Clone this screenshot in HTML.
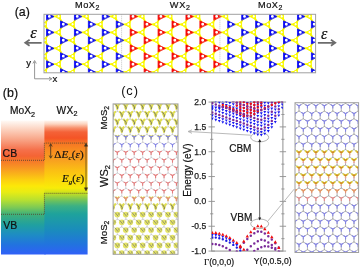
<!DOCTYPE html>
<html><head><meta charset="utf-8"><style>html,body{margin:0;padding:0;background:#fff;width:361px;height:267px;overflow:hidden}svg{display:block;will-change:transform}</style></head>
<body><svg width="361" height="267" viewBox="0 0 361 267">
<defs>
<linearGradient id="gl" x1="0" y1="120.5" x2="0" y2="254.5" gradientUnits="userSpaceOnUse"><stop offset="0.000" stop-color="#fffaf6"/><stop offset="0.071" stop-color="#fcd0bc"/><stop offset="0.146" stop-color="#f8a284"/><stop offset="0.220" stop-color="#f5704a"/><stop offset="0.265" stop-color="#f46434"/><stop offset="0.295" stop-color="#f5742a"/><stop offset="0.369" stop-color="#f8a020"/><stop offset="0.444" stop-color="#fcd010"/><stop offset="0.489" stop-color="#fce808"/><stop offset="0.534" stop-color="#e8ec14"/><stop offset="0.593" stop-color="#b8e030"/><stop offset="0.653" stop-color="#78c858"/><stop offset="0.698" stop-color="#40b078"/><stop offset="0.780" stop-color="#20a0a0"/><stop offset="0.854" stop-color="#1e8cc4"/><stop offset="0.929" stop-color="#2272e0"/><stop offset="1.000" stop-color="#3060f8"/></linearGradient>
<linearGradient id="gr" x1="0" y1="120.5" x2="0" y2="254.5" gradientUnits="userSpaceOnUse"><stop offset="0.000" stop-color="#fff6f0"/><stop offset="0.026" stop-color="#fcd4c0"/><stop offset="0.056" stop-color="#f8906c"/><stop offset="0.086" stop-color="#f46238"/><stop offset="0.131" stop-color="#f45426"/><stop offset="0.168" stop-color="#f67424"/><stop offset="0.220" stop-color="#f88c20"/><stop offset="0.295" stop-color="#f8a020"/><stop offset="0.369" stop-color="#fbbe14"/><stop offset="0.444" stop-color="#fcd80c"/><stop offset="0.504" stop-color="#f8ec08"/><stop offset="0.541" stop-color="#c8e020"/><stop offset="0.571" stop-color="#98d040"/><stop offset="0.601" stop-color="#68c060"/><stop offset="0.638" stop-color="#3cb084"/><stop offset="0.698" stop-color="#1ea29c"/><stop offset="0.817" stop-color="#1a8cbc"/><stop offset="0.929" stop-color="#2272e0"/><stop offset="1.000" stop-color="#3060f8"/></linearGradient>
<marker id="ah" viewBox="0 0 10 10" refX="9" refY="5" markerWidth="5" markerHeight="5" orient="auto-start-reverse"><path d="M0 0L10 5L0 10z" fill="#707070"/></marker>
</defs>
<style>
text{font-family:"Liberation Sans",sans-serif;fill:#111;stroke:#111;stroke-width:0.2px}
.tk{font-size:8.5px;fill:#222;stroke:#222;stroke-width:0.25px}
.lab{font-size:10.5px}
.serg{font-family:"Liberation Serif",serif;font-size:9px}
.ser{font-family:"Liberation Serif",serif;font-style:italic}
</style>
<rect width="361" height="267" fill="#fff"/>
<clipPath id="ca"><rect x="44.0" y="14.3" width="271.6" height="58.5"/></clipPath><g clip-path="url(#ca)" stroke-linecap="round"><path d="M35.41 -7.56L44.71 -7.56M35.41 -7.56L30.76 -15.52M35.41 -7.56L30.76 0.41M35.41 8.37L44.71 8.37M35.41 8.37L30.76 0.41M35.41 8.37L30.76 16.34M35.41 24.30L44.71 24.30M35.41 24.30L30.76 16.34M35.41 24.30L30.76 32.27M35.41 40.23L44.71 40.23M35.41 40.23L30.76 32.27M35.41 40.23L30.76 48.20M35.41 56.16L44.71 56.16M35.41 56.16L30.76 48.19M35.41 56.16L30.76 64.12M35.41 72.09L44.71 72.09M35.41 72.09L30.76 64.12M35.41 72.09L30.76 80.06M35.41 88.02L44.71 88.02M35.41 88.02L30.76 80.05M35.41 88.02L30.76 95.98M35.41 103.95L44.71 103.95M35.41 103.95L30.76 95.98M35.41 103.95L30.76 111.92M49.35 -15.46L58.65 -15.46M49.35 -15.46L44.70 -23.43M49.35 -15.46L44.70 -7.50M49.35 0.47L58.65 0.47M49.35 0.47L44.70 -7.50M49.35 0.47L44.70 8.43M49.35 16.40L58.65 16.40M49.35 16.40L44.70 8.43M49.35 16.40L44.70 24.37M49.35 32.33L58.65 32.33M49.35 32.33L44.70 24.36M49.35 32.33L44.70 40.30M49.35 48.26L58.65 48.26M49.35 48.26L44.70 40.30M49.35 48.26L44.70 56.22M49.35 64.19L58.65 64.19M49.35 64.19L44.70 56.22M49.35 64.19L44.70 72.16M49.35 80.12L58.65 80.12M49.35 80.12L44.70 72.16M49.35 80.12L44.70 88.09M49.35 96.05L58.65 96.05M49.35 96.05L44.70 88.09M49.35 96.05L44.70 104.02M63.29 -7.56L72.59 -7.56M63.29 -7.56L58.64 -15.52M63.29 -7.56L58.64 0.41M63.29 8.37L72.59 8.37M63.29 8.37L58.64 0.41M63.29 8.37L58.64 16.34M63.29 24.30L72.59 24.30M63.29 24.30L58.64 16.34M63.29 24.30L58.64 32.27M63.29 40.23L72.59 40.23M63.29 40.23L58.64 32.27M63.29 40.23L58.64 48.20M63.29 56.16L72.59 56.16M63.29 56.16L58.64 48.19M63.29 56.16L58.64 64.12M63.29 72.09L72.59 72.09M63.29 72.09L58.64 64.12M63.29 72.09L58.64 80.06M63.29 88.02L72.59 88.02M63.29 88.02L58.64 80.05M63.29 88.02L58.64 95.98M63.29 103.95L72.59 103.95M63.29 103.95L58.64 95.98M63.29 103.95L58.64 111.92M77.23 -15.46L86.53 -15.46M77.23 -15.46L72.58 -23.43M77.23 -15.46L72.58 -7.50M77.23 0.47L86.53 0.47M77.23 0.47L72.58 -7.50M77.23 0.47L72.58 8.43M77.23 16.40L86.53 16.40M77.23 16.40L72.58 8.43M77.23 16.40L72.58 24.37M77.23 32.33L86.53 32.33M77.23 32.33L72.58 24.36M77.23 32.33L72.58 40.30M77.23 48.26L86.53 48.26M77.23 48.26L72.58 40.30M77.23 48.26L72.58 56.22M77.23 64.19L86.53 64.19M77.23 64.19L72.58 56.22M77.23 64.19L72.58 72.16M77.23 80.12L86.53 80.12M77.23 80.12L72.58 72.16M77.23 80.12L72.58 88.09M77.23 96.05L86.53 96.05M77.23 96.05L72.58 88.09M77.23 96.05L72.58 104.02M91.17 -7.56L100.47 -7.56M91.17 -7.56L86.52 -15.52M91.17 -7.56L86.52 0.41M91.17 8.37L100.47 8.37M91.17 8.37L86.52 0.41M91.17 8.37L86.52 16.34M91.17 24.30L100.47 24.30M91.17 24.30L86.52 16.34M91.17 24.30L86.52 32.27M91.17 40.23L100.47 40.23M91.17 40.23L86.52 32.27M91.17 40.23L86.52 48.20M91.17 56.16L100.47 56.16M91.17 56.16L86.52 48.19M91.17 56.16L86.52 64.12M91.17 72.09L100.47 72.09M91.17 72.09L86.52 64.12M91.17 72.09L86.52 80.06M91.17 88.02L100.47 88.02M91.17 88.02L86.52 80.05M91.17 88.02L86.52 95.98M91.17 103.95L100.47 103.95M91.17 103.95L86.52 95.98M91.17 103.95L86.52 111.92M105.11 -15.46L114.41 -15.46M105.11 -15.46L100.46 -23.43M105.11 -15.46L100.46 -7.50M105.11 0.47L114.41 0.47M105.11 0.47L100.46 -7.50M105.11 0.47L100.46 8.43M105.11 16.40L114.41 16.40M105.11 16.40L100.46 8.43M105.11 16.40L100.46 24.37M105.11 32.33L114.41 32.33M105.11 32.33L100.46 24.36M105.11 32.33L100.46 40.30M105.11 48.26L114.41 48.26M105.11 48.26L100.46 40.30M105.11 48.26L100.46 56.22M105.11 64.19L114.41 64.19M105.11 64.19L100.46 56.22M105.11 64.19L100.46 72.16M105.11 80.12L114.41 80.12M105.11 80.12L100.46 72.16M105.11 80.12L100.46 88.09M105.11 96.05L114.41 96.05M105.11 96.05L100.46 88.09M105.11 96.05L100.46 104.02M119.05 -7.56L128.35 -7.56M119.05 -7.56L114.40 -15.52M119.05 -7.56L114.40 0.41M119.05 8.37L128.35 8.37M119.05 8.37L114.40 0.41M119.05 8.37L114.40 16.34M119.05 24.30L128.35 24.30M119.05 24.30L114.40 16.34M119.05 24.30L114.40 32.27M119.05 40.23L128.35 40.23M119.05 40.23L114.40 32.27M119.05 40.23L114.40 48.20M119.05 56.16L128.35 56.16M119.05 56.16L114.40 48.19M119.05 56.16L114.40 64.12M119.05 72.09L128.35 72.09M119.05 72.09L114.40 64.12M119.05 72.09L114.40 80.06M119.05 88.02L128.35 88.02M119.05 88.02L114.40 80.05M119.05 88.02L114.40 95.98M119.05 103.95L128.35 103.95M119.05 103.95L114.40 95.98M119.05 103.95L114.40 111.92M132.99 -15.46L142.29 -15.46M132.99 -15.46L128.34 -23.43M132.99 -15.46L128.34 -7.50M132.99 0.47L142.29 0.47M132.99 0.47L128.34 -7.50M132.99 0.47L128.34 8.43M132.99 16.40L142.29 16.40M132.99 16.40L128.34 8.43M132.99 16.40L128.34 24.37M132.99 32.33L142.29 32.33M132.99 32.33L128.34 24.36M132.99 32.33L128.34 40.30M132.99 48.26L142.29 48.26M132.99 48.26L128.34 40.30M132.99 48.26L128.34 56.22M132.99 64.19L142.29 64.19M132.99 64.19L128.34 56.22M132.99 64.19L128.34 72.16M132.99 80.12L142.29 80.12M132.99 80.12L128.34 72.16M132.99 80.12L128.34 88.09M132.99 96.05L142.29 96.05M132.99 96.05L128.34 88.09M132.99 96.05L128.34 104.02M146.93 -7.56L156.23 -7.56M146.93 -7.56L142.28 -15.52M146.93 -7.56L142.28 0.41M146.93 8.37L156.23 8.37M146.93 8.37L142.28 0.41M146.93 8.37L142.28 16.34M146.93 24.30L156.23 24.30M146.93 24.30L142.28 16.34M146.93 24.30L142.28 32.27M146.93 40.23L156.23 40.23M146.93 40.23L142.28 32.27M146.93 40.23L142.28 48.20M146.93 56.16L156.23 56.16M146.93 56.16L142.28 48.19M146.93 56.16L142.28 64.12M146.93 72.09L156.23 72.09M146.93 72.09L142.28 64.12M146.93 72.09L142.28 80.06M146.93 88.02L156.23 88.02M146.93 88.02L142.28 80.05M146.93 88.02L142.28 95.98M146.93 103.95L156.23 103.95M146.93 103.95L142.28 95.98M146.93 103.95L142.28 111.92M160.87 -15.46L170.17 -15.46M160.87 -15.46L156.22 -23.43M160.87 -15.46L156.22 -7.50M160.87 0.47L170.17 0.47M160.87 0.47L156.22 -7.50M160.87 0.47L156.22 8.43M160.87 16.40L170.17 16.40M160.87 16.40L156.22 8.43M160.87 16.40L156.22 24.37M160.87 32.33L170.17 32.33M160.87 32.33L156.22 24.36M160.87 32.33L156.22 40.30M160.87 48.26L170.17 48.26M160.87 48.26L156.22 40.30M160.87 48.26L156.22 56.22M160.87 64.19L170.17 64.19M160.87 64.19L156.22 56.22M160.87 64.19L156.22 72.16M160.87 80.12L170.17 80.12M160.87 80.12L156.22 72.16M160.87 80.12L156.22 88.09M160.87 96.05L170.17 96.05M160.87 96.05L156.22 88.09M160.87 96.05L156.22 104.02M174.81 -7.56L184.11 -7.56M174.81 -7.56L170.16 -15.52M174.81 -7.56L170.16 0.41M174.81 8.37L184.11 8.37M174.81 8.37L170.16 0.41M174.81 8.37L170.16 16.34M174.81 24.30L184.11 24.30M174.81 24.30L170.16 16.34M174.81 24.30L170.16 32.27M174.81 40.23L184.11 40.23M174.81 40.23L170.16 32.27M174.81 40.23L170.16 48.20M174.81 56.16L184.11 56.16M174.81 56.16L170.16 48.19M174.81 56.16L170.16 64.12M174.81 72.09L184.11 72.09M174.81 72.09L170.16 64.12M174.81 72.09L170.16 80.06M174.81 88.02L184.11 88.02M174.81 88.02L170.16 80.05M174.81 88.02L170.16 95.98M174.81 103.95L184.11 103.95M174.81 103.95L170.16 95.98M174.81 103.95L170.16 111.92M188.75 -15.46L198.05 -15.46M188.75 -15.46L184.10 -23.43M188.75 -15.46L184.10 -7.50M188.75 0.47L198.05 0.47M188.75 0.47L184.10 -7.50M188.75 0.47L184.10 8.43M188.75 16.40L198.05 16.40M188.75 16.40L184.10 8.43M188.75 16.40L184.10 24.37M188.75 32.33L198.05 32.33M188.75 32.33L184.10 24.36M188.75 32.33L184.10 40.30M188.75 48.26L198.05 48.26M188.75 48.26L184.10 40.30M188.75 48.26L184.10 56.22M188.75 64.19L198.05 64.19M188.75 64.19L184.10 56.22M188.75 64.19L184.10 72.16M188.75 80.12L198.05 80.12M188.75 80.12L184.10 72.16M188.75 80.12L184.10 88.09M188.75 96.05L198.05 96.05M188.75 96.05L184.10 88.09M188.75 96.05L184.10 104.02M202.69 -7.56L211.99 -7.56M202.69 -7.56L198.04 -15.52M202.69 -7.56L198.04 0.41M202.69 8.37L211.99 8.37M202.69 8.37L198.04 0.41M202.69 8.37L198.04 16.34M202.69 24.30L211.99 24.30M202.69 24.30L198.04 16.34M202.69 24.30L198.04 32.27M202.69 40.23L211.99 40.23M202.69 40.23L198.04 32.27M202.69 40.23L198.04 48.20M202.69 56.16L211.99 56.16M202.69 56.16L198.04 48.19M202.69 56.16L198.04 64.12M202.69 72.09L211.99 72.09M202.69 72.09L198.04 64.12M202.69 72.09L198.04 80.06M202.69 88.02L211.99 88.02M202.69 88.02L198.04 80.05M202.69 88.02L198.04 95.98M202.69 103.95L211.99 103.95M202.69 103.95L198.04 95.98M202.69 103.95L198.04 111.92M216.63 -15.46L225.93 -15.46M216.63 -15.46L211.98 -23.43M216.63 -15.46L211.98 -7.50M216.63 0.47L225.93 0.47M216.63 0.47L211.98 -7.50M216.63 0.47L211.98 8.43M216.63 16.40L225.93 16.40M216.63 16.40L211.98 8.43M216.63 16.40L211.98 24.37M216.63 32.33L225.93 32.33M216.63 32.33L211.98 24.36M216.63 32.33L211.98 40.30M216.63 48.26L225.93 48.26M216.63 48.26L211.98 40.30M216.63 48.26L211.98 56.22M216.63 64.19L225.93 64.19M216.63 64.19L211.98 56.22M216.63 64.19L211.98 72.16M216.63 80.12L225.93 80.12M216.63 80.12L211.98 72.16M216.63 80.12L211.98 88.09M216.63 96.05L225.93 96.05M216.63 96.05L211.98 88.09M216.63 96.05L211.98 104.02M230.57 -7.56L239.87 -7.56M230.57 -7.56L225.92 -15.52M230.57 -7.56L225.92 0.41M230.57 8.37L239.87 8.37M230.57 8.37L225.92 0.41M230.57 8.37L225.92 16.34M230.57 24.30L239.87 24.30M230.57 24.30L225.92 16.34M230.57 24.30L225.92 32.27M230.57 40.23L239.87 40.23M230.57 40.23L225.92 32.27M230.57 40.23L225.92 48.20M230.57 56.16L239.87 56.16M230.57 56.16L225.92 48.19M230.57 56.16L225.92 64.12M230.57 72.09L239.87 72.09M230.57 72.09L225.92 64.12M230.57 72.09L225.92 80.06M230.57 88.02L239.87 88.02M230.57 88.02L225.92 80.05M230.57 88.02L225.92 95.98M230.57 103.95L239.87 103.95M230.57 103.95L225.92 95.98M230.57 103.95L225.92 111.92M244.51 -15.46L253.81 -15.46M244.51 -15.46L239.86 -23.43M244.51 -15.46L239.86 -7.50M244.51 0.47L253.81 0.47M244.51 0.47L239.86 -7.50M244.51 0.47L239.86 8.43M244.51 16.40L253.81 16.40M244.51 16.40L239.86 8.43M244.51 16.40L239.86 24.37M244.51 32.33L253.81 32.33M244.51 32.33L239.86 24.36M244.51 32.33L239.86 40.30M244.51 48.26L253.81 48.26M244.51 48.26L239.86 40.30M244.51 48.26L239.86 56.22M244.51 64.19L253.81 64.19M244.51 64.19L239.86 56.22M244.51 64.19L239.86 72.16M244.51 80.12L253.81 80.12M244.51 80.12L239.86 72.16M244.51 80.12L239.86 88.09M244.51 96.05L253.81 96.05M244.51 96.05L239.86 88.09M244.51 96.05L239.86 104.02M258.45 -7.56L267.75 -7.56M258.45 -7.56L253.80 -15.52M258.45 -7.56L253.80 0.41M258.45 8.37L267.75 8.37M258.45 8.37L253.80 0.41M258.45 8.37L253.80 16.34M258.45 24.30L267.75 24.30M258.45 24.30L253.80 16.34M258.45 24.30L253.80 32.27M258.45 40.23L267.75 40.23M258.45 40.23L253.80 32.27M258.45 40.23L253.80 48.20M258.45 56.16L267.75 56.16M258.45 56.16L253.80 48.19M258.45 56.16L253.80 64.12M258.45 72.09L267.75 72.09M258.45 72.09L253.80 64.12M258.45 72.09L253.80 80.06M258.45 88.02L267.75 88.02M258.45 88.02L253.80 80.05M258.45 88.02L253.80 95.98M258.45 103.95L267.75 103.95M258.45 103.95L253.80 95.98M258.45 103.95L253.80 111.92M272.39 -15.46L281.69 -15.46M272.39 -15.46L267.74 -23.43M272.39 -15.46L267.74 -7.50M272.39 0.47L281.69 0.47M272.39 0.47L267.74 -7.50M272.39 0.47L267.74 8.43M272.39 16.40L281.69 16.40M272.39 16.40L267.74 8.43M272.39 16.40L267.74 24.37M272.39 32.33L281.69 32.33M272.39 32.33L267.74 24.36M272.39 32.33L267.74 40.30M272.39 48.26L281.69 48.26M272.39 48.26L267.74 40.30M272.39 48.26L267.74 56.22M272.39 64.19L281.69 64.19M272.39 64.19L267.74 56.22M272.39 64.19L267.74 72.16M272.39 80.12L281.69 80.12M272.39 80.12L267.74 72.16M272.39 80.12L267.74 88.09M272.39 96.05L281.69 96.05M272.39 96.05L267.74 88.09M272.39 96.05L267.74 104.02M286.33 -7.56L295.63 -7.56M286.33 -7.56L281.68 -15.52M286.33 -7.56L281.68 0.41M286.33 8.37L295.63 8.37M286.33 8.37L281.68 0.41M286.33 8.37L281.68 16.34M286.33 24.30L295.63 24.30M286.33 24.30L281.68 16.34M286.33 24.30L281.68 32.27M286.33 40.23L295.63 40.23M286.33 40.23L281.68 32.27M286.33 40.23L281.68 48.20M286.33 56.16L295.63 56.16M286.33 56.16L281.68 48.19M286.33 56.16L281.68 64.12M286.33 72.09L295.63 72.09M286.33 72.09L281.68 64.12M286.33 72.09L281.68 80.06M286.33 88.02L295.63 88.02M286.33 88.02L281.68 80.05M286.33 88.02L281.68 95.98M286.33 103.95L295.63 103.95M286.33 103.95L281.68 95.98M286.33 103.95L281.68 111.92M300.27 -15.46L309.57 -15.46M300.27 -15.46L295.62 -23.43M300.27 -15.46L295.62 -7.50M300.27 0.47L309.57 0.47M300.27 0.47L295.62 -7.50M300.27 0.47L295.62 8.43M300.27 16.40L309.57 16.40M300.27 16.40L295.62 8.43M300.27 16.40L295.62 24.37M300.27 32.33L309.57 32.33M300.27 32.33L295.62 24.36M300.27 32.33L295.62 40.30M300.27 48.26L309.57 48.26M300.27 48.26L295.62 40.30M300.27 48.26L295.62 56.22M300.27 64.19L309.57 64.19M300.27 64.19L295.62 56.22M300.27 64.19L295.62 72.16M300.27 80.12L309.57 80.12M300.27 80.12L295.62 72.16M300.27 80.12L295.62 88.09M300.27 96.05L309.57 96.05M300.27 96.05L295.62 88.09M300.27 96.05L295.62 104.02M314.21 -7.56L323.51 -7.56M314.21 -7.56L309.56 -15.52M314.21 -7.56L309.56 0.41M314.21 8.37L323.51 8.37M314.21 8.37L309.56 0.41M314.21 8.37L309.56 16.34M314.21 24.30L323.51 24.30M314.21 24.30L309.56 16.34M314.21 24.30L309.56 32.27M314.21 40.23L323.51 40.23M314.21 40.23L309.56 32.27M314.21 40.23L309.56 48.20M314.21 56.16L323.51 56.16M314.21 56.16L309.56 48.19M314.21 56.16L309.56 64.12M314.21 72.09L323.51 72.09M314.21 72.09L309.56 64.12M314.21 72.09L309.56 80.06M314.21 88.02L323.51 88.02M314.21 88.02L309.56 80.05M314.21 88.02L309.56 95.98M314.21 103.95L323.51 103.95M314.21 103.95L309.56 95.98M314.21 103.95L309.56 111.92M328.15 -15.46L337.45 -15.46M328.15 -15.46L323.50 -23.43M328.15 -15.46L323.50 -7.50M328.15 0.47L337.45 0.47M328.15 0.47L323.50 -7.50M328.15 0.47L323.50 8.43M328.15 16.40L337.45 16.40M328.15 16.40L323.50 8.43M328.15 16.40L323.50 24.37M328.15 32.33L337.45 32.33M328.15 32.33L323.50 24.36M328.15 32.33L323.50 40.30M328.15 48.26L337.45 48.26M328.15 48.26L323.50 40.30M328.15 48.26L323.50 56.22M328.15 64.19L337.45 64.19M328.15 64.19L323.50 56.22M328.15 64.19L323.50 72.16M328.15 80.12L337.45 80.12M328.15 80.12L323.50 72.16M328.15 80.12L323.50 88.09M328.15 96.05L337.45 96.05M328.15 96.05L323.50 88.09M328.15 96.05L323.50 104.02" stroke="#fafa00" stroke-width="1.8" fill="none"/><path d="M125.34 72.16L130.04 69.46L130.04 74.86ZM292.63 8.37L297.33 5.67L297.33 11.07ZM41.70 40.30L46.40 37.60L46.40 43.00ZM41.71 24.30L46.41 21.60L46.41 27.00ZM139.29 48.26L143.99 45.56L143.99 50.96ZM250.80 111.92L255.50 109.22L255.50 114.62ZM97.47 56.16L102.17 53.46L102.17 58.86ZM55.65 0.47L60.35 -2.23L60.35 3.17ZM292.62 88.09L297.32 85.39L297.32 90.79ZM292.63 40.23L297.33 37.53L297.33 42.93ZM111.40 95.98L116.10 93.28L116.10 98.68ZM83.52 0.41L88.22 -2.29L88.22 3.11ZM153.22 40.30L157.92 37.60L157.92 43.00ZM83.53 32.33L88.23 29.63L88.23 35.03ZM306.57 96.05L311.27 93.35L311.27 98.75ZM208.99 8.37L213.69 5.67L213.69 11.07ZM167.17 16.40L171.87 13.70L171.87 19.10ZM278.69 80.12L283.39 77.42L283.39 82.82ZM125.35 24.30L130.05 21.60L130.05 27.00ZM139.28 64.12L143.98 61.42L143.98 66.82ZM41.71 88.02L46.41 85.32L46.41 90.72ZM236.86 104.02L241.56 101.32L241.56 106.72ZM195.04 0.41L199.74 -2.29L199.74 3.11ZM222.93 96.05L227.63 93.35L227.63 98.75ZM139.28 16.34L143.98 13.64L143.98 19.04ZM208.98 24.36L213.68 21.66L213.68 27.06ZM55.64 32.27L60.34 29.57L60.34 34.97ZM111.40 0.41L116.10 -2.29L116.10 3.11ZM55.65 32.33L60.35 29.63L60.35 35.03ZM41.71 -7.56L46.41 -10.26L46.41 -4.86ZM278.69 -15.46L283.39 -18.16L283.39 -12.76ZM208.98 88.09L213.68 85.39L213.68 90.79ZM139.28 48.20L143.98 45.50L143.98 50.90ZM278.68 48.19L283.38 45.49L283.38 50.89ZM306.56 111.92L311.26 109.22L311.26 114.62ZM292.62 8.43L297.32 5.73L297.32 11.13ZM236.87 103.95L241.57 101.25L241.57 106.65ZM83.52 64.12L88.22 61.42L88.22 66.82ZM153.23 56.16L157.93 53.46L157.93 58.86ZM97.46 56.22L102.16 53.52L102.16 58.92ZM97.47 8.37L102.17 5.67L102.17 11.07ZM264.74 24.36L269.44 21.66L269.44 27.06ZM167.17 80.12L171.87 77.42L171.87 82.82ZM139.29 32.33L143.99 29.63L143.99 35.03ZM292.62 -7.50L297.32 -10.20L297.32 -4.80ZM83.52 16.34L88.22 13.64L88.22 19.04ZM195.04 64.12L199.74 61.42L199.74 66.82ZM278.69 0.47L283.39 -2.23L283.39 3.17ZM320.51 72.09L325.21 69.39L325.21 74.79ZM97.47 40.23L102.17 37.53L102.17 42.93ZM222.92 48.19L227.62 45.49L227.62 50.89ZM334.45 64.19L339.15 61.49L339.15 66.89ZM292.62 104.02L297.32 101.32L297.32 106.72ZM69.59 56.16L74.29 53.46L74.29 58.86ZM83.53 16.40L88.23 13.70L88.23 19.10ZM27.76 0.41L32.46 -2.29L32.46 3.11ZM250.80 80.06L255.50 77.36L255.50 82.76ZM195.04 16.34L199.74 13.64L199.74 19.04ZM181.11 103.95L185.81 101.25L185.81 106.65ZM139.28 80.05L143.98 77.35L143.98 82.75ZM111.40 64.12L116.10 61.42L116.10 66.82ZM320.50 72.16L325.20 69.46L325.20 74.86ZM125.34 56.22L130.04 53.52L130.04 58.92ZM250.81 64.19L255.51 61.49L255.51 66.89ZM41.70 24.36L46.40 21.66L46.40 27.06ZM83.52 48.20L88.22 45.50L88.22 50.90ZM167.16 0.41L171.86 -2.29L171.86 3.11ZM97.46 40.30L102.16 37.60L102.16 43.00ZM208.98 8.43L213.68 5.73L213.68 11.13ZM250.80 95.98L255.50 93.28L255.50 98.68ZM153.22 24.36L157.92 21.66L157.92 27.06ZM69.58 104.02L74.28 101.32L74.28 106.72ZM195.04 48.20L199.74 45.50L199.74 50.90ZM55.65 16.40L60.35 13.70L60.35 19.10ZM264.75 -7.56L269.45 -10.26L269.45 -4.86ZM139.28 -15.52L143.98 -18.22L143.98 -12.82ZM41.70 88.09L46.40 85.39L46.40 90.79ZM208.98 -7.50L213.68 -10.20L213.68 -4.80ZM153.23 8.37L157.93 5.67L157.93 11.07ZM320.51 24.30L325.21 21.60L325.21 27.00ZM208.98 104.02L213.68 101.32L213.68 106.72ZM111.40 111.92L116.10 109.22L116.10 114.62ZM139.28 32.27L143.98 29.57L143.98 34.97ZM83.52 80.05L88.22 77.35L88.22 82.75ZM153.22 88.09L157.92 85.39L157.92 90.79ZM153.23 40.23L157.93 37.53L157.93 42.93ZM83.53 80.12L88.23 77.42L88.23 82.82ZM27.76 64.12L32.46 61.42L32.46 66.82ZM167.17 96.05L171.87 93.35L171.87 98.75ZM69.59 8.37L74.29 5.67L74.29 11.07ZM139.29 16.40L143.99 13.70L143.99 19.10ZM306.56 80.06L311.26 77.36L311.26 82.76ZM292.62 -23.43L297.32 -26.13L297.32 -20.73ZM236.87 72.09L241.57 69.39L241.57 74.79ZM195.04 80.05L199.74 77.35L199.74 82.75ZM320.51 88.02L325.21 85.32L325.21 90.72ZM264.74 -7.50L269.44 -10.20L269.44 -4.80ZM334.45 48.26L339.15 45.56L339.15 50.96ZM69.59 40.23L74.29 37.53L74.29 42.93ZM306.57 64.19L311.27 61.49L311.27 66.89ZM222.92 111.92L227.62 109.22L227.62 114.62ZM83.52 -15.52L88.22 -18.22L88.22 -12.82ZM306.56 95.98L311.26 93.28L311.26 98.68ZM236.86 72.16L241.56 69.46L241.56 74.86ZM41.71 56.16L46.41 53.46L46.41 58.86ZM111.40 80.05L116.10 77.35L116.10 82.75ZM83.53 -15.46L88.23 -18.16L88.23 -12.76ZM55.65 80.12L60.35 77.42L60.35 82.82ZM250.81 48.26L255.51 45.56L255.51 50.96ZM27.76 111.92L32.46 109.22L32.46 114.62ZM41.70 8.43L46.40 5.73L46.40 11.13ZM320.51 -7.56L325.21 -10.26L325.21 -4.86ZM195.04 -15.52L199.74 -18.22L199.74 -12.82ZM181.11 72.09L185.81 69.39L185.81 74.79ZM195.05 64.19L199.75 61.49L199.75 66.89ZM264.74 40.30L269.44 37.60L269.44 43.00ZM334.45 0.47L339.15 -2.23L339.15 3.17ZM41.70 -7.50L46.40 -10.20L46.40 -4.80ZM167.16 111.92L171.86 109.22L171.86 114.62ZM153.22 8.43L157.92 5.73L157.92 11.13ZM97.47 103.95L102.17 101.25L102.17 106.65ZM41.70 104.02L46.40 101.32L46.40 106.72ZM208.98 -23.43L213.68 -26.13L213.68 -20.73ZM236.87 24.30L241.57 21.60L241.57 27.00ZM320.50 56.22L325.20 53.52L325.20 58.92ZM55.65 -15.46L60.35 -18.16L60.35 -12.76ZM250.80 16.34L255.50 13.64L255.50 19.04ZM153.22 104.02L157.92 101.32L157.92 106.72ZM97.46 24.36L102.16 21.66L102.16 27.06ZM83.53 96.05L88.23 93.35L88.23 98.75ZM236.87 88.02L241.57 85.32L241.57 90.72ZM55.64 111.92L60.34 109.22L60.34 114.62ZM181.11 24.30L185.81 21.60L185.81 27.00ZM264.74 -23.43L269.44 -26.13L269.44 -20.73ZM334.45 32.33L339.15 29.63L339.15 35.03ZM41.71 8.37L46.41 5.67L46.41 11.07ZM111.41 64.19L116.11 61.49L116.11 66.89ZM139.29 -15.46L143.99 -18.16L143.99 -12.76ZM306.57 48.26L311.27 45.56L311.27 50.96ZM250.80 48.20L255.50 45.50L255.50 50.90ZM139.28 48.19L143.98 45.49L143.98 50.89ZM264.75 56.16L269.45 53.46L269.45 58.86ZM41.71 40.23L46.41 37.53L46.41 42.93ZM320.50 40.30L325.20 37.60L325.20 43.00ZM125.34 24.36L130.04 21.66L130.04 27.06ZM222.92 80.06L227.62 77.36L227.62 82.76ZM55.65 96.05L60.35 93.35L60.35 98.75ZM250.81 32.33L255.51 29.63L255.51 35.03ZM181.11 88.02L185.81 85.32L185.81 90.72ZM306.56 64.12L311.26 61.42L311.26 66.82ZM195.05 48.26L199.75 45.56L199.75 50.96ZM208.99 40.23L213.69 37.53L213.69 42.93ZM139.29 0.47L143.99 -2.23L143.99 3.17ZM41.70 -23.43L46.40 -26.13L46.40 -20.73ZM27.76 80.06L32.46 77.36L32.46 82.76ZM69.58 72.16L74.28 69.46L74.28 74.86ZM222.92 95.98L227.62 93.28L227.62 98.68ZM306.56 16.34L311.26 13.64L311.26 19.04ZM250.80 80.05L255.50 77.35L255.50 82.75ZM125.35 88.02L130.05 85.32L130.05 90.72ZM236.86 56.22L241.56 53.52L241.56 58.92ZM167.16 80.06L171.86 77.36L171.86 82.76ZM153.22 -23.43L157.92 -26.13L157.92 -20.73ZM97.47 72.09L102.17 69.39L102.17 74.79ZM181.10 72.16L185.80 69.46L185.80 74.86ZM278.68 0.41L283.38 -2.29L283.38 3.11ZM181.11 -7.56L185.81 -10.26L185.81 -4.86ZM27.76 95.98L32.46 93.28L32.46 98.68ZM97.46 8.43L102.16 5.73L102.16 11.13ZM167.17 64.19L171.87 61.49L171.87 66.89ZM195.05 0.47L199.75 -2.23L199.75 3.17ZM306.56 48.20L311.26 45.50L311.26 50.90ZM167.16 95.98L171.86 93.28L171.86 98.68ZM250.80 -15.52L255.50 -18.22L255.50 -12.82ZM195.04 48.19L199.74 45.49L199.74 50.89ZM97.46 -7.50L102.16 -10.20L102.16 -4.80ZM320.51 56.16L325.21 53.46L325.21 58.86ZM264.75 8.37L269.45 5.67L269.45 11.07ZM334.45 16.40L339.15 13.70L339.15 19.10ZM222.92 0.41L227.62 -2.29L227.62 3.11ZM125.35 -7.56L130.05 -10.26L130.05 -4.86ZM111.41 48.26L116.11 45.56L116.11 50.96ZM250.80 32.27L255.50 29.57L255.50 34.97ZM55.64 80.06L60.34 77.36L60.34 82.76ZM264.74 88.09L269.44 85.39L269.44 90.79ZM264.75 40.23L269.45 37.53L269.45 42.93ZM236.86 40.30L241.56 37.60L241.56 43.00ZM278.69 96.05L283.39 93.35L283.39 98.75ZM250.81 16.40L255.51 13.70L255.51 19.10ZM97.47 24.30L102.17 21.60L102.17 27.00ZM195.05 32.33L199.75 29.63L199.75 35.03ZM306.56 80.05L311.26 77.35L311.26 82.75ZM55.64 95.98L60.34 93.28L60.34 98.68ZM278.68 64.12L283.38 61.42L283.38 66.82ZM125.34 -7.50L130.04 -10.20L130.04 -4.80ZM292.62 56.22L297.32 53.52L297.32 58.92ZM111.41 0.47L116.11 -2.23L116.11 3.17ZM153.23 72.09L157.93 69.39L157.93 74.79ZM111.40 16.34L116.10 13.64L116.10 19.04ZM292.63 103.95L297.33 101.25L297.33 106.65ZM320.50 24.36L325.20 21.66L325.20 27.06ZM97.47 88.02L102.17 85.32L102.17 90.72ZM222.92 64.12L227.62 61.42L227.62 66.82ZM334.45 80.12L339.15 77.42L339.15 82.82ZM306.56 -15.52L311.26 -18.22L311.26 -12.82ZM153.22 72.16L157.92 69.46L157.92 74.86ZM320.51 8.37L325.21 5.67L325.21 11.07ZM167.17 48.26L171.87 45.56L171.87 50.96ZM111.40 48.20L116.10 45.50L116.10 50.90ZM278.68 111.92L283.38 109.22L283.38 114.62ZM264.74 8.43L269.44 5.73L269.44 11.13ZM208.99 103.95L213.69 101.25L213.69 106.65ZM55.64 0.41L60.34 -2.29L60.34 3.11ZM125.34 40.30L130.04 37.60L130.04 43.00ZM306.56 32.27L311.26 29.57L311.26 34.97ZM69.58 56.22L74.28 53.52L74.28 58.92ZM320.50 88.09L325.20 85.39L325.20 90.79ZM97.46 -23.43L102.16 -26.13L102.16 -20.73ZM250.81 80.12L255.51 77.42L255.51 82.82ZM320.51 40.23L325.21 37.53L325.21 42.93ZM111.41 32.33L116.11 29.63L116.11 35.03ZM27.76 16.34L32.46 13.64L32.46 19.04ZM167.16 64.12L171.86 61.42L171.86 66.82ZM181.10 56.22L185.80 53.52L185.80 58.92ZM264.74 104.02L269.44 101.32L269.44 106.72ZM334.45 -15.46L339.15 -18.16L339.15 -12.76ZM167.16 16.34L171.86 13.64L171.86 19.04ZM181.11 56.16L185.81 53.46L185.81 58.86ZM195.05 16.40L199.75 13.70L199.75 19.10ZM83.52 32.27L88.22 29.57L88.22 34.97ZM222.93 64.19L227.63 61.49L227.63 66.89ZM125.34 -23.43L130.04 -26.13L130.04 -20.73ZM250.81 -15.46L255.51 -18.16L255.51 -12.76ZM27.76 48.20L32.46 45.50L32.46 50.90ZM69.58 40.30L74.28 37.60L74.28 43.00ZM250.80 48.19L255.50 45.49L255.50 50.89ZM195.04 32.27L199.74 29.57L199.74 34.97ZM55.64 64.12L60.34 61.42L60.34 66.82ZM125.35 56.16L130.05 53.46L130.05 58.86ZM236.86 24.36L241.56 21.66L241.56 27.06ZM167.16 48.20L171.86 45.50L171.86 50.90ZM139.29 80.12L143.99 77.42L143.99 82.82ZM320.50 8.43L325.20 5.73L325.20 11.13ZM264.75 103.95L269.45 101.25L269.45 106.65ZM181.10 40.30L185.80 37.60L185.80 43.00ZM111.40 -15.52L116.10 -18.22L116.10 -12.82ZM222.92 80.05L227.62 77.35L227.62 82.75ZM334.45 96.05L339.15 93.35L339.15 98.75ZM55.64 16.34L60.34 13.64L60.34 19.04ZM167.17 32.33L171.87 29.63L171.87 35.03ZM250.81 0.47L255.51 -2.23L255.51 3.17ZM292.63 72.09L297.33 69.39L297.33 74.79ZM111.40 32.27L116.10 29.57L116.10 34.97ZM320.50 -7.50L325.20 -10.20L325.20 -4.80ZM27.76 80.05L32.46 77.35L32.46 82.75ZM320.50 104.02L325.20 101.32L325.20 106.72ZM41.70 56.22L46.40 53.52L46.40 58.92ZM111.41 16.40L116.11 13.70L116.11 19.10ZM278.68 80.06L283.38 77.36L283.38 82.76ZM222.92 -15.52L227.62 -18.22L227.62 -12.82ZM195.05 80.12L199.75 77.42L199.75 82.82ZM208.99 72.09L213.69 69.39L213.69 74.79ZM292.62 72.16L297.32 69.46L297.32 74.86ZM167.16 80.05L171.86 77.35L171.86 82.75ZM97.46 88.09L102.16 85.39L102.16 90.79ZM55.64 48.20L60.34 45.50L60.34 50.90ZM181.11 8.37L185.81 5.67L185.81 11.07ZM139.28 0.41L143.98 -2.29L143.98 3.11ZM153.22 56.22L157.92 53.52L157.92 58.92ZM278.69 64.19L283.39 61.49L283.39 66.89ZM27.76 -15.52L32.46 -18.22L32.46 -12.82ZM278.68 95.98L283.38 93.28L283.38 98.68ZM181.11 40.23L185.81 37.53L185.81 42.93ZM306.56 48.19L311.26 45.49L311.26 50.89ZM153.23 103.95L157.93 101.25L157.93 106.65ZM236.87 -7.56L241.57 -10.26L241.57 -4.86ZM222.93 48.26L227.63 45.56L227.63 50.96ZM125.35 8.37L130.05 5.67L130.05 11.07ZM27.76 32.27L32.46 29.57L32.46 34.97ZM292.63 24.30L297.33 21.60L297.33 27.00ZM167.16 -15.52L171.86 -18.22L171.86 -12.82ZM195.05 -15.46L199.75 -18.16L199.75 -12.76ZM55.64 80.05L60.34 77.35L60.34 82.75ZM125.34 88.09L130.04 85.39L130.04 90.79ZM125.35 40.23L130.05 37.53L130.05 42.93ZM306.57 0.47L311.27 -2.23L311.27 3.17ZM236.86 8.43L241.56 5.73L241.56 11.13ZM69.59 103.95L74.29 101.25L74.29 106.65ZM167.16 32.27L171.86 29.57L171.86 34.97ZM139.29 96.05L143.99 93.35L143.99 98.75ZM208.99 24.30L213.69 21.60L213.69 27.00ZM111.41 80.12L116.11 77.42L116.11 82.82ZM208.98 72.16L213.68 69.46L213.68 74.86ZM292.63 88.02L297.33 85.32L297.33 90.72ZM236.86 -7.50L241.56 -10.20L241.56 -4.80ZM83.52 48.19L88.22 45.49L88.22 50.89ZM320.50 -23.43L325.20 -26.13L325.20 -20.73ZM222.93 0.47L227.63 -2.23L227.63 3.17ZM264.75 72.09L269.45 69.39L269.45 74.79ZM69.58 24.36L74.28 21.66L74.28 27.06ZM55.64 -15.52L60.34 -18.22L60.34 -12.82ZM195.05 96.05L199.75 93.35L199.75 98.75ZM208.99 88.02L213.69 85.32L213.69 90.72ZM181.10 24.36L185.80 21.66L185.80 27.06ZM306.57 32.33L311.27 29.63L311.27 35.03ZM97.46 104.02L102.16 101.32L102.16 106.72ZM264.74 72.16L269.44 69.46L269.44 74.86ZM292.63 -7.56L297.33 -10.26L297.33 -4.86ZM69.58 88.09L74.28 85.39L74.28 90.79ZM111.41 -15.46L116.11 -18.16L116.11 -12.76ZM278.69 48.26L283.39 45.56L283.39 50.96ZM111.40 48.19L116.10 45.49L116.10 50.89ZM139.28 111.92L143.98 109.22L143.98 114.62ZM125.34 8.43L130.04 5.73L130.04 11.13ZM181.10 88.09L185.80 85.39L185.80 90.79ZM222.93 32.33L227.63 29.63L227.63 35.03ZM208.99 -7.56L213.69 -10.26L213.69 -4.86ZM264.75 24.30L269.45 21.60L269.45 27.00ZM125.34 104.02L130.04 101.32L130.04 106.72ZM41.70 72.16L46.40 69.46L46.40 74.86ZM278.68 16.34L283.38 13.64L283.38 19.04ZM111.41 96.05L116.11 93.35L116.11 98.75ZM41.71 103.95L46.41 101.25L46.41 106.65ZM236.86 -23.43L241.56 -26.13L241.56 -20.73ZM69.59 72.09L74.29 69.39L74.29 74.79ZM83.53 64.19L88.23 61.49L88.23 66.89ZM264.75 88.02L269.45 85.32L269.45 90.72ZM27.76 48.19L32.46 45.49L32.46 50.89ZM83.52 111.92L88.22 109.22L88.22 114.62ZM69.58 8.43L74.28 5.73L74.28 11.13ZM222.92 16.34L227.62 13.64L227.62 19.04ZM167.17 -15.46L171.87 -18.16L171.87 -12.76ZM236.87 56.16L241.57 53.46L241.57 58.86ZM278.68 48.20L283.38 45.50L283.38 50.90ZM292.62 40.30L297.32 37.60L297.32 43.00ZM167.16 48.19L171.86 45.49L171.86 50.89ZM69.58 -7.50L74.28 -10.20L74.28 -4.80ZM195.04 111.92L199.74 109.22L199.74 114.62ZM181.10 8.43L185.80 5.73L185.80 11.13ZM125.35 103.95L130.05 101.25L130.05 106.65ZM306.57 16.40L311.27 13.70L311.27 19.10ZM97.47 -7.56L102.17 -10.26L102.17 -4.86ZM208.98 56.22L213.68 53.52L213.68 58.92ZM278.69 32.33L283.39 29.63L283.39 35.03ZM153.23 24.30L157.93 21.60L157.93 27.00ZM181.10 -7.50L185.80 -10.20L185.80 -4.80ZM222.92 48.20L227.62 45.50L227.62 50.90ZM55.65 64.19L60.35 61.49L60.35 66.89ZM167.17 0.47L171.87 -2.23L171.87 3.17ZM222.93 16.40L227.63 13.70L227.63 19.10ZM181.10 104.02L185.80 101.32L185.80 106.72ZM69.59 24.30L74.29 21.60L74.29 27.00ZM139.28 80.06L143.98 77.36L143.98 82.76ZM278.68 80.05L283.38 77.35L283.38 82.75ZM250.80 0.41L255.50 -2.29L255.50 3.11ZM153.23 88.02L157.93 85.32L157.93 90.72ZM55.64 48.19L60.34 45.49L60.34 50.89ZM264.74 56.22L269.44 53.52L269.44 58.92ZM139.29 64.19L143.99 61.49L143.99 66.89ZM208.98 40.30L213.68 37.60L213.68 43.00ZM139.28 95.98L143.98 93.28L143.98 98.68ZM292.63 56.16L297.33 53.46L297.33 58.86ZM236.87 8.37L241.57 5.67L241.57 11.07ZM69.59 88.02L74.29 85.32L74.29 90.72ZM306.57 80.12L311.27 77.42L311.27 82.82ZM83.53 48.26L88.23 45.56L88.23 50.96ZM278.68 -15.52L283.38 -18.22L283.38 -12.82ZM153.23 -7.56L157.93 -10.26L157.93 -4.86ZM41.71 72.09L46.41 69.39L46.41 74.79ZM236.86 88.09L241.56 85.39L241.56 90.79ZM236.87 40.23L241.57 37.53L241.57 42.93ZM278.68 32.27L283.38 29.57L283.38 34.97ZM250.81 96.05L255.51 93.35L255.51 98.75ZM208.99 56.16L213.69 53.46L213.69 58.86ZM83.52 80.06L88.22 77.36L88.22 82.76ZM69.58 -23.43L74.28 -26.13L74.28 -20.73ZM222.93 80.12L227.63 77.42L227.63 82.82ZM97.46 72.16L102.16 69.46L102.16 74.86ZM278.69 16.40L283.39 13.70L283.39 19.10ZM69.59 -7.56L74.29 -10.26L74.29 -4.86ZM250.80 64.12L255.50 61.42L255.50 66.82ZM195.04 80.06L199.74 77.36L199.74 82.76ZM181.10 -23.43L185.80 -26.13L185.80 -20.73ZM83.53 0.47L88.23 -2.23L88.23 3.17ZM125.35 72.09L130.05 69.39L130.05 74.79ZM55.65 48.26L60.35 45.56L60.35 50.96ZM222.92 32.27L227.62 29.57L227.62 34.97ZM306.57 -15.46L311.27 -18.16L311.27 -12.76ZM306.56 0.41L311.26 -2.29L311.26 3.11ZM83.52 95.98L88.22 93.28L88.22 98.68ZM153.22 -7.50L157.92 -10.20L157.92 -4.80ZM292.62 24.36L297.32 21.66L297.32 27.06ZM195.04 95.98L199.74 93.28L199.74 98.68ZM320.51 103.95L325.21 101.25L325.21 106.65ZM111.40 80.06L116.10 77.36L116.10 82.76ZM222.93 -15.46L227.63 -18.16L227.63 -12.76Z" fill="#fafa00" stroke="#fafa00" stroke-width="0.8" stroke-linejoin="round"/><path d="M39.71 -7.56L32.61 -11.01L32.61 -4.11ZM39.71 8.37L32.61 4.92L32.61 11.82ZM39.71 24.30L32.61 20.85L32.61 27.75ZM39.71 40.23L32.61 36.78L32.61 43.68ZM39.71 56.16L32.61 52.71L32.61 59.61ZM39.71 72.09L32.61 68.64L32.61 75.54ZM39.71 88.02L32.61 84.57L32.61 91.47ZM39.71 103.95L32.61 100.50L32.61 107.40ZM53.65 -15.46L46.55 -18.91L46.55 -12.01ZM53.65 0.47L46.55 -2.98L46.55 3.92ZM53.65 16.40L46.55 12.95L46.55 19.85ZM53.65 32.33L46.55 28.88L46.55 35.78ZM53.65 48.26L46.55 44.81L46.55 51.71ZM53.65 64.19L46.55 60.74L46.55 67.64ZM53.65 80.12L46.55 76.67L46.55 83.57ZM53.65 96.05L46.55 92.60L46.55 99.50ZM67.59 -7.56L60.49 -11.01L60.49 -4.11ZM67.59 8.37L60.49 4.92L60.49 11.82ZM67.59 24.30L60.49 20.85L60.49 27.75ZM67.59 40.23L60.49 36.78L60.49 43.68ZM67.59 56.16L60.49 52.71L60.49 59.61ZM67.59 72.09L60.49 68.64L60.49 75.54ZM67.59 88.02L60.49 84.57L60.49 91.47ZM67.59 103.95L60.49 100.50L60.49 107.40ZM81.53 -15.46L74.43 -18.91L74.43 -12.01ZM81.53 0.47L74.43 -2.98L74.43 3.92ZM81.53 16.40L74.43 12.95L74.43 19.85ZM81.53 32.33L74.43 28.88L74.43 35.78ZM81.53 48.26L74.43 44.81L74.43 51.71ZM81.53 64.19L74.43 60.74L74.43 67.64ZM81.53 80.12L74.43 76.67L74.43 83.57ZM81.53 96.05L74.43 92.60L74.43 99.50ZM95.47 -7.56L88.37 -11.01L88.37 -4.11ZM95.47 8.37L88.37 4.92L88.37 11.82ZM95.47 24.30L88.37 20.85L88.37 27.75ZM95.47 40.23L88.37 36.78L88.37 43.68ZM95.47 56.16L88.37 52.71L88.37 59.61ZM95.47 72.09L88.37 68.64L88.37 75.54ZM95.47 88.02L88.37 84.57L88.37 91.47ZM95.47 103.95L88.37 100.50L88.37 107.40ZM109.41 -15.46L102.31 -18.91L102.31 -12.01ZM109.41 0.47L102.31 -2.98L102.31 3.92ZM109.41 16.40L102.31 12.95L102.31 19.85ZM109.41 32.33L102.31 28.88L102.31 35.78ZM109.41 48.26L102.31 44.81L102.31 51.71ZM109.41 64.19L102.31 60.74L102.31 67.64ZM109.41 80.12L102.31 76.67L102.31 83.57ZM109.41 96.05L102.31 92.60L102.31 99.50ZM123.35 -7.56L116.25 -11.01L116.25 -4.11ZM123.35 8.37L116.25 4.92L116.25 11.82ZM123.35 24.30L116.25 20.85L116.25 27.75ZM123.35 40.23L116.25 36.78L116.25 43.68ZM123.35 56.16L116.25 52.71L116.25 59.61ZM123.35 72.09L116.25 68.64L116.25 75.54ZM123.35 88.02L116.25 84.57L116.25 91.47ZM123.35 103.95L116.25 100.50L116.25 107.40ZM234.87 -7.56L227.77 -11.01L227.77 -4.11ZM234.87 8.37L227.77 4.92L227.77 11.82ZM234.87 24.30L227.77 20.85L227.77 27.75ZM234.87 40.23L227.77 36.78L227.77 43.68ZM234.87 56.16L227.77 52.71L227.77 59.61ZM234.87 72.09L227.77 68.64L227.77 75.54ZM234.87 88.02L227.77 84.57L227.77 91.47ZM234.87 103.95L227.77 100.50L227.77 107.40ZM248.81 -15.46L241.71 -18.91L241.71 -12.01ZM248.81 0.47L241.71 -2.98L241.71 3.92ZM248.81 16.40L241.71 12.95L241.71 19.85ZM248.81 32.33L241.71 28.88L241.71 35.78ZM248.81 48.26L241.71 44.81L241.71 51.71ZM248.81 64.19L241.71 60.74L241.71 67.64ZM248.81 80.12L241.71 76.67L241.71 83.57ZM248.81 96.05L241.71 92.60L241.71 99.50ZM262.75 -7.56L255.65 -11.01L255.65 -4.11ZM262.75 8.37L255.65 4.92L255.65 11.82ZM262.75 24.30L255.65 20.85L255.65 27.75ZM262.75 40.23L255.65 36.78L255.65 43.68ZM262.75 56.16L255.65 52.71L255.65 59.61ZM262.75 72.09L255.65 68.64L255.65 75.54ZM262.75 88.02L255.65 84.57L255.65 91.47ZM262.75 103.95L255.65 100.50L255.65 107.40ZM276.69 -15.46L269.59 -18.91L269.59 -12.01ZM276.69 0.47L269.59 -2.98L269.59 3.92ZM276.69 16.40L269.59 12.95L269.59 19.85ZM276.69 32.33L269.59 28.88L269.59 35.78ZM276.69 48.26L269.59 44.81L269.59 51.71ZM276.69 64.19L269.59 60.74L269.59 67.64ZM276.69 80.12L269.59 76.67L269.59 83.57ZM276.69 96.05L269.59 92.60L269.59 99.50ZM290.63 -7.56L283.53 -11.01L283.53 -4.11ZM290.63 8.37L283.53 4.92L283.53 11.82ZM290.63 24.30L283.53 20.85L283.53 27.75ZM290.63 40.23L283.53 36.78L283.53 43.68ZM290.63 56.16L283.53 52.71L283.53 59.61ZM290.63 72.09L283.53 68.64L283.53 75.54ZM290.63 88.02L283.53 84.57L283.53 91.47ZM290.63 103.95L283.53 100.50L283.53 107.40ZM304.57 -15.46L297.47 -18.91L297.47 -12.01ZM304.57 0.47L297.47 -2.98L297.47 3.92ZM304.57 16.40L297.47 12.95L297.47 19.85ZM304.57 32.33L297.47 28.88L297.47 35.78ZM304.57 48.26L297.47 44.81L297.47 51.71ZM304.57 64.19L297.47 60.74L297.47 67.64ZM304.57 80.12L297.47 76.67L297.47 83.57ZM304.57 96.05L297.47 92.60L297.47 99.50ZM318.51 -7.56L311.41 -11.01L311.41 -4.11ZM318.51 8.37L311.41 4.92L311.41 11.82ZM318.51 24.30L311.41 20.85L311.41 27.75ZM318.51 40.23L311.41 36.78L311.41 43.68ZM318.51 56.16L311.41 52.71L311.41 59.61ZM318.51 72.09L311.41 68.64L311.41 75.54ZM318.51 88.02L311.41 84.57L311.41 91.47ZM318.51 103.95L311.41 100.50L311.41 107.40ZM332.45 -15.46L325.35 -18.91L325.35 -12.01ZM332.45 0.47L325.35 -2.98L325.35 3.92ZM332.45 16.40L325.35 12.95L325.35 19.85ZM332.45 32.33L325.35 28.88L325.35 35.78ZM332.45 48.26L325.35 44.81L325.35 51.71ZM332.45 64.19L325.35 60.74L325.35 67.64ZM332.45 80.12L325.35 76.67L325.35 83.57ZM332.45 96.05L325.35 92.60L325.35 99.50Z" fill="#0a0af5" stroke="#0a0af5" stroke-width="0.8" stroke-linejoin="round"/><path d="M137.29 -15.46L130.19 -18.91L130.19 -12.01ZM137.29 0.47L130.19 -2.98L130.19 3.92ZM137.29 16.40L130.19 12.95L130.19 19.85ZM137.29 32.33L130.19 28.88L130.19 35.78ZM137.29 48.26L130.19 44.81L130.19 51.71ZM137.29 64.19L130.19 60.74L130.19 67.64ZM137.29 80.12L130.19 76.67L130.19 83.57ZM137.29 96.05L130.19 92.60L130.19 99.50ZM151.23 -7.56L144.13 -11.01L144.13 -4.11ZM151.23 8.37L144.13 4.92L144.13 11.82ZM151.23 24.30L144.13 20.85L144.13 27.75ZM151.23 40.23L144.13 36.78L144.13 43.68ZM151.23 56.16L144.13 52.71L144.13 59.61ZM151.23 72.09L144.13 68.64L144.13 75.54ZM151.23 88.02L144.13 84.57L144.13 91.47ZM151.23 103.95L144.13 100.50L144.13 107.40ZM165.17 -15.46L158.07 -18.91L158.07 -12.01ZM165.17 0.47L158.07 -2.98L158.07 3.92ZM165.17 16.40L158.07 12.95L158.07 19.85ZM165.17 32.33L158.07 28.88L158.07 35.78ZM165.17 48.26L158.07 44.81L158.07 51.71ZM165.17 64.19L158.07 60.74L158.07 67.64ZM165.17 80.12L158.07 76.67L158.07 83.57ZM165.17 96.05L158.07 92.60L158.07 99.50ZM179.11 -7.56L172.01 -11.01L172.01 -4.11ZM179.11 8.37L172.01 4.92L172.01 11.82ZM179.11 24.30L172.01 20.85L172.01 27.75ZM179.11 40.23L172.01 36.78L172.01 43.68ZM179.11 56.16L172.01 52.71L172.01 59.61ZM179.11 72.09L172.01 68.64L172.01 75.54ZM179.11 88.02L172.01 84.57L172.01 91.47ZM179.11 103.95L172.01 100.50L172.01 107.40ZM193.05 -15.46L185.95 -18.91L185.95 -12.01ZM193.05 0.47L185.95 -2.98L185.95 3.92ZM193.05 16.40L185.95 12.95L185.95 19.85ZM193.05 32.33L185.95 28.88L185.95 35.78ZM193.05 48.26L185.95 44.81L185.95 51.71ZM193.05 64.19L185.95 60.74L185.95 67.64ZM193.05 80.12L185.95 76.67L185.95 83.57ZM193.05 96.05L185.95 92.60L185.95 99.50ZM206.99 -7.56L199.89 -11.01L199.89 -4.11ZM206.99 8.37L199.89 4.92L199.89 11.82ZM206.99 24.30L199.89 20.85L199.89 27.75ZM206.99 40.23L199.89 36.78L199.89 43.68ZM206.99 56.16L199.89 52.71L199.89 59.61ZM206.99 72.09L199.89 68.64L199.89 75.54ZM206.99 88.02L199.89 84.57L199.89 91.47ZM206.99 103.95L199.89 100.50L199.89 107.40ZM220.93 -15.46L213.83 -18.91L213.83 -12.01ZM220.93 0.47L213.83 -2.98L213.83 3.92ZM220.93 16.40L213.83 12.95L213.83 19.85ZM220.93 32.33L213.83 28.88L213.83 35.78ZM220.93 48.26L213.83 44.81L213.83 51.71ZM220.93 64.19L213.83 60.74L213.83 67.64ZM220.93 80.12L213.83 76.67L213.83 83.57ZM220.93 96.05L213.83 92.60L213.83 99.50Z" fill="#f50a0a" stroke="#f50a0a" stroke-width="0.8" stroke-linejoin="round"/><path d="M33.96 -7.56a1.45 1.45 0 1 0 2.9 0a1.45 1.45 0 1 0 -2.9 0M33.96 8.37a1.45 1.45 0 1 0 2.9 0a1.45 1.45 0 1 0 -2.9 0M33.96 24.30a1.45 1.45 0 1 0 2.9 0a1.45 1.45 0 1 0 -2.9 0M33.96 40.23a1.45 1.45 0 1 0 2.9 0a1.45 1.45 0 1 0 -2.9 0M33.96 56.16a1.45 1.45 0 1 0 2.9 0a1.45 1.45 0 1 0 -2.9 0M33.96 72.09a1.45 1.45 0 1 0 2.9 0a1.45 1.45 0 1 0 -2.9 0M33.96 88.02a1.45 1.45 0 1 0 2.9 0a1.45 1.45 0 1 0 -2.9 0M33.96 103.95a1.45 1.45 0 1 0 2.9 0a1.45 1.45 0 1 0 -2.9 0M47.90 -15.46a1.45 1.45 0 1 0 2.9 0a1.45 1.45 0 1 0 -2.9 0M47.90 0.47a1.45 1.45 0 1 0 2.9 0a1.45 1.45 0 1 0 -2.9 0M47.90 16.40a1.45 1.45 0 1 0 2.9 0a1.45 1.45 0 1 0 -2.9 0M47.90 32.33a1.45 1.45 0 1 0 2.9 0a1.45 1.45 0 1 0 -2.9 0M47.90 48.26a1.45 1.45 0 1 0 2.9 0a1.45 1.45 0 1 0 -2.9 0M47.90 64.19a1.45 1.45 0 1 0 2.9 0a1.45 1.45 0 1 0 -2.9 0M47.90 80.12a1.45 1.45 0 1 0 2.9 0a1.45 1.45 0 1 0 -2.9 0M47.90 96.05a1.45 1.45 0 1 0 2.9 0a1.45 1.45 0 1 0 -2.9 0M61.84 -7.56a1.45 1.45 0 1 0 2.9 0a1.45 1.45 0 1 0 -2.9 0M61.84 8.37a1.45 1.45 0 1 0 2.9 0a1.45 1.45 0 1 0 -2.9 0M61.84 24.30a1.45 1.45 0 1 0 2.9 0a1.45 1.45 0 1 0 -2.9 0M61.84 40.23a1.45 1.45 0 1 0 2.9 0a1.45 1.45 0 1 0 -2.9 0M61.84 56.16a1.45 1.45 0 1 0 2.9 0a1.45 1.45 0 1 0 -2.9 0M61.84 72.09a1.45 1.45 0 1 0 2.9 0a1.45 1.45 0 1 0 -2.9 0M61.84 88.02a1.45 1.45 0 1 0 2.9 0a1.45 1.45 0 1 0 -2.9 0M61.84 103.95a1.45 1.45 0 1 0 2.9 0a1.45 1.45 0 1 0 -2.9 0M75.78 -15.46a1.45 1.45 0 1 0 2.9 0a1.45 1.45 0 1 0 -2.9 0M75.78 0.47a1.45 1.45 0 1 0 2.9 0a1.45 1.45 0 1 0 -2.9 0M75.78 16.40a1.45 1.45 0 1 0 2.9 0a1.45 1.45 0 1 0 -2.9 0M75.78 32.33a1.45 1.45 0 1 0 2.9 0a1.45 1.45 0 1 0 -2.9 0M75.78 48.26a1.45 1.45 0 1 0 2.9 0a1.45 1.45 0 1 0 -2.9 0M75.78 64.19a1.45 1.45 0 1 0 2.9 0a1.45 1.45 0 1 0 -2.9 0M75.78 80.12a1.45 1.45 0 1 0 2.9 0a1.45 1.45 0 1 0 -2.9 0M75.78 96.05a1.45 1.45 0 1 0 2.9 0a1.45 1.45 0 1 0 -2.9 0M89.72 -7.56a1.45 1.45 0 1 0 2.9 0a1.45 1.45 0 1 0 -2.9 0M89.72 8.37a1.45 1.45 0 1 0 2.9 0a1.45 1.45 0 1 0 -2.9 0M89.72 24.30a1.45 1.45 0 1 0 2.9 0a1.45 1.45 0 1 0 -2.9 0M89.72 40.23a1.45 1.45 0 1 0 2.9 0a1.45 1.45 0 1 0 -2.9 0M89.72 56.16a1.45 1.45 0 1 0 2.9 0a1.45 1.45 0 1 0 -2.9 0M89.72 72.09a1.45 1.45 0 1 0 2.9 0a1.45 1.45 0 1 0 -2.9 0M89.72 88.02a1.45 1.45 0 1 0 2.9 0a1.45 1.45 0 1 0 -2.9 0M89.72 103.95a1.45 1.45 0 1 0 2.9 0a1.45 1.45 0 1 0 -2.9 0M103.66 -15.46a1.45 1.45 0 1 0 2.9 0a1.45 1.45 0 1 0 -2.9 0M103.66 0.47a1.45 1.45 0 1 0 2.9 0a1.45 1.45 0 1 0 -2.9 0M103.66 16.40a1.45 1.45 0 1 0 2.9 0a1.45 1.45 0 1 0 -2.9 0M103.66 32.33a1.45 1.45 0 1 0 2.9 0a1.45 1.45 0 1 0 -2.9 0M103.66 48.26a1.45 1.45 0 1 0 2.9 0a1.45 1.45 0 1 0 -2.9 0M103.66 64.19a1.45 1.45 0 1 0 2.9 0a1.45 1.45 0 1 0 -2.9 0M103.66 80.12a1.45 1.45 0 1 0 2.9 0a1.45 1.45 0 1 0 -2.9 0M103.66 96.05a1.45 1.45 0 1 0 2.9 0a1.45 1.45 0 1 0 -2.9 0M117.60 -7.56a1.45 1.45 0 1 0 2.9 0a1.45 1.45 0 1 0 -2.9 0M117.60 8.37a1.45 1.45 0 1 0 2.9 0a1.45 1.45 0 1 0 -2.9 0M117.60 24.30a1.45 1.45 0 1 0 2.9 0a1.45 1.45 0 1 0 -2.9 0M117.60 40.23a1.45 1.45 0 1 0 2.9 0a1.45 1.45 0 1 0 -2.9 0M117.60 56.16a1.45 1.45 0 1 0 2.9 0a1.45 1.45 0 1 0 -2.9 0M117.60 72.09a1.45 1.45 0 1 0 2.9 0a1.45 1.45 0 1 0 -2.9 0M117.60 88.02a1.45 1.45 0 1 0 2.9 0a1.45 1.45 0 1 0 -2.9 0M117.60 103.95a1.45 1.45 0 1 0 2.9 0a1.45 1.45 0 1 0 -2.9 0M131.54 -15.46a1.45 1.45 0 1 0 2.9 0a1.45 1.45 0 1 0 -2.9 0M131.54 0.47a1.45 1.45 0 1 0 2.9 0a1.45 1.45 0 1 0 -2.9 0M131.54 16.40a1.45 1.45 0 1 0 2.9 0a1.45 1.45 0 1 0 -2.9 0M131.54 32.33a1.45 1.45 0 1 0 2.9 0a1.45 1.45 0 1 0 -2.9 0M131.54 48.26a1.45 1.45 0 1 0 2.9 0a1.45 1.45 0 1 0 -2.9 0M131.54 64.19a1.45 1.45 0 1 0 2.9 0a1.45 1.45 0 1 0 -2.9 0M131.54 80.12a1.45 1.45 0 1 0 2.9 0a1.45 1.45 0 1 0 -2.9 0M131.54 96.05a1.45 1.45 0 1 0 2.9 0a1.45 1.45 0 1 0 -2.9 0M145.48 -7.56a1.45 1.45 0 1 0 2.9 0a1.45 1.45 0 1 0 -2.9 0M145.48 8.37a1.45 1.45 0 1 0 2.9 0a1.45 1.45 0 1 0 -2.9 0M145.48 24.30a1.45 1.45 0 1 0 2.9 0a1.45 1.45 0 1 0 -2.9 0M145.48 40.23a1.45 1.45 0 1 0 2.9 0a1.45 1.45 0 1 0 -2.9 0M145.48 56.16a1.45 1.45 0 1 0 2.9 0a1.45 1.45 0 1 0 -2.9 0M145.48 72.09a1.45 1.45 0 1 0 2.9 0a1.45 1.45 0 1 0 -2.9 0M145.48 88.02a1.45 1.45 0 1 0 2.9 0a1.45 1.45 0 1 0 -2.9 0M145.48 103.95a1.45 1.45 0 1 0 2.9 0a1.45 1.45 0 1 0 -2.9 0M159.42 -15.46a1.45 1.45 0 1 0 2.9 0a1.45 1.45 0 1 0 -2.9 0M159.42 0.47a1.45 1.45 0 1 0 2.9 0a1.45 1.45 0 1 0 -2.9 0M159.42 16.40a1.45 1.45 0 1 0 2.9 0a1.45 1.45 0 1 0 -2.9 0M159.42 32.33a1.45 1.45 0 1 0 2.9 0a1.45 1.45 0 1 0 -2.9 0M159.42 48.26a1.45 1.45 0 1 0 2.9 0a1.45 1.45 0 1 0 -2.9 0M159.42 64.19a1.45 1.45 0 1 0 2.9 0a1.45 1.45 0 1 0 -2.9 0M159.42 80.12a1.45 1.45 0 1 0 2.9 0a1.45 1.45 0 1 0 -2.9 0M159.42 96.05a1.45 1.45 0 1 0 2.9 0a1.45 1.45 0 1 0 -2.9 0M173.36 -7.56a1.45 1.45 0 1 0 2.9 0a1.45 1.45 0 1 0 -2.9 0M173.36 8.37a1.45 1.45 0 1 0 2.9 0a1.45 1.45 0 1 0 -2.9 0M173.36 24.30a1.45 1.45 0 1 0 2.9 0a1.45 1.45 0 1 0 -2.9 0M173.36 40.23a1.45 1.45 0 1 0 2.9 0a1.45 1.45 0 1 0 -2.9 0M173.36 56.16a1.45 1.45 0 1 0 2.9 0a1.45 1.45 0 1 0 -2.9 0M173.36 72.09a1.45 1.45 0 1 0 2.9 0a1.45 1.45 0 1 0 -2.9 0M173.36 88.02a1.45 1.45 0 1 0 2.9 0a1.45 1.45 0 1 0 -2.9 0M173.36 103.95a1.45 1.45 0 1 0 2.9 0a1.45 1.45 0 1 0 -2.9 0M187.30 -15.46a1.45 1.45 0 1 0 2.9 0a1.45 1.45 0 1 0 -2.9 0M187.30 0.47a1.45 1.45 0 1 0 2.9 0a1.45 1.45 0 1 0 -2.9 0M187.30 16.40a1.45 1.45 0 1 0 2.9 0a1.45 1.45 0 1 0 -2.9 0M187.30 32.33a1.45 1.45 0 1 0 2.9 0a1.45 1.45 0 1 0 -2.9 0M187.30 48.26a1.45 1.45 0 1 0 2.9 0a1.45 1.45 0 1 0 -2.9 0M187.30 64.19a1.45 1.45 0 1 0 2.9 0a1.45 1.45 0 1 0 -2.9 0M187.30 80.12a1.45 1.45 0 1 0 2.9 0a1.45 1.45 0 1 0 -2.9 0M187.30 96.05a1.45 1.45 0 1 0 2.9 0a1.45 1.45 0 1 0 -2.9 0M201.24 -7.56a1.45 1.45 0 1 0 2.9 0a1.45 1.45 0 1 0 -2.9 0M201.24 8.37a1.45 1.45 0 1 0 2.9 0a1.45 1.45 0 1 0 -2.9 0M201.24 24.30a1.45 1.45 0 1 0 2.9 0a1.45 1.45 0 1 0 -2.9 0M201.24 40.23a1.45 1.45 0 1 0 2.9 0a1.45 1.45 0 1 0 -2.9 0M201.24 56.16a1.45 1.45 0 1 0 2.9 0a1.45 1.45 0 1 0 -2.9 0M201.24 72.09a1.45 1.45 0 1 0 2.9 0a1.45 1.45 0 1 0 -2.9 0M201.24 88.02a1.45 1.45 0 1 0 2.9 0a1.45 1.45 0 1 0 -2.9 0M201.24 103.95a1.45 1.45 0 1 0 2.9 0a1.45 1.45 0 1 0 -2.9 0M215.18 -15.46a1.45 1.45 0 1 0 2.9 0a1.45 1.45 0 1 0 -2.9 0M215.18 0.47a1.45 1.45 0 1 0 2.9 0a1.45 1.45 0 1 0 -2.9 0M215.18 16.40a1.45 1.45 0 1 0 2.9 0a1.45 1.45 0 1 0 -2.9 0M215.18 32.33a1.45 1.45 0 1 0 2.9 0a1.45 1.45 0 1 0 -2.9 0M215.18 48.26a1.45 1.45 0 1 0 2.9 0a1.45 1.45 0 1 0 -2.9 0M215.18 64.19a1.45 1.45 0 1 0 2.9 0a1.45 1.45 0 1 0 -2.9 0M215.18 80.12a1.45 1.45 0 1 0 2.9 0a1.45 1.45 0 1 0 -2.9 0M215.18 96.05a1.45 1.45 0 1 0 2.9 0a1.45 1.45 0 1 0 -2.9 0M229.12 -7.56a1.45 1.45 0 1 0 2.9 0a1.45 1.45 0 1 0 -2.9 0M229.12 8.37a1.45 1.45 0 1 0 2.9 0a1.45 1.45 0 1 0 -2.9 0M229.12 24.30a1.45 1.45 0 1 0 2.9 0a1.45 1.45 0 1 0 -2.9 0M229.12 40.23a1.45 1.45 0 1 0 2.9 0a1.45 1.45 0 1 0 -2.9 0M229.12 56.16a1.45 1.45 0 1 0 2.9 0a1.45 1.45 0 1 0 -2.9 0M229.12 72.09a1.45 1.45 0 1 0 2.9 0a1.45 1.45 0 1 0 -2.9 0M229.12 88.02a1.45 1.45 0 1 0 2.9 0a1.45 1.45 0 1 0 -2.9 0M229.12 103.95a1.45 1.45 0 1 0 2.9 0a1.45 1.45 0 1 0 -2.9 0M243.06 -15.46a1.45 1.45 0 1 0 2.9 0a1.45 1.45 0 1 0 -2.9 0M243.06 0.47a1.45 1.45 0 1 0 2.9 0a1.45 1.45 0 1 0 -2.9 0M243.06 16.40a1.45 1.45 0 1 0 2.9 0a1.45 1.45 0 1 0 -2.9 0M243.06 32.33a1.45 1.45 0 1 0 2.9 0a1.45 1.45 0 1 0 -2.9 0M243.06 48.26a1.45 1.45 0 1 0 2.9 0a1.45 1.45 0 1 0 -2.9 0M243.06 64.19a1.45 1.45 0 1 0 2.9 0a1.45 1.45 0 1 0 -2.9 0M243.06 80.12a1.45 1.45 0 1 0 2.9 0a1.45 1.45 0 1 0 -2.9 0M243.06 96.05a1.45 1.45 0 1 0 2.9 0a1.45 1.45 0 1 0 -2.9 0M257.00 -7.56a1.45 1.45 0 1 0 2.9 0a1.45 1.45 0 1 0 -2.9 0M257.00 8.37a1.45 1.45 0 1 0 2.9 0a1.45 1.45 0 1 0 -2.9 0M257.00 24.30a1.45 1.45 0 1 0 2.9 0a1.45 1.45 0 1 0 -2.9 0M257.00 40.23a1.45 1.45 0 1 0 2.9 0a1.45 1.45 0 1 0 -2.9 0M257.00 56.16a1.45 1.45 0 1 0 2.9 0a1.45 1.45 0 1 0 -2.9 0M257.00 72.09a1.45 1.45 0 1 0 2.9 0a1.45 1.45 0 1 0 -2.9 0M257.00 88.02a1.45 1.45 0 1 0 2.9 0a1.45 1.45 0 1 0 -2.9 0M257.00 103.95a1.45 1.45 0 1 0 2.9 0a1.45 1.45 0 1 0 -2.9 0M270.94 -15.46a1.45 1.45 0 1 0 2.9 0a1.45 1.45 0 1 0 -2.9 0M270.94 0.47a1.45 1.45 0 1 0 2.9 0a1.45 1.45 0 1 0 -2.9 0M270.94 16.40a1.45 1.45 0 1 0 2.9 0a1.45 1.45 0 1 0 -2.9 0M270.94 32.33a1.45 1.45 0 1 0 2.9 0a1.45 1.45 0 1 0 -2.9 0M270.94 48.26a1.45 1.45 0 1 0 2.9 0a1.45 1.45 0 1 0 -2.9 0M270.94 64.19a1.45 1.45 0 1 0 2.9 0a1.45 1.45 0 1 0 -2.9 0M270.94 80.12a1.45 1.45 0 1 0 2.9 0a1.45 1.45 0 1 0 -2.9 0M270.94 96.05a1.45 1.45 0 1 0 2.9 0a1.45 1.45 0 1 0 -2.9 0M284.88 -7.56a1.45 1.45 0 1 0 2.9 0a1.45 1.45 0 1 0 -2.9 0M284.88 8.37a1.45 1.45 0 1 0 2.9 0a1.45 1.45 0 1 0 -2.9 0M284.88 24.30a1.45 1.45 0 1 0 2.9 0a1.45 1.45 0 1 0 -2.9 0M284.88 40.23a1.45 1.45 0 1 0 2.9 0a1.45 1.45 0 1 0 -2.9 0M284.88 56.16a1.45 1.45 0 1 0 2.9 0a1.45 1.45 0 1 0 -2.9 0M284.88 72.09a1.45 1.45 0 1 0 2.9 0a1.45 1.45 0 1 0 -2.9 0M284.88 88.02a1.45 1.45 0 1 0 2.9 0a1.45 1.45 0 1 0 -2.9 0M284.88 103.95a1.45 1.45 0 1 0 2.9 0a1.45 1.45 0 1 0 -2.9 0M298.82 -15.46a1.45 1.45 0 1 0 2.9 0a1.45 1.45 0 1 0 -2.9 0M298.82 0.47a1.45 1.45 0 1 0 2.9 0a1.45 1.45 0 1 0 -2.9 0M298.82 16.40a1.45 1.45 0 1 0 2.9 0a1.45 1.45 0 1 0 -2.9 0M298.82 32.33a1.45 1.45 0 1 0 2.9 0a1.45 1.45 0 1 0 -2.9 0M298.82 48.26a1.45 1.45 0 1 0 2.9 0a1.45 1.45 0 1 0 -2.9 0M298.82 64.19a1.45 1.45 0 1 0 2.9 0a1.45 1.45 0 1 0 -2.9 0M298.82 80.12a1.45 1.45 0 1 0 2.9 0a1.45 1.45 0 1 0 -2.9 0M298.82 96.05a1.45 1.45 0 1 0 2.9 0a1.45 1.45 0 1 0 -2.9 0M312.76 -7.56a1.45 1.45 0 1 0 2.9 0a1.45 1.45 0 1 0 -2.9 0M312.76 8.37a1.45 1.45 0 1 0 2.9 0a1.45 1.45 0 1 0 -2.9 0M312.76 24.30a1.45 1.45 0 1 0 2.9 0a1.45 1.45 0 1 0 -2.9 0M312.76 40.23a1.45 1.45 0 1 0 2.9 0a1.45 1.45 0 1 0 -2.9 0M312.76 56.16a1.45 1.45 0 1 0 2.9 0a1.45 1.45 0 1 0 -2.9 0M312.76 72.09a1.45 1.45 0 1 0 2.9 0a1.45 1.45 0 1 0 -2.9 0M312.76 88.02a1.45 1.45 0 1 0 2.9 0a1.45 1.45 0 1 0 -2.9 0M312.76 103.95a1.45 1.45 0 1 0 2.9 0a1.45 1.45 0 1 0 -2.9 0M326.70 -15.46a1.45 1.45 0 1 0 2.9 0a1.45 1.45 0 1 0 -2.9 0M326.70 0.47a1.45 1.45 0 1 0 2.9 0a1.45 1.45 0 1 0 -2.9 0M326.70 16.40a1.45 1.45 0 1 0 2.9 0a1.45 1.45 0 1 0 -2.9 0M326.70 32.33a1.45 1.45 0 1 0 2.9 0a1.45 1.45 0 1 0 -2.9 0M326.70 48.26a1.45 1.45 0 1 0 2.9 0a1.45 1.45 0 1 0 -2.9 0M326.70 64.19a1.45 1.45 0 1 0 2.9 0a1.45 1.45 0 1 0 -2.9 0M326.70 80.12a1.45 1.45 0 1 0 2.9 0a1.45 1.45 0 1 0 -2.9 0M326.70 96.05a1.45 1.45 0 1 0 2.9 0a1.45 1.45 0 1 0 -2.9 0M127.24 72.16a1.1 1.1 0 1 0 2.2 0a1.1 1.1 0 1 0 -2.2 0M294.53 8.37a1.1 1.1 0 1 0 2.2 0a1.1 1.1 0 1 0 -2.2 0M43.60 40.30a1.1 1.1 0 1 0 2.2 0a1.1 1.1 0 1 0 -2.2 0M43.61 24.30a1.1 1.1 0 1 0 2.2 0a1.1 1.1 0 1 0 -2.2 0M141.19 48.26a1.1 1.1 0 1 0 2.2 0a1.1 1.1 0 1 0 -2.2 0M252.70 111.92a1.1 1.1 0 1 0 2.2 0a1.1 1.1 0 1 0 -2.2 0M99.37 56.16a1.1 1.1 0 1 0 2.2 0a1.1 1.1 0 1 0 -2.2 0M57.55 0.47a1.1 1.1 0 1 0 2.2 0a1.1 1.1 0 1 0 -2.2 0M294.52 88.09a1.1 1.1 0 1 0 2.2 0a1.1 1.1 0 1 0 -2.2 0M294.53 40.23a1.1 1.1 0 1 0 2.2 0a1.1 1.1 0 1 0 -2.2 0M113.30 95.98a1.1 1.1 0 1 0 2.2 0a1.1 1.1 0 1 0 -2.2 0M85.42 0.41a1.1 1.1 0 1 0 2.2 0a1.1 1.1 0 1 0 -2.2 0M155.12 40.30a1.1 1.1 0 1 0 2.2 0a1.1 1.1 0 1 0 -2.2 0M85.43 32.33a1.1 1.1 0 1 0 2.2 0a1.1 1.1 0 1 0 -2.2 0M308.47 96.05a1.1 1.1 0 1 0 2.2 0a1.1 1.1 0 1 0 -2.2 0M210.89 8.37a1.1 1.1 0 1 0 2.2 0a1.1 1.1 0 1 0 -2.2 0M169.07 16.40a1.1 1.1 0 1 0 2.2 0a1.1 1.1 0 1 0 -2.2 0M280.59 80.12a1.1 1.1 0 1 0 2.2 0a1.1 1.1 0 1 0 -2.2 0M127.25 24.30a1.1 1.1 0 1 0 2.2 0a1.1 1.1 0 1 0 -2.2 0M141.18 64.12a1.1 1.1 0 1 0 2.2 0a1.1 1.1 0 1 0 -2.2 0M43.61 88.02a1.1 1.1 0 1 0 2.2 0a1.1 1.1 0 1 0 -2.2 0M238.76 104.02a1.1 1.1 0 1 0 2.2 0a1.1 1.1 0 1 0 -2.2 0M196.94 0.41a1.1 1.1 0 1 0 2.2 0a1.1 1.1 0 1 0 -2.2 0M224.83 96.05a1.1 1.1 0 1 0 2.2 0a1.1 1.1 0 1 0 -2.2 0M141.18 16.34a1.1 1.1 0 1 0 2.2 0a1.1 1.1 0 1 0 -2.2 0M210.88 24.36a1.1 1.1 0 1 0 2.2 0a1.1 1.1 0 1 0 -2.2 0M57.54 32.27a1.1 1.1 0 1 0 2.2 0a1.1 1.1 0 1 0 -2.2 0M113.30 0.41a1.1 1.1 0 1 0 2.2 0a1.1 1.1 0 1 0 -2.2 0M57.55 32.33a1.1 1.1 0 1 0 2.2 0a1.1 1.1 0 1 0 -2.2 0M43.61 -7.56a1.1 1.1 0 1 0 2.2 0a1.1 1.1 0 1 0 -2.2 0M280.59 -15.46a1.1 1.1 0 1 0 2.2 0a1.1 1.1 0 1 0 -2.2 0M210.88 88.09a1.1 1.1 0 1 0 2.2 0a1.1 1.1 0 1 0 -2.2 0M141.18 48.20a1.1 1.1 0 1 0 2.2 0a1.1 1.1 0 1 0 -2.2 0M280.58 48.19a1.1 1.1 0 1 0 2.2 0a1.1 1.1 0 1 0 -2.2 0M308.46 111.92a1.1 1.1 0 1 0 2.2 0a1.1 1.1 0 1 0 -2.2 0M294.52 8.43a1.1 1.1 0 1 0 2.2 0a1.1 1.1 0 1 0 -2.2 0M238.77 103.95a1.1 1.1 0 1 0 2.2 0a1.1 1.1 0 1 0 -2.2 0M85.42 64.12a1.1 1.1 0 1 0 2.2 0a1.1 1.1 0 1 0 -2.2 0M155.13 56.16a1.1 1.1 0 1 0 2.2 0a1.1 1.1 0 1 0 -2.2 0M99.36 56.22a1.1 1.1 0 1 0 2.2 0a1.1 1.1 0 1 0 -2.2 0M99.37 8.37a1.1 1.1 0 1 0 2.2 0a1.1 1.1 0 1 0 -2.2 0M266.64 24.36a1.1 1.1 0 1 0 2.2 0a1.1 1.1 0 1 0 -2.2 0M169.07 80.12a1.1 1.1 0 1 0 2.2 0a1.1 1.1 0 1 0 -2.2 0M141.19 32.33a1.1 1.1 0 1 0 2.2 0a1.1 1.1 0 1 0 -2.2 0M294.52 -7.50a1.1 1.1 0 1 0 2.2 0a1.1 1.1 0 1 0 -2.2 0M85.42 16.34a1.1 1.1 0 1 0 2.2 0a1.1 1.1 0 1 0 -2.2 0M196.94 64.12a1.1 1.1 0 1 0 2.2 0a1.1 1.1 0 1 0 -2.2 0M280.59 0.47a1.1 1.1 0 1 0 2.2 0a1.1 1.1 0 1 0 -2.2 0M322.41 72.09a1.1 1.1 0 1 0 2.2 0a1.1 1.1 0 1 0 -2.2 0M99.37 40.23a1.1 1.1 0 1 0 2.2 0a1.1 1.1 0 1 0 -2.2 0M224.82 48.19a1.1 1.1 0 1 0 2.2 0a1.1 1.1 0 1 0 -2.2 0M336.35 64.19a1.1 1.1 0 1 0 2.2 0a1.1 1.1 0 1 0 -2.2 0M294.52 104.02a1.1 1.1 0 1 0 2.2 0a1.1 1.1 0 1 0 -2.2 0M71.49 56.16a1.1 1.1 0 1 0 2.2 0a1.1 1.1 0 1 0 -2.2 0M85.43 16.40a1.1 1.1 0 1 0 2.2 0a1.1 1.1 0 1 0 -2.2 0M29.66 0.41a1.1 1.1 0 1 0 2.2 0a1.1 1.1 0 1 0 -2.2 0M252.70 80.06a1.1 1.1 0 1 0 2.2 0a1.1 1.1 0 1 0 -2.2 0M196.94 16.34a1.1 1.1 0 1 0 2.2 0a1.1 1.1 0 1 0 -2.2 0M183.01 103.95a1.1 1.1 0 1 0 2.2 0a1.1 1.1 0 1 0 -2.2 0M141.18 80.05a1.1 1.1 0 1 0 2.2 0a1.1 1.1 0 1 0 -2.2 0M113.30 64.12a1.1 1.1 0 1 0 2.2 0a1.1 1.1 0 1 0 -2.2 0M322.40 72.16a1.1 1.1 0 1 0 2.2 0a1.1 1.1 0 1 0 -2.2 0M127.24 56.22a1.1 1.1 0 1 0 2.2 0a1.1 1.1 0 1 0 -2.2 0M252.71 64.19a1.1 1.1 0 1 0 2.2 0a1.1 1.1 0 1 0 -2.2 0M43.60 24.36a1.1 1.1 0 1 0 2.2 0a1.1 1.1 0 1 0 -2.2 0M85.42 48.20a1.1 1.1 0 1 0 2.2 0a1.1 1.1 0 1 0 -2.2 0M169.06 0.41a1.1 1.1 0 1 0 2.2 0a1.1 1.1 0 1 0 -2.2 0M99.36 40.30a1.1 1.1 0 1 0 2.2 0a1.1 1.1 0 1 0 -2.2 0M210.88 8.43a1.1 1.1 0 1 0 2.2 0a1.1 1.1 0 1 0 -2.2 0M252.70 95.98a1.1 1.1 0 1 0 2.2 0a1.1 1.1 0 1 0 -2.2 0M155.12 24.36a1.1 1.1 0 1 0 2.2 0a1.1 1.1 0 1 0 -2.2 0M71.48 104.02a1.1 1.1 0 1 0 2.2 0a1.1 1.1 0 1 0 -2.2 0M196.94 48.20a1.1 1.1 0 1 0 2.2 0a1.1 1.1 0 1 0 -2.2 0M57.55 16.40a1.1 1.1 0 1 0 2.2 0a1.1 1.1 0 1 0 -2.2 0M266.65 -7.56a1.1 1.1 0 1 0 2.2 0a1.1 1.1 0 1 0 -2.2 0M141.18 -15.52a1.1 1.1 0 1 0 2.2 0a1.1 1.1 0 1 0 -2.2 0M43.60 88.09a1.1 1.1 0 1 0 2.2 0a1.1 1.1 0 1 0 -2.2 0M210.88 -7.50a1.1 1.1 0 1 0 2.2 0a1.1 1.1 0 1 0 -2.2 0M155.13 8.37a1.1 1.1 0 1 0 2.2 0a1.1 1.1 0 1 0 -2.2 0M322.41 24.30a1.1 1.1 0 1 0 2.2 0a1.1 1.1 0 1 0 -2.2 0M210.88 104.02a1.1 1.1 0 1 0 2.2 0a1.1 1.1 0 1 0 -2.2 0M113.30 111.92a1.1 1.1 0 1 0 2.2 0a1.1 1.1 0 1 0 -2.2 0M141.18 32.27a1.1 1.1 0 1 0 2.2 0a1.1 1.1 0 1 0 -2.2 0M85.42 80.05a1.1 1.1 0 1 0 2.2 0a1.1 1.1 0 1 0 -2.2 0M155.12 88.09a1.1 1.1 0 1 0 2.2 0a1.1 1.1 0 1 0 -2.2 0M155.13 40.23a1.1 1.1 0 1 0 2.2 0a1.1 1.1 0 1 0 -2.2 0M85.43 80.12a1.1 1.1 0 1 0 2.2 0a1.1 1.1 0 1 0 -2.2 0M29.66 64.12a1.1 1.1 0 1 0 2.2 0a1.1 1.1 0 1 0 -2.2 0M169.07 96.05a1.1 1.1 0 1 0 2.2 0a1.1 1.1 0 1 0 -2.2 0M71.49 8.37a1.1 1.1 0 1 0 2.2 0a1.1 1.1 0 1 0 -2.2 0M141.19 16.40a1.1 1.1 0 1 0 2.2 0a1.1 1.1 0 1 0 -2.2 0M308.46 80.06a1.1 1.1 0 1 0 2.2 0a1.1 1.1 0 1 0 -2.2 0M294.52 -23.43a1.1 1.1 0 1 0 2.2 0a1.1 1.1 0 1 0 -2.2 0M238.77 72.09a1.1 1.1 0 1 0 2.2 0a1.1 1.1 0 1 0 -2.2 0M196.94 80.05a1.1 1.1 0 1 0 2.2 0a1.1 1.1 0 1 0 -2.2 0M322.41 88.02a1.1 1.1 0 1 0 2.2 0a1.1 1.1 0 1 0 -2.2 0M266.64 -7.50a1.1 1.1 0 1 0 2.2 0a1.1 1.1 0 1 0 -2.2 0M336.35 48.26a1.1 1.1 0 1 0 2.2 0a1.1 1.1 0 1 0 -2.2 0M71.49 40.23a1.1 1.1 0 1 0 2.2 0a1.1 1.1 0 1 0 -2.2 0M308.47 64.19a1.1 1.1 0 1 0 2.2 0a1.1 1.1 0 1 0 -2.2 0M224.82 111.92a1.1 1.1 0 1 0 2.2 0a1.1 1.1 0 1 0 -2.2 0M85.42 -15.52a1.1 1.1 0 1 0 2.2 0a1.1 1.1 0 1 0 -2.2 0M308.46 95.98a1.1 1.1 0 1 0 2.2 0a1.1 1.1 0 1 0 -2.2 0M238.76 72.16a1.1 1.1 0 1 0 2.2 0a1.1 1.1 0 1 0 -2.2 0M43.61 56.16a1.1 1.1 0 1 0 2.2 0a1.1 1.1 0 1 0 -2.2 0M113.30 80.05a1.1 1.1 0 1 0 2.2 0a1.1 1.1 0 1 0 -2.2 0M85.43 -15.46a1.1 1.1 0 1 0 2.2 0a1.1 1.1 0 1 0 -2.2 0M57.55 80.12a1.1 1.1 0 1 0 2.2 0a1.1 1.1 0 1 0 -2.2 0M252.71 48.26a1.1 1.1 0 1 0 2.2 0a1.1 1.1 0 1 0 -2.2 0M29.66 111.92a1.1 1.1 0 1 0 2.2 0a1.1 1.1 0 1 0 -2.2 0M43.60 8.43a1.1 1.1 0 1 0 2.2 0a1.1 1.1 0 1 0 -2.2 0M322.41 -7.56a1.1 1.1 0 1 0 2.2 0a1.1 1.1 0 1 0 -2.2 0M196.94 -15.52a1.1 1.1 0 1 0 2.2 0a1.1 1.1 0 1 0 -2.2 0M183.01 72.09a1.1 1.1 0 1 0 2.2 0a1.1 1.1 0 1 0 -2.2 0M196.95 64.19a1.1 1.1 0 1 0 2.2 0a1.1 1.1 0 1 0 -2.2 0M266.64 40.30a1.1 1.1 0 1 0 2.2 0a1.1 1.1 0 1 0 -2.2 0M336.35 0.47a1.1 1.1 0 1 0 2.2 0a1.1 1.1 0 1 0 -2.2 0M43.60 -7.50a1.1 1.1 0 1 0 2.2 0a1.1 1.1 0 1 0 -2.2 0M169.06 111.92a1.1 1.1 0 1 0 2.2 0a1.1 1.1 0 1 0 -2.2 0M155.12 8.43a1.1 1.1 0 1 0 2.2 0a1.1 1.1 0 1 0 -2.2 0M99.37 103.95a1.1 1.1 0 1 0 2.2 0a1.1 1.1 0 1 0 -2.2 0M43.60 104.02a1.1 1.1 0 1 0 2.2 0a1.1 1.1 0 1 0 -2.2 0M210.88 -23.43a1.1 1.1 0 1 0 2.2 0a1.1 1.1 0 1 0 -2.2 0M238.77 24.30a1.1 1.1 0 1 0 2.2 0a1.1 1.1 0 1 0 -2.2 0M322.40 56.22a1.1 1.1 0 1 0 2.2 0a1.1 1.1 0 1 0 -2.2 0M57.55 -15.46a1.1 1.1 0 1 0 2.2 0a1.1 1.1 0 1 0 -2.2 0M252.70 16.34a1.1 1.1 0 1 0 2.2 0a1.1 1.1 0 1 0 -2.2 0M155.12 104.02a1.1 1.1 0 1 0 2.2 0a1.1 1.1 0 1 0 -2.2 0M99.36 24.36a1.1 1.1 0 1 0 2.2 0a1.1 1.1 0 1 0 -2.2 0M85.43 96.05a1.1 1.1 0 1 0 2.2 0a1.1 1.1 0 1 0 -2.2 0M238.77 88.02a1.1 1.1 0 1 0 2.2 0a1.1 1.1 0 1 0 -2.2 0M57.54 111.92a1.1 1.1 0 1 0 2.2 0a1.1 1.1 0 1 0 -2.2 0M183.01 24.30a1.1 1.1 0 1 0 2.2 0a1.1 1.1 0 1 0 -2.2 0M266.64 -23.43a1.1 1.1 0 1 0 2.2 0a1.1 1.1 0 1 0 -2.2 0M336.35 32.33a1.1 1.1 0 1 0 2.2 0a1.1 1.1 0 1 0 -2.2 0M43.61 8.37a1.1 1.1 0 1 0 2.2 0a1.1 1.1 0 1 0 -2.2 0M113.31 64.19a1.1 1.1 0 1 0 2.2 0a1.1 1.1 0 1 0 -2.2 0M141.19 -15.46a1.1 1.1 0 1 0 2.2 0a1.1 1.1 0 1 0 -2.2 0M308.47 48.26a1.1 1.1 0 1 0 2.2 0a1.1 1.1 0 1 0 -2.2 0M252.70 48.20a1.1 1.1 0 1 0 2.2 0a1.1 1.1 0 1 0 -2.2 0M141.18 48.19a1.1 1.1 0 1 0 2.2 0a1.1 1.1 0 1 0 -2.2 0M266.65 56.16a1.1 1.1 0 1 0 2.2 0a1.1 1.1 0 1 0 -2.2 0M43.61 40.23a1.1 1.1 0 1 0 2.2 0a1.1 1.1 0 1 0 -2.2 0M322.40 40.30a1.1 1.1 0 1 0 2.2 0a1.1 1.1 0 1 0 -2.2 0M127.24 24.36a1.1 1.1 0 1 0 2.2 0a1.1 1.1 0 1 0 -2.2 0M224.82 80.06a1.1 1.1 0 1 0 2.2 0a1.1 1.1 0 1 0 -2.2 0M57.55 96.05a1.1 1.1 0 1 0 2.2 0a1.1 1.1 0 1 0 -2.2 0M252.71 32.33a1.1 1.1 0 1 0 2.2 0a1.1 1.1 0 1 0 -2.2 0M183.01 88.02a1.1 1.1 0 1 0 2.2 0a1.1 1.1 0 1 0 -2.2 0M308.46 64.12a1.1 1.1 0 1 0 2.2 0a1.1 1.1 0 1 0 -2.2 0M196.95 48.26a1.1 1.1 0 1 0 2.2 0a1.1 1.1 0 1 0 -2.2 0M210.89 40.23a1.1 1.1 0 1 0 2.2 0a1.1 1.1 0 1 0 -2.2 0M141.19 0.47a1.1 1.1 0 1 0 2.2 0a1.1 1.1 0 1 0 -2.2 0M43.60 -23.43a1.1 1.1 0 1 0 2.2 0a1.1 1.1 0 1 0 -2.2 0M29.66 80.06a1.1 1.1 0 1 0 2.2 0a1.1 1.1 0 1 0 -2.2 0M71.48 72.16a1.1 1.1 0 1 0 2.2 0a1.1 1.1 0 1 0 -2.2 0M224.82 95.98a1.1 1.1 0 1 0 2.2 0a1.1 1.1 0 1 0 -2.2 0M308.46 16.34a1.1 1.1 0 1 0 2.2 0a1.1 1.1 0 1 0 -2.2 0M252.70 80.05a1.1 1.1 0 1 0 2.2 0a1.1 1.1 0 1 0 -2.2 0M127.25 88.02a1.1 1.1 0 1 0 2.2 0a1.1 1.1 0 1 0 -2.2 0M238.76 56.22a1.1 1.1 0 1 0 2.2 0a1.1 1.1 0 1 0 -2.2 0M169.06 80.06a1.1 1.1 0 1 0 2.2 0a1.1 1.1 0 1 0 -2.2 0M155.12 -23.43a1.1 1.1 0 1 0 2.2 0a1.1 1.1 0 1 0 -2.2 0M99.37 72.09a1.1 1.1 0 1 0 2.2 0a1.1 1.1 0 1 0 -2.2 0M183.00 72.16a1.1 1.1 0 1 0 2.2 0a1.1 1.1 0 1 0 -2.2 0M280.58 0.41a1.1 1.1 0 1 0 2.2 0a1.1 1.1 0 1 0 -2.2 0M183.01 -7.56a1.1 1.1 0 1 0 2.2 0a1.1 1.1 0 1 0 -2.2 0M29.66 95.98a1.1 1.1 0 1 0 2.2 0a1.1 1.1 0 1 0 -2.2 0M99.36 8.43a1.1 1.1 0 1 0 2.2 0a1.1 1.1 0 1 0 -2.2 0M169.07 64.19a1.1 1.1 0 1 0 2.2 0a1.1 1.1 0 1 0 -2.2 0M196.95 0.47a1.1 1.1 0 1 0 2.2 0a1.1 1.1 0 1 0 -2.2 0M308.46 48.20a1.1 1.1 0 1 0 2.2 0a1.1 1.1 0 1 0 -2.2 0M169.06 95.98a1.1 1.1 0 1 0 2.2 0a1.1 1.1 0 1 0 -2.2 0M252.70 -15.52a1.1 1.1 0 1 0 2.2 0a1.1 1.1 0 1 0 -2.2 0M196.94 48.19a1.1 1.1 0 1 0 2.2 0a1.1 1.1 0 1 0 -2.2 0M99.36 -7.50a1.1 1.1 0 1 0 2.2 0a1.1 1.1 0 1 0 -2.2 0M322.41 56.16a1.1 1.1 0 1 0 2.2 0a1.1 1.1 0 1 0 -2.2 0M266.65 8.37a1.1 1.1 0 1 0 2.2 0a1.1 1.1 0 1 0 -2.2 0M336.35 16.40a1.1 1.1 0 1 0 2.2 0a1.1 1.1 0 1 0 -2.2 0M224.82 0.41a1.1 1.1 0 1 0 2.2 0a1.1 1.1 0 1 0 -2.2 0M127.25 -7.56a1.1 1.1 0 1 0 2.2 0a1.1 1.1 0 1 0 -2.2 0M113.31 48.26a1.1 1.1 0 1 0 2.2 0a1.1 1.1 0 1 0 -2.2 0M252.70 32.27a1.1 1.1 0 1 0 2.2 0a1.1 1.1 0 1 0 -2.2 0M57.54 80.06a1.1 1.1 0 1 0 2.2 0a1.1 1.1 0 1 0 -2.2 0M266.64 88.09a1.1 1.1 0 1 0 2.2 0a1.1 1.1 0 1 0 -2.2 0M266.65 40.23a1.1 1.1 0 1 0 2.2 0a1.1 1.1 0 1 0 -2.2 0M238.76 40.30a1.1 1.1 0 1 0 2.2 0a1.1 1.1 0 1 0 -2.2 0M280.59 96.05a1.1 1.1 0 1 0 2.2 0a1.1 1.1 0 1 0 -2.2 0M252.71 16.40a1.1 1.1 0 1 0 2.2 0a1.1 1.1 0 1 0 -2.2 0M99.37 24.30a1.1 1.1 0 1 0 2.2 0a1.1 1.1 0 1 0 -2.2 0M196.95 32.33a1.1 1.1 0 1 0 2.2 0a1.1 1.1 0 1 0 -2.2 0M308.46 80.05a1.1 1.1 0 1 0 2.2 0a1.1 1.1 0 1 0 -2.2 0M57.54 95.98a1.1 1.1 0 1 0 2.2 0a1.1 1.1 0 1 0 -2.2 0M280.58 64.12a1.1 1.1 0 1 0 2.2 0a1.1 1.1 0 1 0 -2.2 0M127.24 -7.50a1.1 1.1 0 1 0 2.2 0a1.1 1.1 0 1 0 -2.2 0M294.52 56.22a1.1 1.1 0 1 0 2.2 0a1.1 1.1 0 1 0 -2.2 0M113.31 0.47a1.1 1.1 0 1 0 2.2 0a1.1 1.1 0 1 0 -2.2 0M155.13 72.09a1.1 1.1 0 1 0 2.2 0a1.1 1.1 0 1 0 -2.2 0M113.30 16.34a1.1 1.1 0 1 0 2.2 0a1.1 1.1 0 1 0 -2.2 0M294.53 103.95a1.1 1.1 0 1 0 2.2 0a1.1 1.1 0 1 0 -2.2 0M322.40 24.36a1.1 1.1 0 1 0 2.2 0a1.1 1.1 0 1 0 -2.2 0M99.37 88.02a1.1 1.1 0 1 0 2.2 0a1.1 1.1 0 1 0 -2.2 0M224.82 64.12a1.1 1.1 0 1 0 2.2 0a1.1 1.1 0 1 0 -2.2 0M336.35 80.12a1.1 1.1 0 1 0 2.2 0a1.1 1.1 0 1 0 -2.2 0M308.46 -15.52a1.1 1.1 0 1 0 2.2 0a1.1 1.1 0 1 0 -2.2 0M155.12 72.16a1.1 1.1 0 1 0 2.2 0a1.1 1.1 0 1 0 -2.2 0M322.41 8.37a1.1 1.1 0 1 0 2.2 0a1.1 1.1 0 1 0 -2.2 0M169.07 48.26a1.1 1.1 0 1 0 2.2 0a1.1 1.1 0 1 0 -2.2 0M113.30 48.20a1.1 1.1 0 1 0 2.2 0a1.1 1.1 0 1 0 -2.2 0M280.58 111.92a1.1 1.1 0 1 0 2.2 0a1.1 1.1 0 1 0 -2.2 0M266.64 8.43a1.1 1.1 0 1 0 2.2 0a1.1 1.1 0 1 0 -2.2 0M210.89 103.95a1.1 1.1 0 1 0 2.2 0a1.1 1.1 0 1 0 -2.2 0M57.54 0.41a1.1 1.1 0 1 0 2.2 0a1.1 1.1 0 1 0 -2.2 0M127.24 40.30a1.1 1.1 0 1 0 2.2 0a1.1 1.1 0 1 0 -2.2 0M308.46 32.27a1.1 1.1 0 1 0 2.2 0a1.1 1.1 0 1 0 -2.2 0M71.48 56.22a1.1 1.1 0 1 0 2.2 0a1.1 1.1 0 1 0 -2.2 0M322.40 88.09a1.1 1.1 0 1 0 2.2 0a1.1 1.1 0 1 0 -2.2 0M99.36 -23.43a1.1 1.1 0 1 0 2.2 0a1.1 1.1 0 1 0 -2.2 0M252.71 80.12a1.1 1.1 0 1 0 2.2 0a1.1 1.1 0 1 0 -2.2 0M322.41 40.23a1.1 1.1 0 1 0 2.2 0a1.1 1.1 0 1 0 -2.2 0M113.31 32.33a1.1 1.1 0 1 0 2.2 0a1.1 1.1 0 1 0 -2.2 0M29.66 16.34a1.1 1.1 0 1 0 2.2 0a1.1 1.1 0 1 0 -2.2 0M169.06 64.12a1.1 1.1 0 1 0 2.2 0a1.1 1.1 0 1 0 -2.2 0M183.00 56.22a1.1 1.1 0 1 0 2.2 0a1.1 1.1 0 1 0 -2.2 0M266.64 104.02a1.1 1.1 0 1 0 2.2 0a1.1 1.1 0 1 0 -2.2 0M336.35 -15.46a1.1 1.1 0 1 0 2.2 0a1.1 1.1 0 1 0 -2.2 0M169.06 16.34a1.1 1.1 0 1 0 2.2 0a1.1 1.1 0 1 0 -2.2 0M183.01 56.16a1.1 1.1 0 1 0 2.2 0a1.1 1.1 0 1 0 -2.2 0M196.95 16.40a1.1 1.1 0 1 0 2.2 0a1.1 1.1 0 1 0 -2.2 0M85.42 32.27a1.1 1.1 0 1 0 2.2 0a1.1 1.1 0 1 0 -2.2 0M224.83 64.19a1.1 1.1 0 1 0 2.2 0a1.1 1.1 0 1 0 -2.2 0M127.24 -23.43a1.1 1.1 0 1 0 2.2 0a1.1 1.1 0 1 0 -2.2 0M252.71 -15.46a1.1 1.1 0 1 0 2.2 0a1.1 1.1 0 1 0 -2.2 0M29.66 48.20a1.1 1.1 0 1 0 2.2 0a1.1 1.1 0 1 0 -2.2 0M71.48 40.30a1.1 1.1 0 1 0 2.2 0a1.1 1.1 0 1 0 -2.2 0M252.70 48.19a1.1 1.1 0 1 0 2.2 0a1.1 1.1 0 1 0 -2.2 0M196.94 32.27a1.1 1.1 0 1 0 2.2 0a1.1 1.1 0 1 0 -2.2 0M57.54 64.12a1.1 1.1 0 1 0 2.2 0a1.1 1.1 0 1 0 -2.2 0M127.25 56.16a1.1 1.1 0 1 0 2.2 0a1.1 1.1 0 1 0 -2.2 0M238.76 24.36a1.1 1.1 0 1 0 2.2 0a1.1 1.1 0 1 0 -2.2 0M169.06 48.20a1.1 1.1 0 1 0 2.2 0a1.1 1.1 0 1 0 -2.2 0M141.19 80.12a1.1 1.1 0 1 0 2.2 0a1.1 1.1 0 1 0 -2.2 0M322.40 8.43a1.1 1.1 0 1 0 2.2 0a1.1 1.1 0 1 0 -2.2 0M266.65 103.95a1.1 1.1 0 1 0 2.2 0a1.1 1.1 0 1 0 -2.2 0M183.00 40.30a1.1 1.1 0 1 0 2.2 0a1.1 1.1 0 1 0 -2.2 0M113.30 -15.52a1.1 1.1 0 1 0 2.2 0a1.1 1.1 0 1 0 -2.2 0M224.82 80.05a1.1 1.1 0 1 0 2.2 0a1.1 1.1 0 1 0 -2.2 0M336.35 96.05a1.1 1.1 0 1 0 2.2 0a1.1 1.1 0 1 0 -2.2 0M57.54 16.34a1.1 1.1 0 1 0 2.2 0a1.1 1.1 0 1 0 -2.2 0M169.07 32.33a1.1 1.1 0 1 0 2.2 0a1.1 1.1 0 1 0 -2.2 0M252.71 0.47a1.1 1.1 0 1 0 2.2 0a1.1 1.1 0 1 0 -2.2 0M294.53 72.09a1.1 1.1 0 1 0 2.2 0a1.1 1.1 0 1 0 -2.2 0M113.30 32.27a1.1 1.1 0 1 0 2.2 0a1.1 1.1 0 1 0 -2.2 0M322.40 -7.50a1.1 1.1 0 1 0 2.2 0a1.1 1.1 0 1 0 -2.2 0M29.66 80.05a1.1 1.1 0 1 0 2.2 0a1.1 1.1 0 1 0 -2.2 0M322.40 104.02a1.1 1.1 0 1 0 2.2 0a1.1 1.1 0 1 0 -2.2 0M43.60 56.22a1.1 1.1 0 1 0 2.2 0a1.1 1.1 0 1 0 -2.2 0M113.31 16.40a1.1 1.1 0 1 0 2.2 0a1.1 1.1 0 1 0 -2.2 0M280.58 80.06a1.1 1.1 0 1 0 2.2 0a1.1 1.1 0 1 0 -2.2 0M224.82 -15.52a1.1 1.1 0 1 0 2.2 0a1.1 1.1 0 1 0 -2.2 0M196.95 80.12a1.1 1.1 0 1 0 2.2 0a1.1 1.1 0 1 0 -2.2 0M210.89 72.09a1.1 1.1 0 1 0 2.2 0a1.1 1.1 0 1 0 -2.2 0M294.52 72.16a1.1 1.1 0 1 0 2.2 0a1.1 1.1 0 1 0 -2.2 0M169.06 80.05a1.1 1.1 0 1 0 2.2 0a1.1 1.1 0 1 0 -2.2 0M99.36 88.09a1.1 1.1 0 1 0 2.2 0a1.1 1.1 0 1 0 -2.2 0M57.54 48.20a1.1 1.1 0 1 0 2.2 0a1.1 1.1 0 1 0 -2.2 0M183.01 8.37a1.1 1.1 0 1 0 2.2 0a1.1 1.1 0 1 0 -2.2 0M141.18 0.41a1.1 1.1 0 1 0 2.2 0a1.1 1.1 0 1 0 -2.2 0M155.12 56.22a1.1 1.1 0 1 0 2.2 0a1.1 1.1 0 1 0 -2.2 0M280.59 64.19a1.1 1.1 0 1 0 2.2 0a1.1 1.1 0 1 0 -2.2 0M29.66 -15.52a1.1 1.1 0 1 0 2.2 0a1.1 1.1 0 1 0 -2.2 0M280.58 95.98a1.1 1.1 0 1 0 2.2 0a1.1 1.1 0 1 0 -2.2 0M183.01 40.23a1.1 1.1 0 1 0 2.2 0a1.1 1.1 0 1 0 -2.2 0M308.46 48.19a1.1 1.1 0 1 0 2.2 0a1.1 1.1 0 1 0 -2.2 0M155.13 103.95a1.1 1.1 0 1 0 2.2 0a1.1 1.1 0 1 0 -2.2 0M238.77 -7.56a1.1 1.1 0 1 0 2.2 0a1.1 1.1 0 1 0 -2.2 0M224.83 48.26a1.1 1.1 0 1 0 2.2 0a1.1 1.1 0 1 0 -2.2 0M127.25 8.37a1.1 1.1 0 1 0 2.2 0a1.1 1.1 0 1 0 -2.2 0M29.66 32.27a1.1 1.1 0 1 0 2.2 0a1.1 1.1 0 1 0 -2.2 0M294.53 24.30a1.1 1.1 0 1 0 2.2 0a1.1 1.1 0 1 0 -2.2 0M169.06 -15.52a1.1 1.1 0 1 0 2.2 0a1.1 1.1 0 1 0 -2.2 0M196.95 -15.46a1.1 1.1 0 1 0 2.2 0a1.1 1.1 0 1 0 -2.2 0M57.54 80.05a1.1 1.1 0 1 0 2.2 0a1.1 1.1 0 1 0 -2.2 0M127.24 88.09a1.1 1.1 0 1 0 2.2 0a1.1 1.1 0 1 0 -2.2 0M127.25 40.23a1.1 1.1 0 1 0 2.2 0a1.1 1.1 0 1 0 -2.2 0M308.47 0.47a1.1 1.1 0 1 0 2.2 0a1.1 1.1 0 1 0 -2.2 0M238.76 8.43a1.1 1.1 0 1 0 2.2 0a1.1 1.1 0 1 0 -2.2 0M71.49 103.95a1.1 1.1 0 1 0 2.2 0a1.1 1.1 0 1 0 -2.2 0M169.06 32.27a1.1 1.1 0 1 0 2.2 0a1.1 1.1 0 1 0 -2.2 0M141.19 96.05a1.1 1.1 0 1 0 2.2 0a1.1 1.1 0 1 0 -2.2 0M210.89 24.30a1.1 1.1 0 1 0 2.2 0a1.1 1.1 0 1 0 -2.2 0M113.31 80.12a1.1 1.1 0 1 0 2.2 0a1.1 1.1 0 1 0 -2.2 0M210.88 72.16a1.1 1.1 0 1 0 2.2 0a1.1 1.1 0 1 0 -2.2 0M294.53 88.02a1.1 1.1 0 1 0 2.2 0a1.1 1.1 0 1 0 -2.2 0M238.76 -7.50a1.1 1.1 0 1 0 2.2 0a1.1 1.1 0 1 0 -2.2 0M85.42 48.19a1.1 1.1 0 1 0 2.2 0a1.1 1.1 0 1 0 -2.2 0M322.40 -23.43a1.1 1.1 0 1 0 2.2 0a1.1 1.1 0 1 0 -2.2 0M224.83 0.47a1.1 1.1 0 1 0 2.2 0a1.1 1.1 0 1 0 -2.2 0M266.65 72.09a1.1 1.1 0 1 0 2.2 0a1.1 1.1 0 1 0 -2.2 0M71.48 24.36a1.1 1.1 0 1 0 2.2 0a1.1 1.1 0 1 0 -2.2 0M57.54 -15.52a1.1 1.1 0 1 0 2.2 0a1.1 1.1 0 1 0 -2.2 0M196.95 96.05a1.1 1.1 0 1 0 2.2 0a1.1 1.1 0 1 0 -2.2 0M210.89 88.02a1.1 1.1 0 1 0 2.2 0a1.1 1.1 0 1 0 -2.2 0M183.00 24.36a1.1 1.1 0 1 0 2.2 0a1.1 1.1 0 1 0 -2.2 0M308.47 32.33a1.1 1.1 0 1 0 2.2 0a1.1 1.1 0 1 0 -2.2 0M99.36 104.02a1.1 1.1 0 1 0 2.2 0a1.1 1.1 0 1 0 -2.2 0M266.64 72.16a1.1 1.1 0 1 0 2.2 0a1.1 1.1 0 1 0 -2.2 0M294.53 -7.56a1.1 1.1 0 1 0 2.2 0a1.1 1.1 0 1 0 -2.2 0M71.48 88.09a1.1 1.1 0 1 0 2.2 0a1.1 1.1 0 1 0 -2.2 0M113.31 -15.46a1.1 1.1 0 1 0 2.2 0a1.1 1.1 0 1 0 -2.2 0M280.59 48.26a1.1 1.1 0 1 0 2.2 0a1.1 1.1 0 1 0 -2.2 0M113.30 48.19a1.1 1.1 0 1 0 2.2 0a1.1 1.1 0 1 0 -2.2 0M141.18 111.92a1.1 1.1 0 1 0 2.2 0a1.1 1.1 0 1 0 -2.2 0M127.24 8.43a1.1 1.1 0 1 0 2.2 0a1.1 1.1 0 1 0 -2.2 0M183.00 88.09a1.1 1.1 0 1 0 2.2 0a1.1 1.1 0 1 0 -2.2 0M224.83 32.33a1.1 1.1 0 1 0 2.2 0a1.1 1.1 0 1 0 -2.2 0M210.89 -7.56a1.1 1.1 0 1 0 2.2 0a1.1 1.1 0 1 0 -2.2 0M266.65 24.30a1.1 1.1 0 1 0 2.2 0a1.1 1.1 0 1 0 -2.2 0M127.24 104.02a1.1 1.1 0 1 0 2.2 0a1.1 1.1 0 1 0 -2.2 0M43.60 72.16a1.1 1.1 0 1 0 2.2 0a1.1 1.1 0 1 0 -2.2 0M280.58 16.34a1.1 1.1 0 1 0 2.2 0a1.1 1.1 0 1 0 -2.2 0M113.31 96.05a1.1 1.1 0 1 0 2.2 0a1.1 1.1 0 1 0 -2.2 0M43.61 103.95a1.1 1.1 0 1 0 2.2 0a1.1 1.1 0 1 0 -2.2 0M238.76 -23.43a1.1 1.1 0 1 0 2.2 0a1.1 1.1 0 1 0 -2.2 0M71.49 72.09a1.1 1.1 0 1 0 2.2 0a1.1 1.1 0 1 0 -2.2 0M85.43 64.19a1.1 1.1 0 1 0 2.2 0a1.1 1.1 0 1 0 -2.2 0M266.65 88.02a1.1 1.1 0 1 0 2.2 0a1.1 1.1 0 1 0 -2.2 0M29.66 48.19a1.1 1.1 0 1 0 2.2 0a1.1 1.1 0 1 0 -2.2 0M85.42 111.92a1.1 1.1 0 1 0 2.2 0a1.1 1.1 0 1 0 -2.2 0M71.48 8.43a1.1 1.1 0 1 0 2.2 0a1.1 1.1 0 1 0 -2.2 0M224.82 16.34a1.1 1.1 0 1 0 2.2 0a1.1 1.1 0 1 0 -2.2 0M169.07 -15.46a1.1 1.1 0 1 0 2.2 0a1.1 1.1 0 1 0 -2.2 0M238.77 56.16a1.1 1.1 0 1 0 2.2 0a1.1 1.1 0 1 0 -2.2 0M280.58 48.20a1.1 1.1 0 1 0 2.2 0a1.1 1.1 0 1 0 -2.2 0M294.52 40.30a1.1 1.1 0 1 0 2.2 0a1.1 1.1 0 1 0 -2.2 0M169.06 48.19a1.1 1.1 0 1 0 2.2 0a1.1 1.1 0 1 0 -2.2 0M71.48 -7.50a1.1 1.1 0 1 0 2.2 0a1.1 1.1 0 1 0 -2.2 0M196.94 111.92a1.1 1.1 0 1 0 2.2 0a1.1 1.1 0 1 0 -2.2 0M183.00 8.43a1.1 1.1 0 1 0 2.2 0a1.1 1.1 0 1 0 -2.2 0M127.25 103.95a1.1 1.1 0 1 0 2.2 0a1.1 1.1 0 1 0 -2.2 0M308.47 16.40a1.1 1.1 0 1 0 2.2 0a1.1 1.1 0 1 0 -2.2 0M99.37 -7.56a1.1 1.1 0 1 0 2.2 0a1.1 1.1 0 1 0 -2.2 0M210.88 56.22a1.1 1.1 0 1 0 2.2 0a1.1 1.1 0 1 0 -2.2 0M280.59 32.33a1.1 1.1 0 1 0 2.2 0a1.1 1.1 0 1 0 -2.2 0M155.13 24.30a1.1 1.1 0 1 0 2.2 0a1.1 1.1 0 1 0 -2.2 0M183.00 -7.50a1.1 1.1 0 1 0 2.2 0a1.1 1.1 0 1 0 -2.2 0M224.82 48.20a1.1 1.1 0 1 0 2.2 0a1.1 1.1 0 1 0 -2.2 0M57.55 64.19a1.1 1.1 0 1 0 2.2 0a1.1 1.1 0 1 0 -2.2 0M169.07 0.47a1.1 1.1 0 1 0 2.2 0a1.1 1.1 0 1 0 -2.2 0M224.83 16.40a1.1 1.1 0 1 0 2.2 0a1.1 1.1 0 1 0 -2.2 0M183.00 104.02a1.1 1.1 0 1 0 2.2 0a1.1 1.1 0 1 0 -2.2 0M71.49 24.30a1.1 1.1 0 1 0 2.2 0a1.1 1.1 0 1 0 -2.2 0M141.18 80.06a1.1 1.1 0 1 0 2.2 0a1.1 1.1 0 1 0 -2.2 0M280.58 80.05a1.1 1.1 0 1 0 2.2 0a1.1 1.1 0 1 0 -2.2 0M252.70 0.41a1.1 1.1 0 1 0 2.2 0a1.1 1.1 0 1 0 -2.2 0M155.13 88.02a1.1 1.1 0 1 0 2.2 0a1.1 1.1 0 1 0 -2.2 0M57.54 48.19a1.1 1.1 0 1 0 2.2 0a1.1 1.1 0 1 0 -2.2 0M266.64 56.22a1.1 1.1 0 1 0 2.2 0a1.1 1.1 0 1 0 -2.2 0M141.19 64.19a1.1 1.1 0 1 0 2.2 0a1.1 1.1 0 1 0 -2.2 0M210.88 40.30a1.1 1.1 0 1 0 2.2 0a1.1 1.1 0 1 0 -2.2 0M141.18 95.98a1.1 1.1 0 1 0 2.2 0a1.1 1.1 0 1 0 -2.2 0M294.53 56.16a1.1 1.1 0 1 0 2.2 0a1.1 1.1 0 1 0 -2.2 0M238.77 8.37a1.1 1.1 0 1 0 2.2 0a1.1 1.1 0 1 0 -2.2 0M71.49 88.02a1.1 1.1 0 1 0 2.2 0a1.1 1.1 0 1 0 -2.2 0M308.47 80.12a1.1 1.1 0 1 0 2.2 0a1.1 1.1 0 1 0 -2.2 0M85.43 48.26a1.1 1.1 0 1 0 2.2 0a1.1 1.1 0 1 0 -2.2 0M280.58 -15.52a1.1 1.1 0 1 0 2.2 0a1.1 1.1 0 1 0 -2.2 0M155.13 -7.56a1.1 1.1 0 1 0 2.2 0a1.1 1.1 0 1 0 -2.2 0M43.61 72.09a1.1 1.1 0 1 0 2.2 0a1.1 1.1 0 1 0 -2.2 0M238.76 88.09a1.1 1.1 0 1 0 2.2 0a1.1 1.1 0 1 0 -2.2 0M238.77 40.23a1.1 1.1 0 1 0 2.2 0a1.1 1.1 0 1 0 -2.2 0M280.58 32.27a1.1 1.1 0 1 0 2.2 0a1.1 1.1 0 1 0 -2.2 0M252.71 96.05a1.1 1.1 0 1 0 2.2 0a1.1 1.1 0 1 0 -2.2 0M210.89 56.16a1.1 1.1 0 1 0 2.2 0a1.1 1.1 0 1 0 -2.2 0M85.42 80.06a1.1 1.1 0 1 0 2.2 0a1.1 1.1 0 1 0 -2.2 0M71.48 -23.43a1.1 1.1 0 1 0 2.2 0a1.1 1.1 0 1 0 -2.2 0M224.83 80.12a1.1 1.1 0 1 0 2.2 0a1.1 1.1 0 1 0 -2.2 0M99.36 72.16a1.1 1.1 0 1 0 2.2 0a1.1 1.1 0 1 0 -2.2 0M280.59 16.40a1.1 1.1 0 1 0 2.2 0a1.1 1.1 0 1 0 -2.2 0M71.49 -7.56a1.1 1.1 0 1 0 2.2 0a1.1 1.1 0 1 0 -2.2 0M252.70 64.12a1.1 1.1 0 1 0 2.2 0a1.1 1.1 0 1 0 -2.2 0M196.94 80.06a1.1 1.1 0 1 0 2.2 0a1.1 1.1 0 1 0 -2.2 0M183.00 -23.43a1.1 1.1 0 1 0 2.2 0a1.1 1.1 0 1 0 -2.2 0M85.43 0.47a1.1 1.1 0 1 0 2.2 0a1.1 1.1 0 1 0 -2.2 0M127.25 72.09a1.1 1.1 0 1 0 2.2 0a1.1 1.1 0 1 0 -2.2 0M57.55 48.26a1.1 1.1 0 1 0 2.2 0a1.1 1.1 0 1 0 -2.2 0M224.82 32.27a1.1 1.1 0 1 0 2.2 0a1.1 1.1 0 1 0 -2.2 0M308.47 -15.46a1.1 1.1 0 1 0 2.2 0a1.1 1.1 0 1 0 -2.2 0M308.46 0.41a1.1 1.1 0 1 0 2.2 0a1.1 1.1 0 1 0 -2.2 0M85.42 95.98a1.1 1.1 0 1 0 2.2 0a1.1 1.1 0 1 0 -2.2 0M155.12 -7.50a1.1 1.1 0 1 0 2.2 0a1.1 1.1 0 1 0 -2.2 0M294.52 24.36a1.1 1.1 0 1 0 2.2 0a1.1 1.1 0 1 0 -2.2 0M196.94 95.98a1.1 1.1 0 1 0 2.2 0a1.1 1.1 0 1 0 -2.2 0M322.41 103.95a1.1 1.1 0 1 0 2.2 0a1.1 1.1 0 1 0 -2.2 0M113.30 80.06a1.1 1.1 0 1 0 2.2 0a1.1 1.1 0 1 0 -2.2 0M224.83 -15.46a1.1 1.1 0 1 0 2.2 0a1.1 1.1 0 1 0 -2.2 0" fill="#fff"/></g><line x1="121.6" y1="14.3" x2="121.6" y2="72.8" stroke="#b8b8b8" stroke-width="0.8" stroke-dasharray="1 1"/><line x1="219.9" y1="14.3" x2="219.9" y2="72.8" stroke="#b8b8b8" stroke-width="0.8" stroke-dasharray="1 1"/><rect x="44.0" y="14.3" width="271.6" height="58.5" fill="none" stroke="#a0a0a0" stroke-width="1"/>
<text x="14.7" y="16" class="lab" style="font-size:12.4px">(a)</text>
<text x="75" y="7.7" style="font-size:9.2px;letter-spacing:0.55px">MoX<tspan dy="2.4" style="font-size:7px">2</tspan></text>
<text x="169.8" y="7.7" style="font-size:9.2px;letter-spacing:0.7px">WX<tspan dy="2.4" style="font-size:7px">2</tspan></text>
<text x="258" y="7.7" style="font-size:9.2px;letter-spacing:0.55px">MoX<tspan dy="2.4" style="font-size:7px">2</tspan></text>
<text x="30.3" y="37.8" class="ser" style="font-size:16.5px">ε</text>
<text x="321.1" y="38.7" class="ser" style="font-size:16px">ε</text>
<path d="M41.6 42.8H25.6M29.6 39.8L25.2 42.8L29.6 45.8" stroke="#6c6c6c" stroke-width="1.7" fill="none" stroke-linejoin="miter"/>
<path d="M317.9 42.8H334.9M330.9 39.8L335.3 42.8L330.9 45.8" stroke="#6c6c6c" stroke-width="1.7" fill="none" stroke-linejoin="miter"/>
<path d="M34.6 61.5V78.8H51" stroke="#8a8a8a" stroke-width="0.9" fill="none"/>
<path d="M32.9 63.5L34.6 60.5L36.3 63.5M49 77.1L52 78.8L49 80.5" stroke="#8a8a8a" stroke-width="0.9" fill="none"/>
<text x="26.2" y="66" style="font-size:9.6px">y</text>
<text x="52.5" y="82.3" style="font-size:9.6px">x</text>
<!-- panel b -->
<text x="2.7" y="97.2" style="font-size:12.4px;letter-spacing:0.2px">(b)</text>
<text x="10" y="114.3" style="font-size:10.2px">MoX<tspan dy="2.4" style="font-size:7.2px">2</tspan></text>
<text x="56.4" y="113.6" style="font-size:10.2px;letter-spacing:0.4px">WX<tspan dy="2.4" style="font-size:7.2px">2</tspan></text>
<rect x="1" y="120.5" width="44.6" height="134" fill="url(#gl)"/>
<rect x="44.4" y="120.5" width="43.2" height="134" fill="url(#gr)"/>
<path d="M1 160.3H44.4V143.1H87.6M44.4 193.3H87.6M1 214.3H44.4V193.3" stroke="#5a4a30" stroke-width="0.9" stroke-dasharray="1 1" fill="none"/>
<text x="2.6" y="156.6" style="font-size:10.5px">CB</text>
<text x="3.2" y="229.3" style="font-size:10.5px">VB</text>
<path d="M50.7 144.5V157.5" stroke="#3a3020" stroke-width="0.8"/>
<path d="M49.2 146.5L50.7 143.8L52.2 146.5M49.2 155.5L50.7 158.2L52.2 155.5" stroke="#3a3020" stroke-width="0.8" fill="none"/>
<text x="54.3" y="157.6" class="ser" style="font-size:11px;font-style:normal;letter-spacing:0.15px">Δ<tspan class="ser" style="font-style:italic">E</tspan><tspan dy="2" style="font-size:7px;font-style:italic" class="ser">c</tspan><tspan dy="-2" class="ser" style="font-style:normal">(</tspan><tspan class="ser" style="font-style:italic">ε</tspan><tspan class="ser" style="font-style:normal">)</tspan></text>
<text x="61.9" y="181.8" class="ser" style="font-size:11px;letter-spacing:0.1px"><tspan class="ser">E</tspan><tspan dy="2" style="font-size:7px">g</tspan><tspan dy="-2" style="font-style:normal">(</tspan>ε<tspan style="font-style:normal">)</tspan></text>
<path d="M86 143.5V190" stroke="#5a4a20" stroke-width="0.8"/>
<path d="M84.5 141.8L86 144.5L87.5 146.5Z" fill="none"/>
<path d="M84.4 146.2L86 143.3L87.6 146.2ZM84.4 187.8L86 190.9L87.6 187.8Z" fill="#3a3020" stroke="#3a3020" stroke-width="0.5"/>
<!-- panel c -->
<text x="121.2" y="94.6" style="font-size:12.8px;letter-spacing:0.9px;stroke-width:0">(c)</text>
<clipPath id="cl"><rect x="113.1" y="103.9" width="64.9" height="150.4"/></clipPath><g clip-path="url(#cl)" stroke-linecap="round"><path d="M104.90 98.50L100.67 95.93M104.90 98.50L109.12 95.93M104.90 98.50L104.90 103.63M113.35 98.50L109.12 95.93M113.35 98.50L117.57 95.93M113.35 98.50L113.35 103.63M121.80 98.50L117.58 95.93M121.80 98.50L126.02 95.93M121.80 98.50L121.80 103.63M130.25 98.50L126.03 95.93M130.25 98.50L134.47 95.93M130.25 98.50L130.25 103.63M138.70 98.50L134.47 95.93M138.70 98.50L142.92 95.93M138.70 98.50L138.70 103.63M147.15 98.50L142.92 95.93M147.15 98.50L151.37 95.93M147.15 98.50L147.15 103.63M155.60 98.50L151.38 95.93M155.60 98.50L159.82 95.93M155.60 98.50L155.60 103.63M164.05 98.50L159.82 95.93M164.05 98.50L168.27 95.93M164.05 98.50L164.05 103.63M172.50 98.50L168.28 95.93M172.50 98.50L176.72 95.93M172.50 98.50L172.50 103.63M180.95 98.50L176.72 95.93M180.95 98.50L185.17 95.93M180.95 98.50L180.95 103.63M108.85 106.20L104.62 103.63M108.85 106.20L113.07 103.63M108.85 106.20L108.85 111.33M117.30 106.20L113.08 103.63M117.30 106.20L121.52 103.63M117.30 106.20L117.30 111.33M125.75 106.20L121.53 103.63M125.75 106.20L129.97 103.63M125.75 106.20L125.75 111.33M134.20 106.20L129.97 103.63M134.20 106.20L138.42 103.63M134.20 106.20L134.20 111.33M142.65 106.20L138.43 103.63M142.65 106.20L146.88 103.63M142.65 106.20L142.65 111.33M151.10 106.20L146.88 103.63M151.10 106.20L155.32 103.63M151.10 106.20L151.10 111.33M159.55 106.20L155.33 103.63M159.55 106.20L163.78 103.63M159.55 106.20L159.55 111.33M168.00 106.20L163.78 103.63M168.00 106.20L172.22 103.63M168.00 106.20L168.00 111.33M176.45 106.20L172.22 103.63M176.45 106.20L180.67 103.63M176.45 106.20L176.45 111.33M184.90 106.20L180.67 103.63M184.90 106.20L189.12 103.63M184.90 106.20L184.90 111.33M104.90 113.90L100.67 111.33M104.90 113.90L109.12 111.33M104.90 113.90L104.90 119.03M113.35 113.90L109.12 111.33M113.35 113.90L117.57 111.33M113.35 113.90L113.35 119.03M121.80 113.90L117.58 111.33M121.80 113.90L126.02 111.33M121.80 113.90L121.80 119.03M130.25 113.90L126.03 111.33M130.25 113.90L134.47 111.33M130.25 113.90L130.25 119.03M138.70 113.90L134.47 111.33M138.70 113.90L142.92 111.33M138.70 113.90L138.70 119.03M147.15 113.90L142.92 111.33M147.15 113.90L151.37 111.33M147.15 113.90L147.15 119.03M155.60 113.90L151.38 111.33M155.60 113.90L159.82 111.33M155.60 113.90L155.60 119.03M164.05 113.90L159.82 111.33M164.05 113.90L168.27 111.33M164.05 113.90L164.05 119.03M172.50 113.90L168.28 111.33M172.50 113.90L176.72 111.33M172.50 113.90L172.50 119.03M180.95 113.90L176.72 111.33M180.95 113.90L185.17 111.33M180.95 113.90L180.95 119.03M108.85 121.60L104.62 119.03M108.85 121.60L113.07 119.03M108.85 121.60L108.85 126.73M117.30 121.60L113.08 119.03M117.30 121.60L121.52 119.03M117.30 121.60L117.30 126.73M125.75 121.60L121.53 119.03M125.75 121.60L129.97 119.03M125.75 121.60L125.75 126.73M134.20 121.60L129.97 119.03M134.20 121.60L138.42 119.03M134.20 121.60L134.20 126.73M142.65 121.60L138.43 119.03M142.65 121.60L146.88 119.03M142.65 121.60L142.65 126.73M151.10 121.60L146.88 119.03M151.10 121.60L155.32 119.03M151.10 121.60L151.10 126.73M159.55 121.60L155.33 119.03M159.55 121.60L163.78 119.03M159.55 121.60L159.55 126.73M168.00 121.60L163.78 119.03M168.00 121.60L172.22 119.03M168.00 121.60L168.00 126.73M176.45 121.60L172.22 119.03M176.45 121.60L180.67 119.03M176.45 121.60L176.45 126.73M184.90 121.60L180.67 119.03M184.90 121.60L189.12 119.03M184.90 121.60L184.90 126.73M104.90 129.30L100.67 126.73M104.90 129.30L109.12 126.73M104.90 129.30L104.90 134.43M113.35 129.30L109.12 126.73M113.35 129.30L117.57 126.73M113.35 129.30L113.35 134.43M121.80 129.30L117.58 126.73M121.80 129.30L126.02 126.73M121.80 129.30L121.80 134.43M130.25 129.30L126.03 126.73M130.25 129.30L134.47 126.73M130.25 129.30L130.25 134.43M138.70 129.30L134.47 126.73M138.70 129.30L142.92 126.73M138.70 129.30L138.70 134.43M147.15 129.30L142.92 126.73M147.15 129.30L151.37 126.73M147.15 129.30L147.15 134.43M155.60 129.30L151.38 126.73M155.60 129.30L159.82 126.73M155.60 129.30L155.60 134.43M164.05 129.30L159.82 126.73M164.05 129.30L168.27 126.73M164.05 129.30L164.05 134.43M172.50 129.30L168.28 126.73M172.50 129.30L176.72 126.73M172.50 129.30L172.50 134.43M180.95 129.30L176.72 126.73M180.95 129.30L185.17 126.73M180.95 129.30L180.95 134.43M108.85 137.00L104.62 134.43M108.85 137.00L113.07 134.43M108.85 137.00L108.85 142.13M117.30 137.00L113.08 134.43M117.30 137.00L121.52 134.43M117.30 137.00L117.30 142.13M125.75 137.00L121.53 134.43M125.75 137.00L129.97 134.43M125.75 137.00L125.75 142.13M134.20 137.00L129.97 134.43M134.20 137.00L138.42 134.43M134.20 137.00L134.20 142.13M142.65 137.00L138.43 134.43M142.65 137.00L146.88 134.43M142.65 137.00L142.65 142.13M151.10 137.00L146.88 134.43M151.10 137.00L155.32 134.43M151.10 137.00L151.10 142.13M159.55 137.00L155.33 134.43M159.55 137.00L163.78 134.43M159.55 137.00L159.55 142.13M168.00 137.00L163.78 134.43M168.00 137.00L172.22 134.43M168.00 137.00L168.00 142.13M176.45 137.00L172.22 134.43M176.45 137.00L180.67 134.43M176.45 137.00L176.45 142.13M184.90 137.00L180.67 134.43M184.90 137.00L189.12 134.43M184.90 137.00L184.90 142.13M104.90 144.70L100.67 142.13M104.90 144.70L109.12 142.13M104.90 144.70L104.90 149.83M113.35 144.70L109.12 142.13M113.35 144.70L117.57 142.13M113.35 144.70L113.35 149.83M121.80 144.70L117.58 142.13M121.80 144.70L126.02 142.13M121.80 144.70L121.80 149.83M130.25 144.70L126.03 142.13M130.25 144.70L134.47 142.13M130.25 144.70L130.25 149.83M138.70 144.70L134.47 142.13M138.70 144.70L142.92 142.13M138.70 144.70L138.70 149.83M147.15 144.70L142.92 142.13M147.15 144.70L151.37 142.13M147.15 144.70L147.15 149.83M155.60 144.70L151.38 142.13M155.60 144.70L159.82 142.13M155.60 144.70L155.60 149.83M164.05 144.70L159.82 142.13M164.05 144.70L168.27 142.13M164.05 144.70L164.05 149.83M172.50 144.70L168.28 142.13M172.50 144.70L176.72 142.13M172.50 144.70L172.50 149.83M180.95 144.70L176.72 142.13M180.95 144.70L185.17 142.13M180.95 144.70L180.95 149.83M108.85 152.40L104.62 149.83M108.85 152.40L113.07 149.83M108.85 152.40L108.85 157.53M117.30 152.40L113.08 149.83M117.30 152.40L121.52 149.83M117.30 152.40L117.30 157.53M125.75 152.40L121.53 149.83M125.75 152.40L129.97 149.83M125.75 152.40L125.75 157.53M134.20 152.40L129.97 149.83M134.20 152.40L138.42 149.83M134.20 152.40L134.20 157.53M142.65 152.40L138.43 149.83M142.65 152.40L146.88 149.83M142.65 152.40L142.65 157.53M151.10 152.40L146.88 149.83M151.10 152.40L155.32 149.83M151.10 152.40L151.10 157.53M159.55 152.40L155.33 149.83M159.55 152.40L163.78 149.83M159.55 152.40L159.55 157.53M168.00 152.40L163.78 149.83M168.00 152.40L172.22 149.83M168.00 152.40L168.00 157.53M176.45 152.40L172.22 149.83M176.45 152.40L180.67 149.83M176.45 152.40L176.45 157.53M184.90 152.40L180.67 149.83M184.90 152.40L189.12 149.83M184.90 152.40L184.90 157.53M104.90 160.10L100.67 157.53M104.90 160.10L109.12 157.53M104.90 160.10L104.90 165.23M113.35 160.10L109.12 157.53M113.35 160.10L117.57 157.53M113.35 160.10L113.35 165.23M121.80 160.10L117.58 157.53M121.80 160.10L126.02 157.53M121.80 160.10L121.80 165.23M130.25 160.10L126.03 157.53M130.25 160.10L134.47 157.53M130.25 160.10L130.25 165.23M138.70 160.10L134.47 157.53M138.70 160.10L142.92 157.53M138.70 160.10L138.70 165.23M147.15 160.10L142.92 157.53M147.15 160.10L151.37 157.53M147.15 160.10L147.15 165.23M155.60 160.10L151.38 157.53M155.60 160.10L159.82 157.53M155.60 160.10L155.60 165.23M164.05 160.10L159.82 157.53M164.05 160.10L168.27 157.53M164.05 160.10L164.05 165.23M172.50 160.10L168.28 157.53M172.50 160.10L176.72 157.53M172.50 160.10L172.50 165.23M180.95 160.10L176.72 157.53M180.95 160.10L185.17 157.53M180.95 160.10L180.95 165.23M108.85 167.80L104.62 165.23M108.85 167.80L113.07 165.23M108.85 167.80L108.85 172.93M117.30 167.80L113.08 165.23M117.30 167.80L121.52 165.23M117.30 167.80L117.30 172.93M125.75 167.80L121.53 165.23M125.75 167.80L129.97 165.23M125.75 167.80L125.75 172.93M134.20 167.80L129.97 165.23M134.20 167.80L138.42 165.23M134.20 167.80L134.20 172.93M142.65 167.80L138.43 165.23M142.65 167.80L146.88 165.23M142.65 167.80L142.65 172.93M151.10 167.80L146.88 165.23M151.10 167.80L155.32 165.23M151.10 167.80L151.10 172.93M159.55 167.80L155.33 165.23M159.55 167.80L163.78 165.23M159.55 167.80L159.55 172.93M168.00 167.80L163.78 165.23M168.00 167.80L172.22 165.23M168.00 167.80L168.00 172.93M176.45 167.80L172.22 165.23M176.45 167.80L180.67 165.23M176.45 167.80L176.45 172.93M184.90 167.80L180.67 165.23M184.90 167.80L189.12 165.23M184.90 167.80L184.90 172.93M104.90 175.50L100.67 172.93M104.90 175.50L109.12 172.93M104.90 175.50L104.90 180.63M113.35 175.50L109.12 172.93M113.35 175.50L117.57 172.93M113.35 175.50L113.35 180.63M121.80 175.50L117.58 172.93M121.80 175.50L126.02 172.93M121.80 175.50L121.80 180.63M130.25 175.50L126.03 172.93M130.25 175.50L134.47 172.93M130.25 175.50L130.25 180.63M138.70 175.50L134.47 172.93M138.70 175.50L142.92 172.93M138.70 175.50L138.70 180.63M147.15 175.50L142.92 172.93M147.15 175.50L151.37 172.93M147.15 175.50L147.15 180.63M155.60 175.50L151.38 172.93M155.60 175.50L159.82 172.93M155.60 175.50L155.60 180.63M164.05 175.50L159.82 172.93M164.05 175.50L168.27 172.93M164.05 175.50L164.05 180.63M172.50 175.50L168.28 172.93M172.50 175.50L176.72 172.93M172.50 175.50L172.50 180.63M180.95 175.50L176.72 172.93M180.95 175.50L185.17 172.93M180.95 175.50L180.95 180.63M108.85 183.20L104.62 180.63M108.85 183.20L113.07 180.63M108.85 183.20L108.85 188.33M117.30 183.20L113.08 180.63M117.30 183.20L121.52 180.63M117.30 183.20L117.30 188.33M125.75 183.20L121.53 180.63M125.75 183.20L129.97 180.63M125.75 183.20L125.75 188.33M134.20 183.20L129.97 180.63M134.20 183.20L138.42 180.63M134.20 183.20L134.20 188.33M142.65 183.20L138.43 180.63M142.65 183.20L146.88 180.63M142.65 183.20L142.65 188.33M151.10 183.20L146.88 180.63M151.10 183.20L155.32 180.63M151.10 183.20L151.10 188.33M159.55 183.20L155.33 180.63M159.55 183.20L163.78 180.63M159.55 183.20L159.55 188.33M168.00 183.20L163.78 180.63M168.00 183.20L172.22 180.63M168.00 183.20L168.00 188.33M176.45 183.20L172.22 180.63M176.45 183.20L180.67 180.63M176.45 183.20L176.45 188.33M184.90 183.20L180.67 180.63M184.90 183.20L189.12 180.63M184.90 183.20L184.90 188.33M104.90 190.90L100.67 188.33M104.90 190.90L109.12 188.33M104.90 190.90L104.90 196.03M113.35 190.90L109.12 188.33M113.35 190.90L117.57 188.33M113.35 190.90L113.35 196.03M121.80 190.90L117.58 188.33M121.80 190.90L126.02 188.33M121.80 190.90L121.80 196.03M130.25 190.90L126.03 188.33M130.25 190.90L134.47 188.33M130.25 190.90L130.25 196.03M138.70 190.90L134.47 188.33M138.70 190.90L142.92 188.33M138.70 190.90L138.70 196.03M147.15 190.90L142.92 188.33M147.15 190.90L151.37 188.33M147.15 190.90L147.15 196.03M155.60 190.90L151.38 188.33M155.60 190.90L159.82 188.33M155.60 190.90L155.60 196.03M164.05 190.90L159.82 188.33M164.05 190.90L168.27 188.33M164.05 190.90L164.05 196.03M172.50 190.90L168.28 188.33M172.50 190.90L176.72 188.33M172.50 190.90L172.50 196.03M180.95 190.90L176.72 188.33M180.95 190.90L185.17 188.33M180.95 190.90L180.95 196.03M108.85 198.60L104.62 196.03M108.85 198.60L113.07 196.03M108.85 198.60L108.85 203.73M117.30 198.60L113.08 196.03M117.30 198.60L121.52 196.03M117.30 198.60L117.30 203.73M125.75 198.60L121.53 196.03M125.75 198.60L129.97 196.03M125.75 198.60L125.75 203.73M134.20 198.60L129.97 196.03M134.20 198.60L138.42 196.03M134.20 198.60L134.20 203.73M142.65 198.60L138.43 196.03M142.65 198.60L146.88 196.03M142.65 198.60L142.65 203.73M151.10 198.60L146.88 196.03M151.10 198.60L155.32 196.03M151.10 198.60L151.10 203.73M159.55 198.60L155.33 196.03M159.55 198.60L163.78 196.03M159.55 198.60L159.55 203.73M168.00 198.60L163.78 196.03M168.00 198.60L172.22 196.03M168.00 198.60L168.00 203.73M176.45 198.60L172.22 196.03M176.45 198.60L180.67 196.03M176.45 198.60L176.45 203.73M184.90 198.60L180.67 196.03M184.90 198.60L189.12 196.03M184.90 198.60L184.90 203.73M104.90 206.30L100.67 203.73M104.90 206.30L109.12 203.73M104.90 206.30L104.90 211.43M113.35 206.30L109.12 203.73M113.35 206.30L117.57 203.73M113.35 206.30L113.35 211.43M121.80 206.30L117.58 203.73M121.80 206.30L126.02 203.73M121.80 206.30L121.80 211.43M130.25 206.30L126.03 203.73M130.25 206.30L134.47 203.73M130.25 206.30L130.25 211.43M138.70 206.30L134.47 203.73M138.70 206.30L142.92 203.73M138.70 206.30L138.70 211.43M147.15 206.30L142.92 203.73M147.15 206.30L151.37 203.73M147.15 206.30L147.15 211.43M155.60 206.30L151.38 203.73M155.60 206.30L159.82 203.73M155.60 206.30L155.60 211.43M164.05 206.30L159.82 203.73M164.05 206.30L168.27 203.73M164.05 206.30L164.05 211.43M172.50 206.30L168.28 203.73M172.50 206.30L176.72 203.73M172.50 206.30L172.50 211.43M180.95 206.30L176.72 203.73M180.95 206.30L185.17 203.73M180.95 206.30L180.95 211.43M108.85 214.00L104.62 211.43M108.85 214.00L113.07 211.43M108.85 214.00L108.85 219.13M117.30 214.00L113.08 211.43M117.30 214.00L121.52 211.43M117.30 214.00L117.30 219.13M125.75 214.00L121.53 211.43M125.75 214.00L129.97 211.43M125.75 214.00L125.75 219.13M134.20 214.00L129.97 211.43M134.20 214.00L138.42 211.43M134.20 214.00L134.20 219.13M142.65 214.00L138.43 211.43M142.65 214.00L146.88 211.43M142.65 214.00L142.65 219.13M151.10 214.00L146.88 211.43M151.10 214.00L155.32 211.43M151.10 214.00L151.10 219.13M159.55 214.00L155.33 211.43M159.55 214.00L163.78 211.43M159.55 214.00L159.55 219.13M168.00 214.00L163.78 211.43M168.00 214.00L172.22 211.43M168.00 214.00L168.00 219.13M176.45 214.00L172.22 211.43M176.45 214.00L180.67 211.43M176.45 214.00L176.45 219.13M184.90 214.00L180.67 211.43M184.90 214.00L189.12 211.43M184.90 214.00L184.90 219.13M104.90 221.70L100.67 219.13M104.90 221.70L109.12 219.13M104.90 221.70L104.90 226.83M113.35 221.70L109.12 219.13M113.35 221.70L117.57 219.13M113.35 221.70L113.35 226.83M121.80 221.70L117.58 219.13M121.80 221.70L126.02 219.13M121.80 221.70L121.80 226.83M130.25 221.70L126.03 219.13M130.25 221.70L134.47 219.13M130.25 221.70L130.25 226.83M138.70 221.70L134.47 219.13M138.70 221.70L142.92 219.13M138.70 221.70L138.70 226.83M147.15 221.70L142.92 219.13M147.15 221.70L151.37 219.13M147.15 221.70L147.15 226.83M155.60 221.70L151.38 219.13M155.60 221.70L159.82 219.13M155.60 221.70L155.60 226.83M164.05 221.70L159.82 219.13M164.05 221.70L168.27 219.13M164.05 221.70L164.05 226.83M172.50 221.70L168.28 219.13M172.50 221.70L176.72 219.13M172.50 221.70L172.50 226.83M180.95 221.70L176.72 219.13M180.95 221.70L185.17 219.13M180.95 221.70L180.95 226.83M108.85 229.40L104.62 226.83M108.85 229.40L113.07 226.83M108.85 229.40L108.85 234.53M117.30 229.40L113.08 226.83M117.30 229.40L121.52 226.83M117.30 229.40L117.30 234.53M125.75 229.40L121.53 226.83M125.75 229.40L129.97 226.83M125.75 229.40L125.75 234.53M134.20 229.40L129.97 226.83M134.20 229.40L138.42 226.83M134.20 229.40L134.20 234.53M142.65 229.40L138.43 226.83M142.65 229.40L146.88 226.83M142.65 229.40L142.65 234.53M151.10 229.40L146.88 226.83M151.10 229.40L155.32 226.83M151.10 229.40L151.10 234.53M159.55 229.40L155.33 226.83M159.55 229.40L163.78 226.83M159.55 229.40L159.55 234.53M168.00 229.40L163.78 226.83M168.00 229.40L172.22 226.83M168.00 229.40L168.00 234.53M176.45 229.40L172.22 226.83M176.45 229.40L180.67 226.83M176.45 229.40L176.45 234.53M184.90 229.40L180.67 226.83M184.90 229.40L189.12 226.83M184.90 229.40L184.90 234.53M104.90 237.10L100.67 234.53M104.90 237.10L109.12 234.53M104.90 237.10L104.90 242.23M113.35 237.10L109.12 234.53M113.35 237.10L117.57 234.53M113.35 237.10L113.35 242.23M121.80 237.10L117.58 234.53M121.80 237.10L126.02 234.53M121.80 237.10L121.80 242.23M130.25 237.10L126.03 234.53M130.25 237.10L134.47 234.53M130.25 237.10L130.25 242.23M138.70 237.10L134.47 234.53M138.70 237.10L142.92 234.53M138.70 237.10L138.70 242.23M147.15 237.10L142.92 234.53M147.15 237.10L151.37 234.53M147.15 237.10L147.15 242.23M155.60 237.10L151.38 234.53M155.60 237.10L159.82 234.53M155.60 237.10L155.60 242.23M164.05 237.10L159.82 234.53M164.05 237.10L168.27 234.53M164.05 237.10L164.05 242.23M172.50 237.10L168.28 234.53M172.50 237.10L176.72 234.53M172.50 237.10L172.50 242.23M180.95 237.10L176.72 234.53M180.95 237.10L185.17 234.53M180.95 237.10L180.95 242.23M108.85 244.80L104.62 242.23M108.85 244.80L113.07 242.23M108.85 244.80L108.85 249.93M117.30 244.80L113.08 242.23M117.30 244.80L121.52 242.23M117.30 244.80L117.30 249.93M125.75 244.80L121.53 242.23M125.75 244.80L129.97 242.23M125.75 244.80L125.75 249.93M134.20 244.80L129.97 242.23M134.20 244.80L138.42 242.23M134.20 244.80L134.20 249.93M142.65 244.80L138.43 242.23M142.65 244.80L146.88 242.23M142.65 244.80L142.65 249.93M151.10 244.80L146.88 242.23M151.10 244.80L155.32 242.23M151.10 244.80L151.10 249.93M159.55 244.80L155.33 242.23M159.55 244.80L163.78 242.23M159.55 244.80L159.55 249.93M168.00 244.80L163.78 242.23M168.00 244.80L172.22 242.23M168.00 244.80L168.00 249.93M176.45 244.80L172.22 242.23M176.45 244.80L180.67 242.23M176.45 244.80L176.45 249.93M184.90 244.80L180.67 242.23M184.90 244.80L189.12 242.23M184.90 244.80L184.90 249.93M104.90 252.50L100.67 249.93M104.90 252.50L109.12 249.93M104.90 252.50L104.90 257.63M113.35 252.50L109.12 249.93M113.35 252.50L117.57 249.93M113.35 252.50L113.35 257.63M121.80 252.50L117.58 249.93M121.80 252.50L126.02 249.93M121.80 252.50L121.80 257.63M130.25 252.50L126.03 249.93M130.25 252.50L134.47 249.93M130.25 252.50L130.25 257.63M138.70 252.50L134.47 249.93M138.70 252.50L142.92 249.93M138.70 252.50L138.70 257.63M147.15 252.50L142.92 249.93M147.15 252.50L151.37 249.93M147.15 252.50L147.15 257.63M155.60 252.50L151.38 249.93M155.60 252.50L159.82 249.93M155.60 252.50L155.60 257.63M164.05 252.50L159.82 249.93M164.05 252.50L168.27 249.93M164.05 252.50L164.05 257.63M172.50 252.50L168.28 249.93M172.50 252.50L176.72 249.93M172.50 252.50L172.50 257.63M180.95 252.50L176.72 249.93M180.95 252.50L185.17 249.93M180.95 252.50L180.95 257.63M108.85 260.20L104.62 257.63M108.85 260.20L113.07 257.63M108.85 260.20L108.85 265.33M117.30 260.20L113.08 257.63M117.30 260.20L121.52 257.63M117.30 260.20L117.30 265.33M125.75 260.20L121.53 257.63M125.75 260.20L129.97 257.63M125.75 260.20L125.75 265.33M134.20 260.20L129.97 257.63M134.20 260.20L138.42 257.63M134.20 260.20L134.20 265.33M142.65 260.20L138.43 257.63M142.65 260.20L146.88 257.63M142.65 260.20L142.65 265.33M151.10 260.20L146.88 257.63M151.10 260.20L155.32 257.63M151.10 260.20L151.10 265.33M159.55 260.20L155.33 257.63M159.55 260.20L163.78 257.63M159.55 260.20L159.55 265.33M168.00 260.20L163.78 257.63M168.00 260.20L172.22 257.63M168.00 260.20L168.00 265.33M176.45 260.20L172.22 257.63M176.45 260.20L180.67 257.63M176.45 260.20L176.45 265.33M184.90 260.20L180.67 257.63M184.90 260.20L189.12 257.63M184.90 260.20L184.90 265.33M104.90 267.90L100.67 265.33M104.90 267.90L109.12 265.33M104.90 267.90L104.90 273.03M113.35 267.90L109.12 265.33M113.35 267.90L117.57 265.33M113.35 267.90L113.35 273.03M121.80 267.90L117.58 265.33M121.80 267.90L126.02 265.33M121.80 267.90L121.80 273.03M130.25 267.90L126.03 265.33M130.25 267.90L134.47 265.33M130.25 267.90L130.25 273.03M138.70 267.90L134.47 265.33M138.70 267.90L142.92 265.33M138.70 267.90L138.70 273.03M147.15 267.90L142.92 265.33M147.15 267.90L151.37 265.33M147.15 267.90L147.15 273.03M155.60 267.90L151.38 265.33M155.60 267.90L159.82 265.33M155.60 267.90L155.60 273.03M164.05 267.90L159.82 265.33M164.05 267.90L168.27 265.33M164.05 267.90L164.05 273.03M172.50 267.90L168.28 265.33M172.50 267.90L176.72 265.33M172.50 267.90L172.50 273.03M180.95 267.90L176.72 265.33M180.95 267.90L185.17 265.33M180.95 267.90L180.95 273.03" stroke="#c2c2c8" stroke-width="0.65" fill="none"/><path d="M103.00 96.40L104.90 98.70L106.80 96.40M104.90 98.70L104.90 101.20" stroke="#e0de52" stroke-width="2.1" stroke-linecap="round" stroke-linejoin="round" fill="none"/><ellipse cx="104.90" cy="98.90" rx="1.7" ry="1.9" fill="#e0de52"/><path d="M103.50 97.00L105.20 99.40L105.20 100.90" stroke="#5a5a70" stroke-width="0.75" fill="none"/><path d="M111.45 96.40L113.35 98.70L115.25 96.40M113.35 98.70L113.35 101.20" stroke="#e0de52" stroke-width="2.1" stroke-linecap="round" stroke-linejoin="round" fill="none"/><ellipse cx="113.35" cy="98.90" rx="1.7" ry="1.9" fill="#e0de52"/><path d="M111.95 97.00L113.65 99.40L113.65 100.90" stroke="#5a5a70" stroke-width="0.75" fill="none"/><path d="M119.90 96.40L121.80 98.70L123.70 96.40M121.80 98.70L121.80 101.20" stroke="#e0de52" stroke-width="2.1" stroke-linecap="round" stroke-linejoin="round" fill="none"/><ellipse cx="121.80" cy="98.90" rx="1.7" ry="1.9" fill="#e0de52"/><path d="M120.40 97.00L122.10 99.40L122.10 100.90" stroke="#5a5a70" stroke-width="0.75" fill="none"/><path d="M128.35 96.40L130.25 98.70L132.15 96.40M130.25 98.70L130.25 101.20" stroke="#e0de52" stroke-width="2.1" stroke-linecap="round" stroke-linejoin="round" fill="none"/><ellipse cx="130.25" cy="98.90" rx="1.7" ry="1.9" fill="#e0de52"/><path d="M128.85 97.00L130.55 99.40L130.55 100.90" stroke="#5a5a70" stroke-width="0.75" fill="none"/><path d="M136.80 96.40L138.70 98.70L140.60 96.40M138.70 98.70L138.70 101.20" stroke="#e0de52" stroke-width="2.1" stroke-linecap="round" stroke-linejoin="round" fill="none"/><ellipse cx="138.70" cy="98.90" rx="1.7" ry="1.9" fill="#e0de52"/><path d="M137.30 97.00L139.00 99.40L139.00 100.90" stroke="#5a5a70" stroke-width="0.75" fill="none"/><path d="M145.25 96.40L147.15 98.70L149.05 96.40M147.15 98.70L147.15 101.20" stroke="#e0de52" stroke-width="2.1" stroke-linecap="round" stroke-linejoin="round" fill="none"/><ellipse cx="147.15" cy="98.90" rx="1.7" ry="1.9" fill="#e0de52"/><path d="M145.75 97.00L147.45 99.40L147.45 100.90" stroke="#5a5a70" stroke-width="0.75" fill="none"/><path d="M153.70 96.40L155.60 98.70L157.50 96.40M155.60 98.70L155.60 101.20" stroke="#e0de52" stroke-width="2.1" stroke-linecap="round" stroke-linejoin="round" fill="none"/><ellipse cx="155.60" cy="98.90" rx="1.7" ry="1.9" fill="#e0de52"/><path d="M154.20 97.00L155.90 99.40L155.90 100.90" stroke="#5a5a70" stroke-width="0.75" fill="none"/><path d="M162.15 96.40L164.05 98.70L165.95 96.40M164.05 98.70L164.05 101.20" stroke="#e0de52" stroke-width="2.1" stroke-linecap="round" stroke-linejoin="round" fill="none"/><ellipse cx="164.05" cy="98.90" rx="1.7" ry="1.9" fill="#e0de52"/><path d="M162.65 97.00L164.35 99.40L164.35 100.90" stroke="#5a5a70" stroke-width="0.75" fill="none"/><path d="M170.60 96.40L172.50 98.70L174.40 96.40M172.50 98.70L172.50 101.20" stroke="#e0de52" stroke-width="2.1" stroke-linecap="round" stroke-linejoin="round" fill="none"/><ellipse cx="172.50" cy="98.90" rx="1.7" ry="1.9" fill="#e0de52"/><path d="M171.10 97.00L172.80 99.40L172.80 100.90" stroke="#5a5a70" stroke-width="0.75" fill="none"/><path d="M179.05 96.40L180.95 98.70L182.85 96.40M180.95 98.70L180.95 101.20" stroke="#e0de52" stroke-width="2.1" stroke-linecap="round" stroke-linejoin="round" fill="none"/><ellipse cx="180.95" cy="98.90" rx="1.7" ry="1.9" fill="#e0de52"/><path d="M179.55 97.00L181.25 99.40L181.25 100.90" stroke="#5a5a70" stroke-width="0.75" fill="none"/><path d="M106.95 104.10L108.85 106.40L110.75 104.10M108.85 106.40L108.85 108.90" stroke="#e0de52" stroke-width="2.1" stroke-linecap="round" stroke-linejoin="round" fill="none"/><ellipse cx="108.85" cy="106.60" rx="1.7" ry="1.9" fill="#e0de52"/><path d="M107.45 104.70L109.15 107.10L109.15 108.60" stroke="#5a5a70" stroke-width="0.75" fill="none"/><path d="M115.40 104.10L117.30 106.40L119.20 104.10M117.30 106.40L117.30 108.90" stroke="#e0de52" stroke-width="2.1" stroke-linecap="round" stroke-linejoin="round" fill="none"/><ellipse cx="117.30" cy="106.60" rx="1.7" ry="1.9" fill="#e0de52"/><path d="M115.90 104.70L117.60 107.10L117.60 108.60" stroke="#5a5a70" stroke-width="0.75" fill="none"/><path d="M123.85 104.10L125.75 106.40L127.65 104.10M125.75 106.40L125.75 108.90" stroke="#e0de52" stroke-width="2.1" stroke-linecap="round" stroke-linejoin="round" fill="none"/><ellipse cx="125.75" cy="106.60" rx="1.7" ry="1.9" fill="#e0de52"/><path d="M124.35 104.70L126.05 107.10L126.05 108.60" stroke="#5a5a70" stroke-width="0.75" fill="none"/><path d="M132.30 104.10L134.20 106.40L136.10 104.10M134.20 106.40L134.20 108.90" stroke="#e0de52" stroke-width="2.1" stroke-linecap="round" stroke-linejoin="round" fill="none"/><ellipse cx="134.20" cy="106.60" rx="1.7" ry="1.9" fill="#e0de52"/><path d="M132.80 104.70L134.50 107.10L134.50 108.60" stroke="#5a5a70" stroke-width="0.75" fill="none"/><path d="M140.75 104.10L142.65 106.40L144.55 104.10M142.65 106.40L142.65 108.90" stroke="#e0de52" stroke-width="2.1" stroke-linecap="round" stroke-linejoin="round" fill="none"/><ellipse cx="142.65" cy="106.60" rx="1.7" ry="1.9" fill="#e0de52"/><path d="M141.25 104.70L142.95 107.10L142.95 108.60" stroke="#5a5a70" stroke-width="0.75" fill="none"/><path d="M149.20 104.10L151.10 106.40L153.00 104.10M151.10 106.40L151.10 108.90" stroke="#e0de52" stroke-width="2.1" stroke-linecap="round" stroke-linejoin="round" fill="none"/><ellipse cx="151.10" cy="106.60" rx="1.7" ry="1.9" fill="#e0de52"/><path d="M149.70 104.70L151.40 107.10L151.40 108.60" stroke="#5a5a70" stroke-width="0.75" fill="none"/><path d="M157.65 104.10L159.55 106.40L161.45 104.10M159.55 106.40L159.55 108.90" stroke="#e0de52" stroke-width="2.1" stroke-linecap="round" stroke-linejoin="round" fill="none"/><ellipse cx="159.55" cy="106.60" rx="1.7" ry="1.9" fill="#e0de52"/><path d="M158.15 104.70L159.85 107.10L159.85 108.60" stroke="#5a5a70" stroke-width="0.75" fill="none"/><path d="M166.10 104.10L168.00 106.40L169.90 104.10M168.00 106.40L168.00 108.90" stroke="#e0de52" stroke-width="2.1" stroke-linecap="round" stroke-linejoin="round" fill="none"/><ellipse cx="168.00" cy="106.60" rx="1.7" ry="1.9" fill="#e0de52"/><path d="M166.60 104.70L168.30 107.10L168.30 108.60" stroke="#5a5a70" stroke-width="0.75" fill="none"/><path d="M174.55 104.10L176.45 106.40L178.35 104.10M176.45 106.40L176.45 108.90" stroke="#e0de52" stroke-width="2.1" stroke-linecap="round" stroke-linejoin="round" fill="none"/><ellipse cx="176.45" cy="106.60" rx="1.7" ry="1.9" fill="#e0de52"/><path d="M175.05 104.70L176.75 107.10L176.75 108.60" stroke="#5a5a70" stroke-width="0.75" fill="none"/><path d="M183.00 104.10L184.90 106.40L186.80 104.10M184.90 106.40L184.90 108.90" stroke="#e0de52" stroke-width="2.1" stroke-linecap="round" stroke-linejoin="round" fill="none"/><ellipse cx="184.90" cy="106.60" rx="1.7" ry="1.9" fill="#e0de52"/><path d="M183.50 104.70L185.20 107.10L185.20 108.60" stroke="#5a5a70" stroke-width="0.75" fill="none"/><path d="M103.00 111.80L104.90 114.10L106.80 111.80M104.90 114.10L104.90 116.60" stroke="#e0de52" stroke-width="2.1" stroke-linecap="round" stroke-linejoin="round" fill="none"/><ellipse cx="104.90" cy="114.30" rx="1.7" ry="1.9" fill="#e0de52"/><path d="M103.50 112.40L105.20 114.80L105.20 116.30" stroke="#5a5a70" stroke-width="0.75" fill="none"/><path d="M111.45 111.80L113.35 114.10L115.25 111.80M113.35 114.10L113.35 116.60" stroke="#e0de52" stroke-width="2.1" stroke-linecap="round" stroke-linejoin="round" fill="none"/><ellipse cx="113.35" cy="114.30" rx="1.7" ry="1.9" fill="#e0de52"/><path d="M111.95 112.40L113.65 114.80L113.65 116.30" stroke="#5a5a70" stroke-width="0.75" fill="none"/><path d="M119.90 111.80L121.80 114.10L123.70 111.80M121.80 114.10L121.80 116.60" stroke="#e0de52" stroke-width="2.1" stroke-linecap="round" stroke-linejoin="round" fill="none"/><ellipse cx="121.80" cy="114.30" rx="1.7" ry="1.9" fill="#e0de52"/><path d="M120.40 112.40L122.10 114.80L122.10 116.30" stroke="#5a5a70" stroke-width="0.75" fill="none"/><path d="M128.35 111.80L130.25 114.10L132.15 111.80M130.25 114.10L130.25 116.60" stroke="#e0de52" stroke-width="2.1" stroke-linecap="round" stroke-linejoin="round" fill="none"/><ellipse cx="130.25" cy="114.30" rx="1.7" ry="1.9" fill="#e0de52"/><path d="M128.85 112.40L130.55 114.80L130.55 116.30" stroke="#5a5a70" stroke-width="0.75" fill="none"/><path d="M136.80 111.80L138.70 114.10L140.60 111.80M138.70 114.10L138.70 116.60" stroke="#e0de52" stroke-width="2.1" stroke-linecap="round" stroke-linejoin="round" fill="none"/><ellipse cx="138.70" cy="114.30" rx="1.7" ry="1.9" fill="#e0de52"/><path d="M137.30 112.40L139.00 114.80L139.00 116.30" stroke="#5a5a70" stroke-width="0.75" fill="none"/><path d="M145.25 111.80L147.15 114.10L149.05 111.80M147.15 114.10L147.15 116.60" stroke="#e0de52" stroke-width="2.1" stroke-linecap="round" stroke-linejoin="round" fill="none"/><ellipse cx="147.15" cy="114.30" rx="1.7" ry="1.9" fill="#e0de52"/><path d="M145.75 112.40L147.45 114.80L147.45 116.30" stroke="#5a5a70" stroke-width="0.75" fill="none"/><path d="M153.70 111.80L155.60 114.10L157.50 111.80M155.60 114.10L155.60 116.60" stroke="#e0de52" stroke-width="2.1" stroke-linecap="round" stroke-linejoin="round" fill="none"/><ellipse cx="155.60" cy="114.30" rx="1.7" ry="1.9" fill="#e0de52"/><path d="M154.20 112.40L155.90 114.80L155.90 116.30" stroke="#5a5a70" stroke-width="0.75" fill="none"/><path d="M162.15 111.80L164.05 114.10L165.95 111.80M164.05 114.10L164.05 116.60" stroke="#e0de52" stroke-width="2.1" stroke-linecap="round" stroke-linejoin="round" fill="none"/><ellipse cx="164.05" cy="114.30" rx="1.7" ry="1.9" fill="#e0de52"/><path d="M162.65 112.40L164.35 114.80L164.35 116.30" stroke="#5a5a70" stroke-width="0.75" fill="none"/><path d="M170.60 111.80L172.50 114.10L174.40 111.80M172.50 114.10L172.50 116.60" stroke="#e0de52" stroke-width="2.1" stroke-linecap="round" stroke-linejoin="round" fill="none"/><ellipse cx="172.50" cy="114.30" rx="1.7" ry="1.9" fill="#e0de52"/><path d="M171.10 112.40L172.80 114.80L172.80 116.30" stroke="#5a5a70" stroke-width="0.75" fill="none"/><path d="M179.05 111.80L180.95 114.10L182.85 111.80M180.95 114.10L180.95 116.60" stroke="#e0de52" stroke-width="2.1" stroke-linecap="round" stroke-linejoin="round" fill="none"/><ellipse cx="180.95" cy="114.30" rx="1.7" ry="1.9" fill="#e0de52"/><path d="M179.55 112.40L181.25 114.80L181.25 116.30" stroke="#5a5a70" stroke-width="0.75" fill="none"/><path d="M106.95 119.50L108.85 121.80L110.75 119.50M108.85 121.80L108.85 124.30" stroke="#e0de52" stroke-width="2.1" stroke-linecap="round" stroke-linejoin="round" fill="none"/><ellipse cx="108.85" cy="122.00" rx="1.7" ry="1.9" fill="#e0de52"/><path d="M107.45 120.10L109.15 122.50L109.15 124.00" stroke="#5a5a70" stroke-width="0.75" fill="none"/><path d="M115.40 119.50L117.30 121.80L119.20 119.50M117.30 121.80L117.30 124.30" stroke="#e0de52" stroke-width="2.1" stroke-linecap="round" stroke-linejoin="round" fill="none"/><ellipse cx="117.30" cy="122.00" rx="1.7" ry="1.9" fill="#e0de52"/><path d="M115.90 120.10L117.60 122.50L117.60 124.00" stroke="#5a5a70" stroke-width="0.75" fill="none"/><path d="M123.85 119.50L125.75 121.80L127.65 119.50M125.75 121.80L125.75 124.30" stroke="#e0de52" stroke-width="2.1" stroke-linecap="round" stroke-linejoin="round" fill="none"/><ellipse cx="125.75" cy="122.00" rx="1.7" ry="1.9" fill="#e0de52"/><path d="M124.35 120.10L126.05 122.50L126.05 124.00" stroke="#5a5a70" stroke-width="0.75" fill="none"/><path d="M132.30 119.50L134.20 121.80L136.10 119.50M134.20 121.80L134.20 124.30" stroke="#e0de52" stroke-width="2.1" stroke-linecap="round" stroke-linejoin="round" fill="none"/><ellipse cx="134.20" cy="122.00" rx="1.7" ry="1.9" fill="#e0de52"/><path d="M132.80 120.10L134.50 122.50L134.50 124.00" stroke="#5a5a70" stroke-width="0.75" fill="none"/><path d="M140.75 119.50L142.65 121.80L144.55 119.50M142.65 121.80L142.65 124.30" stroke="#e0de52" stroke-width="2.1" stroke-linecap="round" stroke-linejoin="round" fill="none"/><ellipse cx="142.65" cy="122.00" rx="1.7" ry="1.9" fill="#e0de52"/><path d="M141.25 120.10L142.95 122.50L142.95 124.00" stroke="#5a5a70" stroke-width="0.75" fill="none"/><path d="M149.20 119.50L151.10 121.80L153.00 119.50M151.10 121.80L151.10 124.30" stroke="#e0de52" stroke-width="2.1" stroke-linecap="round" stroke-linejoin="round" fill="none"/><ellipse cx="151.10" cy="122.00" rx="1.7" ry="1.9" fill="#e0de52"/><path d="M149.70 120.10L151.40 122.50L151.40 124.00" stroke="#5a5a70" stroke-width="0.75" fill="none"/><path d="M157.65 119.50L159.55 121.80L161.45 119.50M159.55 121.80L159.55 124.30" stroke="#e0de52" stroke-width="2.1" stroke-linecap="round" stroke-linejoin="round" fill="none"/><ellipse cx="159.55" cy="122.00" rx="1.7" ry="1.9" fill="#e0de52"/><path d="M158.15 120.10L159.85 122.50L159.85 124.00" stroke="#5a5a70" stroke-width="0.75" fill="none"/><path d="M166.10 119.50L168.00 121.80L169.90 119.50M168.00 121.80L168.00 124.30" stroke="#e0de52" stroke-width="2.1" stroke-linecap="round" stroke-linejoin="round" fill="none"/><ellipse cx="168.00" cy="122.00" rx="1.7" ry="1.9" fill="#e0de52"/><path d="M166.60 120.10L168.30 122.50L168.30 124.00" stroke="#5a5a70" stroke-width="0.75" fill="none"/><path d="M174.55 119.50L176.45 121.80L178.35 119.50M176.45 121.80L176.45 124.30" stroke="#e0de52" stroke-width="2.1" stroke-linecap="round" stroke-linejoin="round" fill="none"/><ellipse cx="176.45" cy="122.00" rx="1.7" ry="1.9" fill="#e0de52"/><path d="M175.05 120.10L176.75 122.50L176.75 124.00" stroke="#5a5a70" stroke-width="0.75" fill="none"/><path d="M183.00 119.50L184.90 121.80L186.80 119.50M184.90 121.80L184.90 124.30" stroke="#e0de52" stroke-width="2.1" stroke-linecap="round" stroke-linejoin="round" fill="none"/><ellipse cx="184.90" cy="122.00" rx="1.7" ry="1.9" fill="#e0de52"/><path d="M183.50 120.10L185.20 122.50L185.20 124.00" stroke="#5a5a70" stroke-width="0.75" fill="none"/><path d="M103.00 127.20L104.90 129.50L106.80 127.20M104.90 129.50L104.90 132.00" stroke="#e0de52" stroke-width="2.1" stroke-linecap="round" stroke-linejoin="round" fill="none"/><ellipse cx="104.90" cy="129.70" rx="1.7" ry="1.9" fill="#e0de52"/><path d="M103.50 127.80L105.20 130.20L105.20 131.70" stroke="#5a5a70" stroke-width="0.75" fill="none"/><path d="M111.45 127.20L113.35 129.50L115.25 127.20M113.35 129.50L113.35 132.00" stroke="#e0de52" stroke-width="2.1" stroke-linecap="round" stroke-linejoin="round" fill="none"/><ellipse cx="113.35" cy="129.70" rx="1.7" ry="1.9" fill="#e0de52"/><path d="M111.95 127.80L113.65 130.20L113.65 131.70" stroke="#5a5a70" stroke-width="0.75" fill="none"/><path d="M119.90 127.20L121.80 129.50L123.70 127.20M121.80 129.50L121.80 132.00" stroke="#e0de52" stroke-width="2.1" stroke-linecap="round" stroke-linejoin="round" fill="none"/><ellipse cx="121.80" cy="129.70" rx="1.7" ry="1.9" fill="#e0de52"/><path d="M120.40 127.80L122.10 130.20L122.10 131.70" stroke="#5a5a70" stroke-width="0.75" fill="none"/><path d="M128.35 127.20L130.25 129.50L132.15 127.20M130.25 129.50L130.25 132.00" stroke="#e0de52" stroke-width="2.1" stroke-linecap="round" stroke-linejoin="round" fill="none"/><ellipse cx="130.25" cy="129.70" rx="1.7" ry="1.9" fill="#e0de52"/><path d="M128.85 127.80L130.55 130.20L130.55 131.70" stroke="#5a5a70" stroke-width="0.75" fill="none"/><path d="M136.80 127.20L138.70 129.50L140.60 127.20M138.70 129.50L138.70 132.00" stroke="#e0de52" stroke-width="2.1" stroke-linecap="round" stroke-linejoin="round" fill="none"/><ellipse cx="138.70" cy="129.70" rx="1.7" ry="1.9" fill="#e0de52"/><path d="M137.30 127.80L139.00 130.20L139.00 131.70" stroke="#5a5a70" stroke-width="0.75" fill="none"/><path d="M145.25 127.20L147.15 129.50L149.05 127.20M147.15 129.50L147.15 132.00" stroke="#e0de52" stroke-width="2.1" stroke-linecap="round" stroke-linejoin="round" fill="none"/><ellipse cx="147.15" cy="129.70" rx="1.7" ry="1.9" fill="#e0de52"/><path d="M145.75 127.80L147.45 130.20L147.45 131.70" stroke="#5a5a70" stroke-width="0.75" fill="none"/><path d="M153.70 127.20L155.60 129.50L157.50 127.20M155.60 129.50L155.60 132.00" stroke="#e0de52" stroke-width="2.1" stroke-linecap="round" stroke-linejoin="round" fill="none"/><ellipse cx="155.60" cy="129.70" rx="1.7" ry="1.9" fill="#e0de52"/><path d="M154.20 127.80L155.90 130.20L155.90 131.70" stroke="#5a5a70" stroke-width="0.75" fill="none"/><path d="M162.15 127.20L164.05 129.50L165.95 127.20M164.05 129.50L164.05 132.00" stroke="#e0de52" stroke-width="2.1" stroke-linecap="round" stroke-linejoin="round" fill="none"/><ellipse cx="164.05" cy="129.70" rx="1.7" ry="1.9" fill="#e0de52"/><path d="M162.65 127.80L164.35 130.20L164.35 131.70" stroke="#5a5a70" stroke-width="0.75" fill="none"/><path d="M170.60 127.20L172.50 129.50L174.40 127.20M172.50 129.50L172.50 132.00" stroke="#e0de52" stroke-width="2.1" stroke-linecap="round" stroke-linejoin="round" fill="none"/><ellipse cx="172.50" cy="129.70" rx="1.7" ry="1.9" fill="#e0de52"/><path d="M171.10 127.80L172.80 130.20L172.80 131.70" stroke="#5a5a70" stroke-width="0.75" fill="none"/><path d="M179.05 127.20L180.95 129.50L182.85 127.20M180.95 129.50L180.95 132.00" stroke="#e0de52" stroke-width="2.1" stroke-linecap="round" stroke-linejoin="round" fill="none"/><ellipse cx="180.95" cy="129.70" rx="1.7" ry="1.9" fill="#e0de52"/><path d="M179.55 127.80L181.25 130.20L181.25 131.70" stroke="#5a5a70" stroke-width="0.75" fill="none"/><path d="M107.45 135.50L108.85 137.10L110.25 135.50M108.85 137.10L108.85 138.80" stroke="#e0de52" stroke-width="1.6" stroke-linecap="round" stroke-linejoin="round" fill="none"/><path d="M107.95 136.10L109.05 137.70" stroke="#5a5a70" stroke-width="0.6" fill="none"/><path d="M115.90 135.50L117.30 137.10L118.70 135.50M117.30 137.10L117.30 138.80" stroke="#e0de52" stroke-width="1.6" stroke-linecap="round" stroke-linejoin="round" fill="none"/><path d="M116.40 136.10L117.50 137.70" stroke="#5a5a70" stroke-width="0.6" fill="none"/><path d="M124.35 135.50L125.75 137.10L127.15 135.50M125.75 137.10L125.75 138.80" stroke="#e0de52" stroke-width="1.6" stroke-linecap="round" stroke-linejoin="round" fill="none"/><path d="M124.85 136.10L125.95 137.70" stroke="#5a5a70" stroke-width="0.6" fill="none"/><path d="M132.80 135.50L134.20 137.10L135.60 135.50M134.20 137.10L134.20 138.80" stroke="#e0de52" stroke-width="1.6" stroke-linecap="round" stroke-linejoin="round" fill="none"/><path d="M133.30 136.10L134.40 137.70" stroke="#5a5a70" stroke-width="0.6" fill="none"/><path d="M141.25 135.50L142.65 137.10L144.05 135.50M142.65 137.10L142.65 138.80" stroke="#e0de52" stroke-width="1.6" stroke-linecap="round" stroke-linejoin="round" fill="none"/><path d="M141.75 136.10L142.85 137.70" stroke="#5a5a70" stroke-width="0.6" fill="none"/><path d="M149.70 135.50L151.10 137.10L152.50 135.50M151.10 137.10L151.10 138.80" stroke="#e0de52" stroke-width="1.6" stroke-linecap="round" stroke-linejoin="round" fill="none"/><path d="M150.20 136.10L151.30 137.70" stroke="#5a5a70" stroke-width="0.6" fill="none"/><path d="M158.15 135.50L159.55 137.10L160.95 135.50M159.55 137.10L159.55 138.80" stroke="#e0de52" stroke-width="1.6" stroke-linecap="round" stroke-linejoin="round" fill="none"/><path d="M158.65 136.10L159.75 137.70" stroke="#5a5a70" stroke-width="0.6" fill="none"/><path d="M166.60 135.50L168.00 137.10L169.40 135.50M168.00 137.10L168.00 138.80" stroke="#e0de52" stroke-width="1.6" stroke-linecap="round" stroke-linejoin="round" fill="none"/><path d="M167.10 136.10L168.20 137.70" stroke="#5a5a70" stroke-width="0.6" fill="none"/><path d="M175.05 135.50L176.45 137.10L177.85 135.50M176.45 137.10L176.45 138.80" stroke="#e0de52" stroke-width="1.6" stroke-linecap="round" stroke-linejoin="round" fill="none"/><path d="M175.55 136.10L176.65 137.70" stroke="#5a5a70" stroke-width="0.6" fill="none"/><path d="M183.50 135.50L184.90 137.10L186.30 135.50M184.90 137.10L184.90 138.80" stroke="#e0de52" stroke-width="1.6" stroke-linecap="round" stroke-linejoin="round" fill="none"/><path d="M184.00 136.10L185.10 137.70" stroke="#5a5a70" stroke-width="0.6" fill="none"/><path d="M107.45 197.10L108.85 198.70L110.25 197.10M108.85 198.70L108.85 200.40" stroke="#e0de52" stroke-width="1.6" stroke-linecap="round" stroke-linejoin="round" fill="none"/><path d="M107.95 197.70L109.05 199.30" stroke="#5a5a70" stroke-width="0.6" fill="none"/><path d="M115.90 197.10L117.30 198.70L118.70 197.10M117.30 198.70L117.30 200.40" stroke="#e0de52" stroke-width="1.6" stroke-linecap="round" stroke-linejoin="round" fill="none"/><path d="M116.40 197.70L117.50 199.30" stroke="#5a5a70" stroke-width="0.6" fill="none"/><path d="M124.35 197.10L125.75 198.70L127.15 197.10M125.75 198.70L125.75 200.40" stroke="#e0de52" stroke-width="1.6" stroke-linecap="round" stroke-linejoin="round" fill="none"/><path d="M124.85 197.70L125.95 199.30" stroke="#5a5a70" stroke-width="0.6" fill="none"/><path d="M132.80 197.10L134.20 198.70L135.60 197.10M134.20 198.70L134.20 200.40" stroke="#e0de52" stroke-width="1.6" stroke-linecap="round" stroke-linejoin="round" fill="none"/><path d="M133.30 197.70L134.40 199.30" stroke="#5a5a70" stroke-width="0.6" fill="none"/><path d="M141.25 197.10L142.65 198.70L144.05 197.10M142.65 198.70L142.65 200.40" stroke="#e0de52" stroke-width="1.6" stroke-linecap="round" stroke-linejoin="round" fill="none"/><path d="M141.75 197.70L142.85 199.30" stroke="#5a5a70" stroke-width="0.6" fill="none"/><path d="M149.70 197.10L151.10 198.70L152.50 197.10M151.10 198.70L151.10 200.40" stroke="#e0de52" stroke-width="1.6" stroke-linecap="round" stroke-linejoin="round" fill="none"/><path d="M150.20 197.70L151.30 199.30" stroke="#5a5a70" stroke-width="0.6" fill="none"/><path d="M158.15 197.10L159.55 198.70L160.95 197.10M159.55 198.70L159.55 200.40" stroke="#e0de52" stroke-width="1.6" stroke-linecap="round" stroke-linejoin="round" fill="none"/><path d="M158.65 197.70L159.75 199.30" stroke="#5a5a70" stroke-width="0.6" fill="none"/><path d="M166.60 197.10L168.00 198.70L169.40 197.10M168.00 198.70L168.00 200.40" stroke="#e0de52" stroke-width="1.6" stroke-linecap="round" stroke-linejoin="round" fill="none"/><path d="M167.10 197.70L168.20 199.30" stroke="#5a5a70" stroke-width="0.6" fill="none"/><path d="M175.05 197.10L176.45 198.70L177.85 197.10M176.45 198.70L176.45 200.40" stroke="#e0de52" stroke-width="1.6" stroke-linecap="round" stroke-linejoin="round" fill="none"/><path d="M175.55 197.70L176.65 199.30" stroke="#5a5a70" stroke-width="0.6" fill="none"/><path d="M183.50 197.10L184.90 198.70L186.30 197.10M184.90 198.70L184.90 200.40" stroke="#e0de52" stroke-width="1.6" stroke-linecap="round" stroke-linejoin="round" fill="none"/><path d="M184.00 197.70L185.10 199.30" stroke="#5a5a70" stroke-width="0.6" fill="none"/><path d="M103.00 204.20L104.90 206.50L106.80 204.20M104.90 206.50L104.90 209.00" stroke="#e0de52" stroke-width="2.1" stroke-linecap="round" stroke-linejoin="round" fill="none"/><ellipse cx="104.90" cy="206.70" rx="1.7" ry="1.9" fill="#e0de52"/><path d="M103.50 204.80L105.20 207.20L105.20 208.70" stroke="#5a5a70" stroke-width="0.75" fill="none"/><path d="M111.45 204.20L113.35 206.50L115.25 204.20M113.35 206.50L113.35 209.00" stroke="#e0de52" stroke-width="2.1" stroke-linecap="round" stroke-linejoin="round" fill="none"/><ellipse cx="113.35" cy="206.70" rx="1.7" ry="1.9" fill="#e0de52"/><path d="M111.95 204.80L113.65 207.20L113.65 208.70" stroke="#5a5a70" stroke-width="0.75" fill="none"/><path d="M119.90 204.20L121.80 206.50L123.70 204.20M121.80 206.50L121.80 209.00" stroke="#e0de52" stroke-width="2.1" stroke-linecap="round" stroke-linejoin="round" fill="none"/><ellipse cx="121.80" cy="206.70" rx="1.7" ry="1.9" fill="#e0de52"/><path d="M120.40 204.80L122.10 207.20L122.10 208.70" stroke="#5a5a70" stroke-width="0.75" fill="none"/><path d="M128.35 204.20L130.25 206.50L132.15 204.20M130.25 206.50L130.25 209.00" stroke="#e0de52" stroke-width="2.1" stroke-linecap="round" stroke-linejoin="round" fill="none"/><ellipse cx="130.25" cy="206.70" rx="1.7" ry="1.9" fill="#e0de52"/><path d="M128.85 204.80L130.55 207.20L130.55 208.70" stroke="#5a5a70" stroke-width="0.75" fill="none"/><path d="M136.80 204.20L138.70 206.50L140.60 204.20M138.70 206.50L138.70 209.00" stroke="#e0de52" stroke-width="2.1" stroke-linecap="round" stroke-linejoin="round" fill="none"/><ellipse cx="138.70" cy="206.70" rx="1.7" ry="1.9" fill="#e0de52"/><path d="M137.30 204.80L139.00 207.20L139.00 208.70" stroke="#5a5a70" stroke-width="0.75" fill="none"/><path d="M145.25 204.20L147.15 206.50L149.05 204.20M147.15 206.50L147.15 209.00" stroke="#e0de52" stroke-width="2.1" stroke-linecap="round" stroke-linejoin="round" fill="none"/><ellipse cx="147.15" cy="206.70" rx="1.7" ry="1.9" fill="#e0de52"/><path d="M145.75 204.80L147.45 207.20L147.45 208.70" stroke="#5a5a70" stroke-width="0.75" fill="none"/><path d="M153.70 204.20L155.60 206.50L157.50 204.20M155.60 206.50L155.60 209.00" stroke="#e0de52" stroke-width="2.1" stroke-linecap="round" stroke-linejoin="round" fill="none"/><ellipse cx="155.60" cy="206.70" rx="1.7" ry="1.9" fill="#e0de52"/><path d="M154.20 204.80L155.90 207.20L155.90 208.70" stroke="#5a5a70" stroke-width="0.75" fill="none"/><path d="M162.15 204.20L164.05 206.50L165.95 204.20M164.05 206.50L164.05 209.00" stroke="#e0de52" stroke-width="2.1" stroke-linecap="round" stroke-linejoin="round" fill="none"/><ellipse cx="164.05" cy="206.70" rx="1.7" ry="1.9" fill="#e0de52"/><path d="M162.65 204.80L164.35 207.20L164.35 208.70" stroke="#5a5a70" stroke-width="0.75" fill="none"/><path d="M170.60 204.20L172.50 206.50L174.40 204.20M172.50 206.50L172.50 209.00" stroke="#e0de52" stroke-width="2.1" stroke-linecap="round" stroke-linejoin="round" fill="none"/><ellipse cx="172.50" cy="206.70" rx="1.7" ry="1.9" fill="#e0de52"/><path d="M171.10 204.80L172.80 207.20L172.80 208.70" stroke="#5a5a70" stroke-width="0.75" fill="none"/><path d="M179.05 204.20L180.95 206.50L182.85 204.20M180.95 206.50L180.95 209.00" stroke="#e0de52" stroke-width="2.1" stroke-linecap="round" stroke-linejoin="round" fill="none"/><ellipse cx="180.95" cy="206.70" rx="1.7" ry="1.9" fill="#e0de52"/><path d="M179.55 204.80L181.25 207.20L181.25 208.70" stroke="#5a5a70" stroke-width="0.75" fill="none"/><circle cx="108.85" cy="214.60" r="2.85" fill="#e4e462"/><path d="M106.95 212.90L109.55 216.10M110.35 213.30L110.55 214.70" stroke="#7c7c74" stroke-width="0.75" fill="none"/><circle cx="117.30" cy="214.60" r="2.85" fill="#e4e462"/><path d="M115.40 212.90L118.00 216.10M118.80 213.30L119.00 214.70" stroke="#7c7c74" stroke-width="0.75" fill="none"/><circle cx="125.75" cy="214.60" r="2.85" fill="#e4e462"/><path d="M123.85 212.90L126.45 216.10M127.25 213.30L127.45 214.70" stroke="#7c7c74" stroke-width="0.75" fill="none"/><circle cx="134.20" cy="214.60" r="2.85" fill="#e4e462"/><path d="M132.30 212.90L134.90 216.10M135.70 213.30L135.90 214.70" stroke="#7c7c74" stroke-width="0.75" fill="none"/><circle cx="142.65" cy="214.60" r="2.85" fill="#e4e462"/><path d="M140.75 212.90L143.35 216.10M144.15 213.30L144.35 214.70" stroke="#7c7c74" stroke-width="0.75" fill="none"/><circle cx="151.10" cy="214.60" r="2.85" fill="#e4e462"/><path d="M149.20 212.90L151.80 216.10M152.60 213.30L152.80 214.70" stroke="#7c7c74" stroke-width="0.75" fill="none"/><circle cx="159.55" cy="214.60" r="2.85" fill="#e4e462"/><path d="M157.65 212.90L160.25 216.10M161.05 213.30L161.25 214.70" stroke="#7c7c74" stroke-width="0.75" fill="none"/><circle cx="168.00" cy="214.60" r="2.85" fill="#e4e462"/><path d="M166.10 212.90L168.70 216.10M169.50 213.30L169.70 214.70" stroke="#7c7c74" stroke-width="0.75" fill="none"/><circle cx="176.45" cy="214.60" r="2.85" fill="#e4e462"/><path d="M174.55 212.90L177.15 216.10M177.95 213.30L178.15 214.70" stroke="#7c7c74" stroke-width="0.75" fill="none"/><circle cx="184.90" cy="214.60" r="2.85" fill="#e4e462"/><path d="M183.00 212.90L185.60 216.10M186.40 213.30L186.60 214.70" stroke="#7c7c74" stroke-width="0.75" fill="none"/><circle cx="104.90" cy="222.30" r="2.85" fill="#e4e462"/><path d="M103.00 220.60L105.60 223.80M106.40 221.00L106.60 222.40" stroke="#7c7c74" stroke-width="0.75" fill="none"/><circle cx="113.35" cy="222.30" r="2.85" fill="#e4e462"/><path d="M111.45 220.60L114.05 223.80M114.85 221.00L115.05 222.40" stroke="#7c7c74" stroke-width="0.75" fill="none"/><circle cx="121.80" cy="222.30" r="2.85" fill="#e4e462"/><path d="M119.90 220.60L122.50 223.80M123.30 221.00L123.50 222.40" stroke="#7c7c74" stroke-width="0.75" fill="none"/><circle cx="130.25" cy="222.30" r="2.85" fill="#e4e462"/><path d="M128.35 220.60L130.95 223.80M131.75 221.00L131.95 222.40" stroke="#7c7c74" stroke-width="0.75" fill="none"/><circle cx="138.70" cy="222.30" r="2.85" fill="#e4e462"/><path d="M136.80 220.60L139.40 223.80M140.20 221.00L140.40 222.40" stroke="#7c7c74" stroke-width="0.75" fill="none"/><circle cx="147.15" cy="222.30" r="2.85" fill="#e4e462"/><path d="M145.25 220.60L147.85 223.80M148.65 221.00L148.85 222.40" stroke="#7c7c74" stroke-width="0.75" fill="none"/><circle cx="155.60" cy="222.30" r="2.85" fill="#e4e462"/><path d="M153.70 220.60L156.30 223.80M157.10 221.00L157.30 222.40" stroke="#7c7c74" stroke-width="0.75" fill="none"/><circle cx="164.05" cy="222.30" r="2.85" fill="#e4e462"/><path d="M162.15 220.60L164.75 223.80M165.55 221.00L165.75 222.40" stroke="#7c7c74" stroke-width="0.75" fill="none"/><circle cx="172.50" cy="222.30" r="2.85" fill="#e4e462"/><path d="M170.60 220.60L173.20 223.80M174.00 221.00L174.20 222.40" stroke="#7c7c74" stroke-width="0.75" fill="none"/><circle cx="180.95" cy="222.30" r="2.85" fill="#e4e462"/><path d="M179.05 220.60L181.65 223.80M182.45 221.00L182.65 222.40" stroke="#7c7c74" stroke-width="0.75" fill="none"/><circle cx="108.85" cy="230.00" r="2.85" fill="#e4e462"/><path d="M106.95 228.30L109.55 231.50M110.35 228.70L110.55 230.10" stroke="#7c7c74" stroke-width="0.75" fill="none"/><circle cx="117.30" cy="230.00" r="2.85" fill="#e4e462"/><path d="M115.40 228.30L118.00 231.50M118.80 228.70L119.00 230.10" stroke="#7c7c74" stroke-width="0.75" fill="none"/><circle cx="125.75" cy="230.00" r="2.85" fill="#e4e462"/><path d="M123.85 228.30L126.45 231.50M127.25 228.70L127.45 230.10" stroke="#7c7c74" stroke-width="0.75" fill="none"/><circle cx="134.20" cy="230.00" r="2.85" fill="#e4e462"/><path d="M132.30 228.30L134.90 231.50M135.70 228.70L135.90 230.10" stroke="#7c7c74" stroke-width="0.75" fill="none"/><circle cx="142.65" cy="230.00" r="2.85" fill="#e4e462"/><path d="M140.75 228.30L143.35 231.50M144.15 228.70L144.35 230.10" stroke="#7c7c74" stroke-width="0.75" fill="none"/><circle cx="151.10" cy="230.00" r="2.85" fill="#e4e462"/><path d="M149.20 228.30L151.80 231.50M152.60 228.70L152.80 230.10" stroke="#7c7c74" stroke-width="0.75" fill="none"/><circle cx="159.55" cy="230.00" r="2.85" fill="#e4e462"/><path d="M157.65 228.30L160.25 231.50M161.05 228.70L161.25 230.10" stroke="#7c7c74" stroke-width="0.75" fill="none"/><circle cx="168.00" cy="230.00" r="2.85" fill="#e4e462"/><path d="M166.10 228.30L168.70 231.50M169.50 228.70L169.70 230.10" stroke="#7c7c74" stroke-width="0.75" fill="none"/><circle cx="176.45" cy="230.00" r="2.85" fill="#e4e462"/><path d="M174.55 228.30L177.15 231.50M177.95 228.70L178.15 230.10" stroke="#7c7c74" stroke-width="0.75" fill="none"/><circle cx="184.90" cy="230.00" r="2.85" fill="#e4e462"/><path d="M183.00 228.30L185.60 231.50M186.40 228.70L186.60 230.10" stroke="#7c7c74" stroke-width="0.75" fill="none"/><circle cx="104.90" cy="237.70" r="2.85" fill="#e4e462"/><path d="M103.00 236.00L105.60 239.20M106.40 236.40L106.60 237.80" stroke="#7c7c74" stroke-width="0.75" fill="none"/><circle cx="113.35" cy="237.70" r="2.85" fill="#e4e462"/><path d="M111.45 236.00L114.05 239.20M114.85 236.40L115.05 237.80" stroke="#7c7c74" stroke-width="0.75" fill="none"/><circle cx="121.80" cy="237.70" r="2.85" fill="#e4e462"/><path d="M119.90 236.00L122.50 239.20M123.30 236.40L123.50 237.80" stroke="#7c7c74" stroke-width="0.75" fill="none"/><circle cx="130.25" cy="237.70" r="2.85" fill="#e4e462"/><path d="M128.35 236.00L130.95 239.20M131.75 236.40L131.95 237.80" stroke="#7c7c74" stroke-width="0.75" fill="none"/><circle cx="138.70" cy="237.70" r="2.85" fill="#e4e462"/><path d="M136.80 236.00L139.40 239.20M140.20 236.40L140.40 237.80" stroke="#7c7c74" stroke-width="0.75" fill="none"/><circle cx="147.15" cy="237.70" r="2.85" fill="#e4e462"/><path d="M145.25 236.00L147.85 239.20M148.65 236.40L148.85 237.80" stroke="#7c7c74" stroke-width="0.75" fill="none"/><circle cx="155.60" cy="237.70" r="2.85" fill="#e4e462"/><path d="M153.70 236.00L156.30 239.20M157.10 236.40L157.30 237.80" stroke="#7c7c74" stroke-width="0.75" fill="none"/><circle cx="164.05" cy="237.70" r="2.85" fill="#e4e462"/><path d="M162.15 236.00L164.75 239.20M165.55 236.40L165.75 237.80" stroke="#7c7c74" stroke-width="0.75" fill="none"/><circle cx="172.50" cy="237.70" r="2.85" fill="#e4e462"/><path d="M170.60 236.00L173.20 239.20M174.00 236.40L174.20 237.80" stroke="#7c7c74" stroke-width="0.75" fill="none"/><circle cx="180.95" cy="237.70" r="2.85" fill="#e4e462"/><path d="M179.05 236.00L181.65 239.20M182.45 236.40L182.65 237.80" stroke="#7c7c74" stroke-width="0.75" fill="none"/><circle cx="108.85" cy="245.40" r="2.85" fill="#e4e462"/><path d="M106.95 243.70L109.55 246.90M110.35 244.10L110.55 245.50" stroke="#7c7c74" stroke-width="0.75" fill="none"/><circle cx="117.30" cy="245.40" r="2.85" fill="#e4e462"/><path d="M115.40 243.70L118.00 246.90M118.80 244.10L119.00 245.50" stroke="#7c7c74" stroke-width="0.75" fill="none"/><circle cx="125.75" cy="245.40" r="2.85" fill="#e4e462"/><path d="M123.85 243.70L126.45 246.90M127.25 244.10L127.45 245.50" stroke="#7c7c74" stroke-width="0.75" fill="none"/><circle cx="134.20" cy="245.40" r="2.85" fill="#e4e462"/><path d="M132.30 243.70L134.90 246.90M135.70 244.10L135.90 245.50" stroke="#7c7c74" stroke-width="0.75" fill="none"/><circle cx="142.65" cy="245.40" r="2.85" fill="#e4e462"/><path d="M140.75 243.70L143.35 246.90M144.15 244.10L144.35 245.50" stroke="#7c7c74" stroke-width="0.75" fill="none"/><circle cx="151.10" cy="245.40" r="2.85" fill="#e4e462"/><path d="M149.20 243.70L151.80 246.90M152.60 244.10L152.80 245.50" stroke="#7c7c74" stroke-width="0.75" fill="none"/><circle cx="159.55" cy="245.40" r="2.85" fill="#e4e462"/><path d="M157.65 243.70L160.25 246.90M161.05 244.10L161.25 245.50" stroke="#7c7c74" stroke-width="0.75" fill="none"/><circle cx="168.00" cy="245.40" r="2.85" fill="#e4e462"/><path d="M166.10 243.70L168.70 246.90M169.50 244.10L169.70 245.50" stroke="#7c7c74" stroke-width="0.75" fill="none"/><circle cx="176.45" cy="245.40" r="2.85" fill="#e4e462"/><path d="M174.55 243.70L177.15 246.90M177.95 244.10L178.15 245.50" stroke="#7c7c74" stroke-width="0.75" fill="none"/><circle cx="184.90" cy="245.40" r="2.85" fill="#e4e462"/><path d="M183.00 243.70L185.60 246.90M186.40 244.10L186.60 245.50" stroke="#7c7c74" stroke-width="0.75" fill="none"/><circle cx="104.90" cy="253.10" r="2.85" fill="#e4e462"/><path d="M103.00 251.40L105.60 254.60M106.40 251.80L106.60 253.20" stroke="#7c7c74" stroke-width="0.75" fill="none"/><circle cx="113.35" cy="253.10" r="2.85" fill="#e4e462"/><path d="M111.45 251.40L114.05 254.60M114.85 251.80L115.05 253.20" stroke="#7c7c74" stroke-width="0.75" fill="none"/><circle cx="121.80" cy="253.10" r="2.85" fill="#e4e462"/><path d="M119.90 251.40L122.50 254.60M123.30 251.80L123.50 253.20" stroke="#7c7c74" stroke-width="0.75" fill="none"/><circle cx="130.25" cy="253.10" r="2.85" fill="#e4e462"/><path d="M128.35 251.40L130.95 254.60M131.75 251.80L131.95 253.20" stroke="#7c7c74" stroke-width="0.75" fill="none"/><circle cx="138.70" cy="253.10" r="2.85" fill="#e4e462"/><path d="M136.80 251.40L139.40 254.60M140.20 251.80L140.40 253.20" stroke="#7c7c74" stroke-width="0.75" fill="none"/><circle cx="147.15" cy="253.10" r="2.85" fill="#e4e462"/><path d="M145.25 251.40L147.85 254.60M148.65 251.80L148.85 253.20" stroke="#7c7c74" stroke-width="0.75" fill="none"/><circle cx="155.60" cy="253.10" r="2.85" fill="#e4e462"/><path d="M153.70 251.40L156.30 254.60M157.10 251.80L157.30 253.20" stroke="#7c7c74" stroke-width="0.75" fill="none"/><circle cx="164.05" cy="253.10" r="2.85" fill="#e4e462"/><path d="M162.15 251.40L164.75 254.60M165.55 251.80L165.75 253.20" stroke="#7c7c74" stroke-width="0.75" fill="none"/><circle cx="172.50" cy="253.10" r="2.85" fill="#e4e462"/><path d="M170.60 251.40L173.20 254.60M174.00 251.80L174.20 253.20" stroke="#7c7c74" stroke-width="0.75" fill="none"/><circle cx="180.95" cy="253.10" r="2.85" fill="#e4e462"/><path d="M179.05 251.40L181.65 254.60M182.45 251.80L182.65 253.20" stroke="#7c7c74" stroke-width="0.75" fill="none"/><circle cx="108.85" cy="260.80" r="2.85" fill="#e4e462"/><path d="M106.95 259.10L109.55 262.30M110.35 259.50L110.55 260.90" stroke="#7c7c74" stroke-width="0.75" fill="none"/><circle cx="117.30" cy="260.80" r="2.85" fill="#e4e462"/><path d="M115.40 259.10L118.00 262.30M118.80 259.50L119.00 260.90" stroke="#7c7c74" stroke-width="0.75" fill="none"/><circle cx="125.75" cy="260.80" r="2.85" fill="#e4e462"/><path d="M123.85 259.10L126.45 262.30M127.25 259.50L127.45 260.90" stroke="#7c7c74" stroke-width="0.75" fill="none"/><circle cx="134.20" cy="260.80" r="2.85" fill="#e4e462"/><path d="M132.30 259.10L134.90 262.30M135.70 259.50L135.90 260.90" stroke="#7c7c74" stroke-width="0.75" fill="none"/><circle cx="142.65" cy="260.80" r="2.85" fill="#e4e462"/><path d="M140.75 259.10L143.35 262.30M144.15 259.50L144.35 260.90" stroke="#7c7c74" stroke-width="0.75" fill="none"/><circle cx="151.10" cy="260.80" r="2.85" fill="#e4e462"/><path d="M149.20 259.10L151.80 262.30M152.60 259.50L152.80 260.90" stroke="#7c7c74" stroke-width="0.75" fill="none"/><circle cx="159.55" cy="260.80" r="2.85" fill="#e4e462"/><path d="M157.65 259.10L160.25 262.30M161.05 259.50L161.25 260.90" stroke="#7c7c74" stroke-width="0.75" fill="none"/><circle cx="168.00" cy="260.80" r="2.85" fill="#e4e462"/><path d="M166.10 259.10L168.70 262.30M169.50 259.50L169.70 260.90" stroke="#7c7c74" stroke-width="0.75" fill="none"/><circle cx="176.45" cy="260.80" r="2.85" fill="#e4e462"/><path d="M174.55 259.10L177.15 262.30M177.95 259.50L178.15 260.90" stroke="#7c7c74" stroke-width="0.75" fill="none"/><circle cx="184.90" cy="260.80" r="2.85" fill="#e4e462"/><path d="M183.00 259.10L185.60 262.30M186.40 259.50L186.60 260.90" stroke="#7c7c74" stroke-width="0.75" fill="none"/><circle cx="104.90" cy="268.50" r="2.85" fill="#e4e462"/><path d="M103.00 266.80L105.60 270.00M106.40 267.20L106.60 268.60" stroke="#7c7c74" stroke-width="0.75" fill="none"/><circle cx="113.35" cy="268.50" r="2.85" fill="#e4e462"/><path d="M111.45 266.80L114.05 270.00M114.85 267.20L115.05 268.60" stroke="#7c7c74" stroke-width="0.75" fill="none"/><circle cx="121.80" cy="268.50" r="2.85" fill="#e4e462"/><path d="M119.90 266.80L122.50 270.00M123.30 267.20L123.50 268.60" stroke="#7c7c74" stroke-width="0.75" fill="none"/><circle cx="130.25" cy="268.50" r="2.85" fill="#e4e462"/><path d="M128.35 266.80L130.95 270.00M131.75 267.20L131.95 268.60" stroke="#7c7c74" stroke-width="0.75" fill="none"/><circle cx="138.70" cy="268.50" r="2.85" fill="#e4e462"/><path d="M136.80 266.80L139.40 270.00M140.20 267.20L140.40 268.60" stroke="#7c7c74" stroke-width="0.75" fill="none"/><circle cx="147.15" cy="268.50" r="2.85" fill="#e4e462"/><path d="M145.25 266.80L147.85 270.00M148.65 267.20L148.85 268.60" stroke="#7c7c74" stroke-width="0.75" fill="none"/><circle cx="155.60" cy="268.50" r="2.85" fill="#e4e462"/><path d="M153.70 266.80L156.30 270.00M157.10 267.20L157.30 268.60" stroke="#7c7c74" stroke-width="0.75" fill="none"/><circle cx="164.05" cy="268.50" r="2.85" fill="#e4e462"/><path d="M162.15 266.80L164.75 270.00M165.55 267.20L165.75 268.60" stroke="#7c7c74" stroke-width="0.75" fill="none"/><circle cx="172.50" cy="268.50" r="2.85" fill="#e4e462"/><path d="M170.60 266.80L173.20 270.00M174.00 267.20L174.20 268.60" stroke="#7c7c74" stroke-width="0.75" fill="none"/><circle cx="180.95" cy="268.50" r="2.85" fill="#e4e462"/><path d="M179.05 266.80L181.65 270.00M182.45 267.20L182.65 268.60" stroke="#7c7c74" stroke-width="0.75" fill="none"/><path d="M107.08 135.92L108.85 137.00L110.62 135.92M108.85 137.00L108.85 139.16" stroke="#8484e8" stroke-width="1.1" fill="none"/><path d="M115.53 135.92L117.30 137.00L119.07 135.92M117.30 137.00L117.30 139.16" stroke="#8484e8" stroke-width="1.1" fill="none"/><path d="M123.98 135.92L125.75 137.00L127.52 135.92M125.75 137.00L125.75 139.16" stroke="#8484e8" stroke-width="1.1" fill="none"/><path d="M132.43 135.92L134.20 137.00L135.97 135.92M134.20 137.00L134.20 139.16" stroke="#8484e8" stroke-width="1.1" fill="none"/><path d="M140.88 135.92L142.65 137.00L144.42 135.92M142.65 137.00L142.65 139.16" stroke="#8484e8" stroke-width="1.1" fill="none"/><path d="M149.33 135.92L151.10 137.00L152.87 135.92M151.10 137.00L151.10 139.16" stroke="#8484e8" stroke-width="1.1" fill="none"/><path d="M157.78 135.92L159.55 137.00L161.32 135.92M159.55 137.00L159.55 139.16" stroke="#8484e8" stroke-width="1.1" fill="none"/><path d="M166.23 135.92L168.00 137.00L169.77 135.92M168.00 137.00L168.00 139.16" stroke="#8484e8" stroke-width="1.1" fill="none"/><path d="M174.68 135.92L176.45 137.00L178.22 135.92M176.45 137.00L176.45 139.16" stroke="#8484e8" stroke-width="1.1" fill="none"/><path d="M183.13 135.92L184.90 137.00L186.67 135.92M184.90 137.00L184.90 139.16" stroke="#8484e8" stroke-width="1.1" fill="none"/><path d="M103.13 143.62L104.90 144.70L106.67 143.62M104.90 144.70L104.90 146.86" stroke="#8484e8" stroke-width="1.1" fill="none"/><path d="M111.58 143.62L113.35 144.70L115.12 143.62M113.35 144.70L113.35 146.86" stroke="#8484e8" stroke-width="1.1" fill="none"/><path d="M120.03 143.62L121.80 144.70L123.57 143.62M121.80 144.70L121.80 146.86" stroke="#8484e8" stroke-width="1.1" fill="none"/><path d="M128.48 143.62L130.25 144.70L132.02 143.62M130.25 144.70L130.25 146.86" stroke="#8484e8" stroke-width="1.1" fill="none"/><path d="M136.93 143.62L138.70 144.70L140.47 143.62M138.70 144.70L138.70 146.86" stroke="#8484e8" stroke-width="1.1" fill="none"/><path d="M145.38 143.62L147.15 144.70L148.92 143.62M147.15 144.70L147.15 146.86" stroke="#8484e8" stroke-width="1.1" fill="none"/><path d="M153.83 143.62L155.60 144.70L157.37 143.62M155.60 144.70L155.60 146.86" stroke="#8484e8" stroke-width="1.1" fill="none"/><path d="M162.28 143.62L164.05 144.70L165.82 143.62M164.05 144.70L164.05 146.86" stroke="#8484e8" stroke-width="1.1" fill="none"/><path d="M170.73 143.62L172.50 144.70L174.27 143.62M172.50 144.70L172.50 146.86" stroke="#8484e8" stroke-width="1.1" fill="none"/><path d="M179.18 143.62L180.95 144.70L182.72 143.62M180.95 144.70L180.95 146.86" stroke="#8484e8" stroke-width="1.1" fill="none"/><path d="M107.08 151.32L108.85 152.40L110.62 151.32M108.85 152.40L108.85 154.56" stroke="#e67a7a" stroke-width="1.1" fill="none"/><path d="M115.53 151.32L117.30 152.40L119.07 151.32M117.30 152.40L117.30 154.56" stroke="#e67a7a" stroke-width="1.1" fill="none"/><path d="M123.98 151.32L125.75 152.40L127.52 151.32M125.75 152.40L125.75 154.56" stroke="#e67a7a" stroke-width="1.1" fill="none"/><path d="M132.43 151.32L134.20 152.40L135.97 151.32M134.20 152.40L134.20 154.56" stroke="#e67a7a" stroke-width="1.1" fill="none"/><path d="M140.88 151.32L142.65 152.40L144.42 151.32M142.65 152.40L142.65 154.56" stroke="#e67a7a" stroke-width="1.1" fill="none"/><path d="M149.33 151.32L151.10 152.40L152.87 151.32M151.10 152.40L151.10 154.56" stroke="#e67a7a" stroke-width="1.1" fill="none"/><path d="M157.78 151.32L159.55 152.40L161.32 151.32M159.55 152.40L159.55 154.56" stroke="#e67a7a" stroke-width="1.1" fill="none"/><path d="M166.23 151.32L168.00 152.40L169.77 151.32M168.00 152.40L168.00 154.56" stroke="#e67a7a" stroke-width="1.1" fill="none"/><path d="M174.68 151.32L176.45 152.40L178.22 151.32M176.45 152.40L176.45 154.56" stroke="#e67a7a" stroke-width="1.1" fill="none"/><path d="M183.13 151.32L184.90 152.40L186.67 151.32M184.90 152.40L184.90 154.56" stroke="#e67a7a" stroke-width="1.1" fill="none"/><path d="M103.13 159.02L104.90 160.10L106.67 159.02M104.90 160.10L104.90 162.26" stroke="#e67a7a" stroke-width="1.1" fill="none"/><path d="M111.58 159.02L113.35 160.10L115.12 159.02M113.35 160.10L113.35 162.26" stroke="#e67a7a" stroke-width="1.1" fill="none"/><path d="M120.03 159.02L121.80 160.10L123.57 159.02M121.80 160.10L121.80 162.26" stroke="#e67a7a" stroke-width="1.1" fill="none"/><path d="M128.48 159.02L130.25 160.10L132.02 159.02M130.25 160.10L130.25 162.26" stroke="#e67a7a" stroke-width="1.1" fill="none"/><path d="M136.93 159.02L138.70 160.10L140.47 159.02M138.70 160.10L138.70 162.26" stroke="#e67a7a" stroke-width="1.1" fill="none"/><path d="M145.38 159.02L147.15 160.10L148.92 159.02M147.15 160.10L147.15 162.26" stroke="#e67a7a" stroke-width="1.1" fill="none"/><path d="M153.83 159.02L155.60 160.10L157.37 159.02M155.60 160.10L155.60 162.26" stroke="#e67a7a" stroke-width="1.1" fill="none"/><path d="M162.28 159.02L164.05 160.10L165.82 159.02M164.05 160.10L164.05 162.26" stroke="#e67a7a" stroke-width="1.1" fill="none"/><path d="M170.73 159.02L172.50 160.10L174.27 159.02M172.50 160.10L172.50 162.26" stroke="#e67a7a" stroke-width="1.1" fill="none"/><path d="M179.18 159.02L180.95 160.10L182.72 159.02M180.95 160.10L180.95 162.26" stroke="#e67a7a" stroke-width="1.1" fill="none"/><path d="M107.08 166.72L108.85 167.80L110.62 166.72M108.85 167.80L108.85 169.96" stroke="#e67a7a" stroke-width="1.1" fill="none"/><path d="M115.53 166.72L117.30 167.80L119.07 166.72M117.30 167.80L117.30 169.96" stroke="#e67a7a" stroke-width="1.1" fill="none"/><path d="M123.98 166.72L125.75 167.80L127.52 166.72M125.75 167.80L125.75 169.96" stroke="#e67a7a" stroke-width="1.1" fill="none"/><path d="M132.43 166.72L134.20 167.80L135.97 166.72M134.20 167.80L134.20 169.96" stroke="#e67a7a" stroke-width="1.1" fill="none"/><path d="M140.88 166.72L142.65 167.80L144.42 166.72M142.65 167.80L142.65 169.96" stroke="#e67a7a" stroke-width="1.1" fill="none"/><path d="M149.33 166.72L151.10 167.80L152.87 166.72M151.10 167.80L151.10 169.96" stroke="#e67a7a" stroke-width="1.1" fill="none"/><path d="M157.78 166.72L159.55 167.80L161.32 166.72M159.55 167.80L159.55 169.96" stroke="#e67a7a" stroke-width="1.1" fill="none"/><path d="M166.23 166.72L168.00 167.80L169.77 166.72M168.00 167.80L168.00 169.96" stroke="#e67a7a" stroke-width="1.1" fill="none"/><path d="M174.68 166.72L176.45 167.80L178.22 166.72M176.45 167.80L176.45 169.96" stroke="#e67a7a" stroke-width="1.1" fill="none"/><path d="M183.13 166.72L184.90 167.80L186.67 166.72M184.90 167.80L184.90 169.96" stroke="#e67a7a" stroke-width="1.1" fill="none"/><path d="M103.13 174.42L104.90 175.50L106.67 174.42M104.90 175.50L104.90 177.66" stroke="#e67a7a" stroke-width="1.1" fill="none"/><path d="M111.58 174.42L113.35 175.50L115.12 174.42M113.35 175.50L113.35 177.66" stroke="#e67a7a" stroke-width="1.1" fill="none"/><path d="M120.03 174.42L121.80 175.50L123.57 174.42M121.80 175.50L121.80 177.66" stroke="#e67a7a" stroke-width="1.1" fill="none"/><path d="M128.48 174.42L130.25 175.50L132.02 174.42M130.25 175.50L130.25 177.66" stroke="#e67a7a" stroke-width="1.1" fill="none"/><path d="M136.93 174.42L138.70 175.50L140.47 174.42M138.70 175.50L138.70 177.66" stroke="#e67a7a" stroke-width="1.1" fill="none"/><path d="M145.38 174.42L147.15 175.50L148.92 174.42M147.15 175.50L147.15 177.66" stroke="#e67a7a" stroke-width="1.1" fill="none"/><path d="M153.83 174.42L155.60 175.50L157.37 174.42M155.60 175.50L155.60 177.66" stroke="#e67a7a" stroke-width="1.1" fill="none"/><path d="M162.28 174.42L164.05 175.50L165.82 174.42M164.05 175.50L164.05 177.66" stroke="#e67a7a" stroke-width="1.1" fill="none"/><path d="M170.73 174.42L172.50 175.50L174.27 174.42M172.50 175.50L172.50 177.66" stroke="#e67a7a" stroke-width="1.1" fill="none"/><path d="M179.18 174.42L180.95 175.50L182.72 174.42M180.95 175.50L180.95 177.66" stroke="#e67a7a" stroke-width="1.1" fill="none"/><path d="M107.08 182.12L108.85 183.20L110.62 182.12M108.85 183.20L108.85 185.36" stroke="#e67a7a" stroke-width="1.1" fill="none"/><path d="M115.53 182.12L117.30 183.20L119.07 182.12M117.30 183.20L117.30 185.36" stroke="#e67a7a" stroke-width="1.1" fill="none"/><path d="M123.98 182.12L125.75 183.20L127.52 182.12M125.75 183.20L125.75 185.36" stroke="#e67a7a" stroke-width="1.1" fill="none"/><path d="M132.43 182.12L134.20 183.20L135.97 182.12M134.20 183.20L134.20 185.36" stroke="#e67a7a" stroke-width="1.1" fill="none"/><path d="M140.88 182.12L142.65 183.20L144.42 182.12M142.65 183.20L142.65 185.36" stroke="#e67a7a" stroke-width="1.1" fill="none"/><path d="M149.33 182.12L151.10 183.20L152.87 182.12M151.10 183.20L151.10 185.36" stroke="#e67a7a" stroke-width="1.1" fill="none"/><path d="M157.78 182.12L159.55 183.20L161.32 182.12M159.55 183.20L159.55 185.36" stroke="#e67a7a" stroke-width="1.1" fill="none"/><path d="M166.23 182.12L168.00 183.20L169.77 182.12M168.00 183.20L168.00 185.36" stroke="#e67a7a" stroke-width="1.1" fill="none"/><path d="M174.68 182.12L176.45 183.20L178.22 182.12M176.45 183.20L176.45 185.36" stroke="#e67a7a" stroke-width="1.1" fill="none"/><path d="M183.13 182.12L184.90 183.20L186.67 182.12M184.90 183.20L184.90 185.36" stroke="#e67a7a" stroke-width="1.1" fill="none"/><path d="M103.13 189.82L104.90 190.90L106.67 189.82M104.90 190.90L104.90 193.06" stroke="#e67a7a" stroke-width="1.1" fill="none"/><path d="M111.58 189.82L113.35 190.90L115.12 189.82M113.35 190.90L113.35 193.06" stroke="#e67a7a" stroke-width="1.1" fill="none"/><path d="M120.03 189.82L121.80 190.90L123.57 189.82M121.80 190.90L121.80 193.06" stroke="#e67a7a" stroke-width="1.1" fill="none"/><path d="M128.48 189.82L130.25 190.90L132.02 189.82M130.25 190.90L130.25 193.06" stroke="#e67a7a" stroke-width="1.1" fill="none"/><path d="M136.93 189.82L138.70 190.90L140.47 189.82M138.70 190.90L138.70 193.06" stroke="#e67a7a" stroke-width="1.1" fill="none"/><path d="M145.38 189.82L147.15 190.90L148.92 189.82M147.15 190.90L147.15 193.06" stroke="#e67a7a" stroke-width="1.1" fill="none"/><path d="M153.83 189.82L155.60 190.90L157.37 189.82M155.60 190.90L155.60 193.06" stroke="#e67a7a" stroke-width="1.1" fill="none"/><path d="M162.28 189.82L164.05 190.90L165.82 189.82M164.05 190.90L164.05 193.06" stroke="#e67a7a" stroke-width="1.1" fill="none"/><path d="M170.73 189.82L172.50 190.90L174.27 189.82M172.50 190.90L172.50 193.06" stroke="#e67a7a" stroke-width="1.1" fill="none"/><path d="M179.18 189.82L180.95 190.90L182.72 189.82M180.95 190.90L180.95 193.06" stroke="#e67a7a" stroke-width="1.1" fill="none"/><path d="M107.08 197.52L108.85 198.60L110.62 197.52M108.85 198.60L108.85 200.76" stroke="#e88a80" stroke-width="1.1" fill="none"/><path d="M115.53 197.52L117.30 198.60L119.07 197.52M117.30 198.60L117.30 200.76" stroke="#e88a80" stroke-width="1.1" fill="none"/><path d="M123.98 197.52L125.75 198.60L127.52 197.52M125.75 198.60L125.75 200.76" stroke="#e88a80" stroke-width="1.1" fill="none"/><path d="M132.43 197.52L134.20 198.60L135.97 197.52M134.20 198.60L134.20 200.76" stroke="#e88a80" stroke-width="1.1" fill="none"/><path d="M140.88 197.52L142.65 198.60L144.42 197.52M142.65 198.60L142.65 200.76" stroke="#e88a80" stroke-width="1.1" fill="none"/><path d="M149.33 197.52L151.10 198.60L152.87 197.52M151.10 198.60L151.10 200.76" stroke="#e88a80" stroke-width="1.1" fill="none"/><path d="M157.78 197.52L159.55 198.60L161.32 197.52M159.55 198.60L159.55 200.76" stroke="#e88a80" stroke-width="1.1" fill="none"/><path d="M166.23 197.52L168.00 198.60L169.77 197.52M168.00 198.60L168.00 200.76" stroke="#e88a80" stroke-width="1.1" fill="none"/><path d="M174.68 197.52L176.45 198.60L178.22 197.52M176.45 198.60L176.45 200.76" stroke="#e88a80" stroke-width="1.1" fill="none"/><path d="M183.13 197.52L184.90 198.60L186.67 197.52M184.90 198.60L184.90 200.76" stroke="#e88a80" stroke-width="1.1" fill="none"/></g><rect x="113.1" y="103.9" width="64.9" height="150.4" fill="none" stroke="#a0a0a0" stroke-width="1"/>
<clipPath id="cr"><rect x="295.0" y="102.7" width="63.60000000000002" height="149.8"/></clipPath><g clip-path="url(#cr)" stroke-linecap="round"><path d="M286.40 98.20L282.18 95.63M286.40 98.20L290.63 95.63M286.40 98.20L286.40 103.33M294.85 98.20L290.62 95.63M294.85 98.20L299.08 95.63M294.85 98.20L294.85 103.33M303.30 98.20L299.07 95.63M303.30 98.20L307.53 95.63M303.30 98.20L303.30 103.33M311.75 98.20L307.52 95.63M311.75 98.20L315.98 95.63M311.75 98.20L311.75 103.33M320.20 98.20L315.97 95.63M320.20 98.20L324.43 95.63M320.20 98.20L320.20 103.33M328.65 98.20L324.43 95.63M328.65 98.20L332.88 95.63M328.65 98.20L328.65 103.33M337.10 98.20L332.88 95.63M337.10 98.20L341.33 95.63M337.10 98.20L337.10 103.33M345.55 98.20L341.32 95.63M345.55 98.20L349.78 95.63M345.55 98.20L345.55 103.33M354.00 98.20L349.77 95.63M354.00 98.20L358.23 95.63M354.00 98.20L354.00 103.33M362.45 98.20L358.22 95.63M362.45 98.20L366.68 95.63M362.45 98.20L362.45 103.33M290.55 105.90L286.32 103.33M290.55 105.90L294.78 103.33M290.55 105.90L290.55 111.03M299.00 105.90L294.77 103.33M299.00 105.90L303.23 103.33M299.00 105.90L299.00 111.03M307.45 105.90L303.22 103.33M307.45 105.90L311.68 103.33M307.45 105.90L307.45 111.03M315.90 105.90L311.67 103.33M315.90 105.90L320.12 103.33M315.90 105.90L315.90 111.03M324.35 105.90L320.12 103.33M324.35 105.90L328.58 103.33M324.35 105.90L324.35 111.03M332.80 105.90L328.57 103.33M332.80 105.90L337.03 103.33M332.80 105.90L332.80 111.03M341.25 105.90L337.02 103.33M341.25 105.90L345.48 103.33M341.25 105.90L341.25 111.03M349.70 105.90L345.47 103.33M349.70 105.90L353.93 103.33M349.70 105.90L349.70 111.03M358.15 105.90L353.92 103.33M358.15 105.90L362.38 103.33M358.15 105.90L358.15 111.03M366.60 105.90L362.38 103.33M366.60 105.90L370.83 103.33M366.60 105.90L366.60 111.03M286.40 113.60L282.18 111.03M286.40 113.60L290.63 111.03M286.40 113.60L286.40 118.73M294.85 113.60L290.62 111.03M294.85 113.60L299.08 111.03M294.85 113.60L294.85 118.73M303.30 113.60L299.07 111.03M303.30 113.60L307.53 111.03M303.30 113.60L303.30 118.73M311.75 113.60L307.52 111.03M311.75 113.60L315.98 111.03M311.75 113.60L311.75 118.73M320.20 113.60L315.97 111.03M320.20 113.60L324.43 111.03M320.20 113.60L320.20 118.73M328.65 113.60L324.43 111.03M328.65 113.60L332.88 111.03M328.65 113.60L328.65 118.73M337.10 113.60L332.88 111.03M337.10 113.60L341.33 111.03M337.10 113.60L337.10 118.73M345.55 113.60L341.32 111.03M345.55 113.60L349.78 111.03M345.55 113.60L345.55 118.73M354.00 113.60L349.77 111.03M354.00 113.60L358.23 111.03M354.00 113.60L354.00 118.73M362.45 113.60L358.22 111.03M362.45 113.60L366.68 111.03M362.45 113.60L362.45 118.73M290.55 121.30L286.32 118.73M290.55 121.30L294.78 118.73M290.55 121.30L290.55 126.43M299.00 121.30L294.77 118.73M299.00 121.30L303.23 118.73M299.00 121.30L299.00 126.43M307.45 121.30L303.22 118.73M307.45 121.30L311.68 118.73M307.45 121.30L307.45 126.43M315.90 121.30L311.67 118.73M315.90 121.30L320.12 118.73M315.90 121.30L315.90 126.43M324.35 121.30L320.12 118.73M324.35 121.30L328.58 118.73M324.35 121.30L324.35 126.43M332.80 121.30L328.57 118.73M332.80 121.30L337.03 118.73M332.80 121.30L332.80 126.43M341.25 121.30L337.02 118.73M341.25 121.30L345.48 118.73M341.25 121.30L341.25 126.43M349.70 121.30L345.47 118.73M349.70 121.30L353.93 118.73M349.70 121.30L349.70 126.43M358.15 121.30L353.92 118.73M358.15 121.30L362.38 118.73M358.15 121.30L358.15 126.43M366.60 121.30L362.38 118.73M366.60 121.30L370.83 118.73M366.60 121.30L366.60 126.43M286.40 129.00L282.18 126.43M286.40 129.00L290.63 126.43M286.40 129.00L286.40 134.13M294.85 129.00L290.62 126.43M294.85 129.00L299.08 126.43M294.85 129.00L294.85 134.13M303.30 129.00L299.07 126.43M303.30 129.00L307.53 126.43M303.30 129.00L303.30 134.13M311.75 129.00L307.52 126.43M311.75 129.00L315.98 126.43M311.75 129.00L311.75 134.13M320.20 129.00L315.97 126.43M320.20 129.00L324.43 126.43M320.20 129.00L320.20 134.13M328.65 129.00L324.43 126.43M328.65 129.00L332.88 126.43M328.65 129.00L328.65 134.13M337.10 129.00L332.88 126.43M337.10 129.00L341.33 126.43M337.10 129.00L337.10 134.13M345.55 129.00L341.32 126.43M345.55 129.00L349.78 126.43M345.55 129.00L345.55 134.13M354.00 129.00L349.77 126.43M354.00 129.00L358.23 126.43M354.00 129.00L354.00 134.13M362.45 129.00L358.22 126.43M362.45 129.00L366.68 126.43M362.45 129.00L362.45 134.13M290.55 136.70L286.32 134.13M290.55 136.70L294.78 134.13M290.55 136.70L290.55 141.83M299.00 136.70L294.77 134.13M299.00 136.70L303.23 134.13M299.00 136.70L299.00 141.83M307.45 136.70L303.22 134.13M307.45 136.70L311.68 134.13M307.45 136.70L307.45 141.83M315.90 136.70L311.67 134.13M315.90 136.70L320.12 134.13M315.90 136.70L315.90 141.83M324.35 136.70L320.12 134.13M324.35 136.70L328.58 134.13M324.35 136.70L324.35 141.83M332.80 136.70L328.57 134.13M332.80 136.70L337.03 134.13M332.80 136.70L332.80 141.83M341.25 136.70L337.02 134.13M341.25 136.70L345.48 134.13M341.25 136.70L341.25 141.83M349.70 136.70L345.47 134.13M349.70 136.70L353.93 134.13M349.70 136.70L349.70 141.83M358.15 136.70L353.92 134.13M358.15 136.70L362.38 134.13M358.15 136.70L358.15 141.83M366.60 136.70L362.38 134.13M366.60 136.70L370.83 134.13M366.60 136.70L366.60 141.83M286.40 144.40L282.18 141.83M286.40 144.40L290.63 141.83M286.40 144.40L286.40 149.53M294.85 144.40L290.62 141.83M294.85 144.40L299.08 141.83M294.85 144.40L294.85 149.53M303.30 144.40L299.07 141.83M303.30 144.40L307.53 141.83M303.30 144.40L303.30 149.53M311.75 144.40L307.52 141.83M311.75 144.40L315.98 141.83M311.75 144.40L311.75 149.53M320.20 144.40L315.97 141.83M320.20 144.40L324.43 141.83M320.20 144.40L320.20 149.53M328.65 144.40L324.43 141.83M328.65 144.40L332.88 141.83M328.65 144.40L328.65 149.53M337.10 144.40L332.88 141.83M337.10 144.40L341.33 141.83M337.10 144.40L337.10 149.53M345.55 144.40L341.32 141.83M345.55 144.40L349.78 141.83M345.55 144.40L345.55 149.53M354.00 144.40L349.77 141.83M354.00 144.40L358.23 141.83M354.00 144.40L354.00 149.53M362.45 144.40L358.22 141.83M362.45 144.40L366.68 141.83M362.45 144.40L362.45 149.53M290.55 152.10L286.32 149.53M290.55 152.10L294.78 149.53M290.55 152.10L290.55 157.23M299.00 152.10L294.77 149.53M299.00 152.10L303.23 149.53M299.00 152.10L299.00 157.23M307.45 152.10L303.22 149.53M307.45 152.10L311.68 149.53M307.45 152.10L307.45 157.23M315.90 152.10L311.67 149.53M315.90 152.10L320.12 149.53M315.90 152.10L315.90 157.23M324.35 152.10L320.12 149.53M324.35 152.10L328.58 149.53M324.35 152.10L324.35 157.23M332.80 152.10L328.57 149.53M332.80 152.10L337.03 149.53M332.80 152.10L332.80 157.23M341.25 152.10L337.02 149.53M341.25 152.10L345.48 149.53M341.25 152.10L341.25 157.23M349.70 152.10L345.47 149.53M349.70 152.10L353.93 149.53M349.70 152.10L349.70 157.23M358.15 152.10L353.92 149.53M358.15 152.10L362.38 149.53M358.15 152.10L358.15 157.23M366.60 152.10L362.38 149.53M366.60 152.10L370.83 149.53M366.60 152.10L366.60 157.23M286.40 159.80L282.18 157.23M286.40 159.80L290.63 157.23M286.40 159.80L286.40 164.93M294.85 159.80L290.62 157.23M294.85 159.80L299.08 157.23M294.85 159.80L294.85 164.93M303.30 159.80L299.07 157.23M303.30 159.80L307.53 157.23M303.30 159.80L303.30 164.93M311.75 159.80L307.52 157.23M311.75 159.80L315.98 157.23M311.75 159.80L311.75 164.93M320.20 159.80L315.97 157.23M320.20 159.80L324.43 157.23M320.20 159.80L320.20 164.93M328.65 159.80L324.43 157.23M328.65 159.80L332.88 157.23M328.65 159.80L328.65 164.93M337.10 159.80L332.88 157.23M337.10 159.80L341.33 157.23M337.10 159.80L337.10 164.93M345.55 159.80L341.32 157.23M345.55 159.80L349.78 157.23M345.55 159.80L345.55 164.93M354.00 159.80L349.77 157.23M354.00 159.80L358.23 157.23M354.00 159.80L354.00 164.93M362.45 159.80L358.22 157.23M362.45 159.80L366.68 157.23M362.45 159.80L362.45 164.93M290.55 167.50L286.32 164.93M290.55 167.50L294.78 164.93M290.55 167.50L290.55 172.63M299.00 167.50L294.77 164.93M299.00 167.50L303.23 164.93M299.00 167.50L299.00 172.63M307.45 167.50L303.22 164.93M307.45 167.50L311.68 164.93M307.45 167.50L307.45 172.63M315.90 167.50L311.67 164.93M315.90 167.50L320.12 164.93M315.90 167.50L315.90 172.63M324.35 167.50L320.12 164.93M324.35 167.50L328.58 164.93M324.35 167.50L324.35 172.63M332.80 167.50L328.57 164.93M332.80 167.50L337.03 164.93M332.80 167.50L332.80 172.63M341.25 167.50L337.02 164.93M341.25 167.50L345.48 164.93M341.25 167.50L341.25 172.63M349.70 167.50L345.47 164.93M349.70 167.50L353.93 164.93M349.70 167.50L349.70 172.63M358.15 167.50L353.92 164.93M358.15 167.50L362.38 164.93M358.15 167.50L358.15 172.63M366.60 167.50L362.38 164.93M366.60 167.50L370.83 164.93M366.60 167.50L366.60 172.63M286.40 175.20L282.18 172.63M286.40 175.20L290.63 172.63M286.40 175.20L286.40 180.33M294.85 175.20L290.62 172.63M294.85 175.20L299.08 172.63M294.85 175.20L294.85 180.33M303.30 175.20L299.07 172.63M303.30 175.20L307.53 172.63M303.30 175.20L303.30 180.33M311.75 175.20L307.52 172.63M311.75 175.20L315.98 172.63M311.75 175.20L311.75 180.33M320.20 175.20L315.97 172.63M320.20 175.20L324.43 172.63M320.20 175.20L320.20 180.33M328.65 175.20L324.43 172.63M328.65 175.20L332.88 172.63M328.65 175.20L328.65 180.33M337.10 175.20L332.88 172.63M337.10 175.20L341.33 172.63M337.10 175.20L337.10 180.33M345.55 175.20L341.32 172.63M345.55 175.20L349.78 172.63M345.55 175.20L345.55 180.33M354.00 175.20L349.77 172.63M354.00 175.20L358.23 172.63M354.00 175.20L354.00 180.33M362.45 175.20L358.22 172.63M362.45 175.20L366.68 172.63M362.45 175.20L362.45 180.33M290.55 182.90L286.32 180.33M290.55 182.90L294.78 180.33M290.55 182.90L290.55 188.03M299.00 182.90L294.77 180.33M299.00 182.90L303.23 180.33M299.00 182.90L299.00 188.03M307.45 182.90L303.22 180.33M307.45 182.90L311.68 180.33M307.45 182.90L307.45 188.03M315.90 182.90L311.67 180.33M315.90 182.90L320.12 180.33M315.90 182.90L315.90 188.03M324.35 182.90L320.12 180.33M324.35 182.90L328.58 180.33M324.35 182.90L324.35 188.03M332.80 182.90L328.57 180.33M332.80 182.90L337.03 180.33M332.80 182.90L332.80 188.03M341.25 182.90L337.02 180.33M341.25 182.90L345.48 180.33M341.25 182.90L341.25 188.03M349.70 182.90L345.47 180.33M349.70 182.90L353.93 180.33M349.70 182.90L349.70 188.03M358.15 182.90L353.92 180.33M358.15 182.90L362.38 180.33M358.15 182.90L358.15 188.03M366.60 182.90L362.38 180.33M366.60 182.90L370.83 180.33M366.60 182.90L366.60 188.03M286.40 190.60L282.18 188.03M286.40 190.60L290.63 188.03M286.40 190.60L286.40 195.73M294.85 190.60L290.62 188.03M294.85 190.60L299.08 188.03M294.85 190.60L294.85 195.73M303.30 190.60L299.07 188.03M303.30 190.60L307.53 188.03M303.30 190.60L303.30 195.73M311.75 190.60L307.52 188.03M311.75 190.60L315.98 188.03M311.75 190.60L311.75 195.73M320.20 190.60L315.97 188.03M320.20 190.60L324.43 188.03M320.20 190.60L320.20 195.73M328.65 190.60L324.43 188.03M328.65 190.60L332.88 188.03M328.65 190.60L328.65 195.73M337.10 190.60L332.88 188.03M337.10 190.60L341.33 188.03M337.10 190.60L337.10 195.73M345.55 190.60L341.32 188.03M345.55 190.60L349.78 188.03M345.55 190.60L345.55 195.73M354.00 190.60L349.77 188.03M354.00 190.60L358.23 188.03M354.00 190.60L354.00 195.73M362.45 190.60L358.22 188.03M362.45 190.60L366.68 188.03M362.45 190.60L362.45 195.73M290.55 198.30L286.32 195.73M290.55 198.30L294.78 195.73M290.55 198.30L290.55 203.43M299.00 198.30L294.77 195.73M299.00 198.30L303.23 195.73M299.00 198.30L299.00 203.43M307.45 198.30L303.22 195.73M307.45 198.30L311.68 195.73M307.45 198.30L307.45 203.43M315.90 198.30L311.67 195.73M315.90 198.30L320.12 195.73M315.90 198.30L315.90 203.43M324.35 198.30L320.12 195.73M324.35 198.30L328.58 195.73M324.35 198.30L324.35 203.43M332.80 198.30L328.57 195.73M332.80 198.30L337.03 195.73M332.80 198.30L332.80 203.43M341.25 198.30L337.02 195.73M341.25 198.30L345.48 195.73M341.25 198.30L341.25 203.43M349.70 198.30L345.47 195.73M349.70 198.30L353.93 195.73M349.70 198.30L349.70 203.43M358.15 198.30L353.92 195.73M358.15 198.30L362.38 195.73M358.15 198.30L358.15 203.43M366.60 198.30L362.38 195.73M366.60 198.30L370.83 195.73M366.60 198.30L366.60 203.43M286.40 206.00L282.18 203.43M286.40 206.00L290.63 203.43M286.40 206.00L286.40 211.13M294.85 206.00L290.62 203.43M294.85 206.00L299.08 203.43M294.85 206.00L294.85 211.13M303.30 206.00L299.07 203.43M303.30 206.00L307.53 203.43M303.30 206.00L303.30 211.13M311.75 206.00L307.52 203.43M311.75 206.00L315.98 203.43M311.75 206.00L311.75 211.13M320.20 206.00L315.97 203.43M320.20 206.00L324.43 203.43M320.20 206.00L320.20 211.13M328.65 206.00L324.43 203.43M328.65 206.00L332.88 203.43M328.65 206.00L328.65 211.13M337.10 206.00L332.88 203.43M337.10 206.00L341.33 203.43M337.10 206.00L337.10 211.13M345.55 206.00L341.32 203.43M345.55 206.00L349.78 203.43M345.55 206.00L345.55 211.13M354.00 206.00L349.77 203.43M354.00 206.00L358.23 203.43M354.00 206.00L354.00 211.13M362.45 206.00L358.22 203.43M362.45 206.00L366.68 203.43M362.45 206.00L362.45 211.13M290.55 213.70L286.32 211.13M290.55 213.70L294.78 211.13M290.55 213.70L290.55 218.83M299.00 213.70L294.77 211.13M299.00 213.70L303.23 211.13M299.00 213.70L299.00 218.83M307.45 213.70L303.22 211.13M307.45 213.70L311.68 211.13M307.45 213.70L307.45 218.83M315.90 213.70L311.67 211.13M315.90 213.70L320.12 211.13M315.90 213.70L315.90 218.83M324.35 213.70L320.12 211.13M324.35 213.70L328.58 211.13M324.35 213.70L324.35 218.83M332.80 213.70L328.57 211.13M332.80 213.70L337.03 211.13M332.80 213.70L332.80 218.83M341.25 213.70L337.02 211.13M341.25 213.70L345.48 211.13M341.25 213.70L341.25 218.83M349.70 213.70L345.47 211.13M349.70 213.70L353.93 211.13M349.70 213.70L349.70 218.83M358.15 213.70L353.92 211.13M358.15 213.70L362.38 211.13M358.15 213.70L358.15 218.83M366.60 213.70L362.38 211.13M366.60 213.70L370.83 211.13M366.60 213.70L366.60 218.83M286.40 221.40L282.18 218.83M286.40 221.40L290.63 218.83M286.40 221.40L286.40 226.53M294.85 221.40L290.62 218.83M294.85 221.40L299.08 218.83M294.85 221.40L294.85 226.53M303.30 221.40L299.07 218.83M303.30 221.40L307.53 218.83M303.30 221.40L303.30 226.53M311.75 221.40L307.52 218.83M311.75 221.40L315.98 218.83M311.75 221.40L311.75 226.53M320.20 221.40L315.97 218.83M320.20 221.40L324.43 218.83M320.20 221.40L320.20 226.53M328.65 221.40L324.43 218.83M328.65 221.40L332.88 218.83M328.65 221.40L328.65 226.53M337.10 221.40L332.88 218.83M337.10 221.40L341.33 218.83M337.10 221.40L337.10 226.53M345.55 221.40L341.32 218.83M345.55 221.40L349.78 218.83M345.55 221.40L345.55 226.53M354.00 221.40L349.77 218.83M354.00 221.40L358.23 218.83M354.00 221.40L354.00 226.53M362.45 221.40L358.22 218.83M362.45 221.40L366.68 218.83M362.45 221.40L362.45 226.53M290.55 229.10L286.32 226.53M290.55 229.10L294.78 226.53M290.55 229.10L290.55 234.23M299.00 229.10L294.77 226.53M299.00 229.10L303.23 226.53M299.00 229.10L299.00 234.23M307.45 229.10L303.22 226.53M307.45 229.10L311.68 226.53M307.45 229.10L307.45 234.23M315.90 229.10L311.67 226.53M315.90 229.10L320.12 226.53M315.90 229.10L315.90 234.23M324.35 229.10L320.12 226.53M324.35 229.10L328.58 226.53M324.35 229.10L324.35 234.23M332.80 229.10L328.57 226.53M332.80 229.10L337.03 226.53M332.80 229.10L332.80 234.23M341.25 229.10L337.02 226.53M341.25 229.10L345.48 226.53M341.25 229.10L341.25 234.23M349.70 229.10L345.47 226.53M349.70 229.10L353.93 226.53M349.70 229.10L349.70 234.23M358.15 229.10L353.92 226.53M358.15 229.10L362.38 226.53M358.15 229.10L358.15 234.23M366.60 229.10L362.38 226.53M366.60 229.10L370.83 226.53M366.60 229.10L366.60 234.23M286.40 236.80L282.18 234.23M286.40 236.80L290.63 234.23M286.40 236.80L286.40 241.93M294.85 236.80L290.62 234.23M294.85 236.80L299.08 234.23M294.85 236.80L294.85 241.93M303.30 236.80L299.07 234.23M303.30 236.80L307.53 234.23M303.30 236.80L303.30 241.93M311.75 236.80L307.52 234.23M311.75 236.80L315.98 234.23M311.75 236.80L311.75 241.93M320.20 236.80L315.97 234.23M320.20 236.80L324.43 234.23M320.20 236.80L320.20 241.93M328.65 236.80L324.43 234.23M328.65 236.80L332.88 234.23M328.65 236.80L328.65 241.93M337.10 236.80L332.88 234.23M337.10 236.80L341.33 234.23M337.10 236.80L337.10 241.93M345.55 236.80L341.32 234.23M345.55 236.80L349.78 234.23M345.55 236.80L345.55 241.93M354.00 236.80L349.77 234.23M354.00 236.80L358.23 234.23M354.00 236.80L354.00 241.93M362.45 236.80L358.22 234.23M362.45 236.80L366.68 234.23M362.45 236.80L362.45 241.93M290.55 244.50L286.32 241.93M290.55 244.50L294.78 241.93M290.55 244.50L290.55 249.63M299.00 244.50L294.77 241.93M299.00 244.50L303.23 241.93M299.00 244.50L299.00 249.63M307.45 244.50L303.22 241.93M307.45 244.50L311.68 241.93M307.45 244.50L307.45 249.63M315.90 244.50L311.67 241.93M315.90 244.50L320.12 241.93M315.90 244.50L315.90 249.63M324.35 244.50L320.12 241.93M324.35 244.50L328.58 241.93M324.35 244.50L324.35 249.63M332.80 244.50L328.57 241.93M332.80 244.50L337.03 241.93M332.80 244.50L332.80 249.63M341.25 244.50L337.02 241.93M341.25 244.50L345.48 241.93M341.25 244.50L341.25 249.63M349.70 244.50L345.47 241.93M349.70 244.50L353.93 241.93M349.70 244.50L349.70 249.63M358.15 244.50L353.92 241.93M358.15 244.50L362.38 241.93M358.15 244.50L358.15 249.63M366.60 244.50L362.38 241.93M366.60 244.50L370.83 241.93M366.60 244.50L366.60 249.63M286.40 252.20L282.18 249.63M286.40 252.20L290.63 249.63M286.40 252.20L286.40 257.33M294.85 252.20L290.62 249.63M294.85 252.20L299.08 249.63M294.85 252.20L294.85 257.33M303.30 252.20L299.07 249.63M303.30 252.20L307.53 249.63M303.30 252.20L303.30 257.33M311.75 252.20L307.52 249.63M311.75 252.20L315.98 249.63M311.75 252.20L311.75 257.33M320.20 252.20L315.97 249.63M320.20 252.20L324.43 249.63M320.20 252.20L320.20 257.33M328.65 252.20L324.43 249.63M328.65 252.20L332.88 249.63M328.65 252.20L328.65 257.33M337.10 252.20L332.88 249.63M337.10 252.20L341.33 249.63M337.10 252.20L337.10 257.33M345.55 252.20L341.32 249.63M345.55 252.20L349.78 249.63M345.55 252.20L345.55 257.33M354.00 252.20L349.77 249.63M354.00 252.20L358.23 249.63M354.00 252.20L354.00 257.33M362.45 252.20L358.22 249.63M362.45 252.20L366.68 249.63M362.45 252.20L362.45 257.33M290.55 259.90L286.32 257.33M290.55 259.90L294.78 257.33M290.55 259.90L290.55 265.03M299.00 259.90L294.77 257.33M299.00 259.90L303.23 257.33M299.00 259.90L299.00 265.03M307.45 259.90L303.22 257.33M307.45 259.90L311.68 257.33M307.45 259.90L307.45 265.03M315.90 259.90L311.67 257.33M315.90 259.90L320.12 257.33M315.90 259.90L315.90 265.03M324.35 259.90L320.12 257.33M324.35 259.90L328.58 257.33M324.35 259.90L324.35 265.03M332.80 259.90L328.57 257.33M332.80 259.90L337.03 257.33M332.80 259.90L332.80 265.03M341.25 259.90L337.02 257.33M341.25 259.90L345.48 257.33M341.25 259.90L341.25 265.03M349.70 259.90L345.47 257.33M349.70 259.90L353.93 257.33M349.70 259.90L349.70 265.03M358.15 259.90L353.92 257.33M358.15 259.90L362.38 257.33M358.15 259.90L358.15 265.03M366.60 259.90L362.38 257.33M366.60 259.90L370.83 257.33M366.60 259.90L366.60 265.03M286.40 267.60L282.18 265.03M286.40 267.60L290.63 265.03M286.40 267.60L286.40 272.73M294.85 267.60L290.62 265.03M294.85 267.60L299.08 265.03M294.85 267.60L294.85 272.73M303.30 267.60L299.07 265.03M303.30 267.60L307.53 265.03M303.30 267.60L303.30 272.73M311.75 267.60L307.52 265.03M311.75 267.60L315.98 265.03M311.75 267.60L311.75 272.73M320.20 267.60L315.97 265.03M320.20 267.60L324.43 265.03M320.20 267.60L320.20 272.73M328.65 267.60L324.43 265.03M328.65 267.60L332.88 265.03M328.65 267.60L328.65 272.73M337.10 267.60L332.88 265.03M337.10 267.60L341.33 265.03M337.10 267.60L337.10 272.73M345.55 267.60L341.32 265.03M345.55 267.60L349.78 265.03M345.55 267.60L345.55 272.73M354.00 267.60L349.77 265.03M354.00 267.60L358.23 265.03M354.00 267.60L354.00 272.73M362.45 267.60L358.22 265.03M362.45 267.60L366.68 265.03M362.45 267.60L362.45 272.73" stroke="#a2a2a2" stroke-width="0.8" fill="none"/><path d="M288.55 151.10L290.55 152.70L292.55 151.10" stroke="#dcd640" stroke-width="1.9" fill="none" stroke-linecap="round" stroke-linejoin="round"/><path d="M289.45 151.80L290.55 152.70L291.65 151.80" stroke="#d47a2c" stroke-width="1.1" fill="none"/><circle cx="290.55" cy="154.50" r="0.85" fill="#f09a9a"/><path d="M297.00 151.10L299.00 152.70L301.00 151.10" stroke="#dcd640" stroke-width="1.9" fill="none" stroke-linecap="round" stroke-linejoin="round"/><path d="M297.90 151.80L299.00 152.70L300.10 151.80" stroke="#d47a2c" stroke-width="1.1" fill="none"/><circle cx="299.00" cy="154.50" r="0.85" fill="#f09a9a"/><path d="M305.45 151.10L307.45 152.70L309.45 151.10" stroke="#dcd640" stroke-width="1.9" fill="none" stroke-linecap="round" stroke-linejoin="round"/><path d="M306.35 151.80L307.45 152.70L308.55 151.80" stroke="#d47a2c" stroke-width="1.1" fill="none"/><circle cx="307.45" cy="154.50" r="0.85" fill="#f09a9a"/><path d="M313.90 151.10L315.90 152.70L317.90 151.10" stroke="#dcd640" stroke-width="1.9" fill="none" stroke-linecap="round" stroke-linejoin="round"/><path d="M314.80 151.80L315.90 152.70L317.00 151.80" stroke="#d47a2c" stroke-width="1.1" fill="none"/><circle cx="315.90" cy="154.50" r="0.85" fill="#f09a9a"/><path d="M322.35 151.10L324.35 152.70L326.35 151.10" stroke="#dcd640" stroke-width="1.9" fill="none" stroke-linecap="round" stroke-linejoin="round"/><path d="M323.25 151.80L324.35 152.70L325.45 151.80" stroke="#d47a2c" stroke-width="1.1" fill="none"/><circle cx="324.35" cy="154.50" r="0.85" fill="#f09a9a"/><path d="M330.80 151.10L332.80 152.70L334.80 151.10" stroke="#dcd640" stroke-width="1.9" fill="none" stroke-linecap="round" stroke-linejoin="round"/><path d="M331.70 151.80L332.80 152.70L333.90 151.80" stroke="#d47a2c" stroke-width="1.1" fill="none"/><circle cx="332.80" cy="154.50" r="0.85" fill="#f09a9a"/><path d="M339.25 151.10L341.25 152.70L343.25 151.10" stroke="#dcd640" stroke-width="1.9" fill="none" stroke-linecap="round" stroke-linejoin="round"/><path d="M340.15 151.80L341.25 152.70L342.35 151.80" stroke="#d47a2c" stroke-width="1.1" fill="none"/><circle cx="341.25" cy="154.50" r="0.85" fill="#f09a9a"/><path d="M347.70 151.10L349.70 152.70L351.70 151.10" stroke="#dcd640" stroke-width="1.9" fill="none" stroke-linecap="round" stroke-linejoin="round"/><path d="M348.60 151.80L349.70 152.70L350.80 151.80" stroke="#d47a2c" stroke-width="1.1" fill="none"/><circle cx="349.70" cy="154.50" r="0.85" fill="#f09a9a"/><path d="M356.15 151.10L358.15 152.70L360.15 151.10" stroke="#dcd640" stroke-width="1.9" fill="none" stroke-linecap="round" stroke-linejoin="round"/><path d="M357.05 151.80L358.15 152.70L359.25 151.80" stroke="#d47a2c" stroke-width="1.1" fill="none"/><circle cx="358.15" cy="154.50" r="0.85" fill="#f09a9a"/><path d="M364.60 151.10L366.60 152.70L368.60 151.10" stroke="#dcd640" stroke-width="1.9" fill="none" stroke-linecap="round" stroke-linejoin="round"/><path d="M365.50 151.80L366.60 152.70L367.70 151.80" stroke="#d47a2c" stroke-width="1.1" fill="none"/><circle cx="366.60" cy="154.50" r="0.85" fill="#f09a9a"/><path d="M284.40 158.80L286.40 160.40L288.40 158.80" stroke="#dcd640" stroke-width="1.9" fill="none" stroke-linecap="round" stroke-linejoin="round"/><path d="M285.30 159.50L286.40 160.40L287.50 159.50" stroke="#d47a2c" stroke-width="1.1" fill="none"/><circle cx="286.40" cy="162.20" r="0.85" fill="#f09a9a"/><path d="M292.85 158.80L294.85 160.40L296.85 158.80" stroke="#dcd640" stroke-width="1.9" fill="none" stroke-linecap="round" stroke-linejoin="round"/><path d="M293.75 159.50L294.85 160.40L295.95 159.50" stroke="#d47a2c" stroke-width="1.1" fill="none"/><circle cx="294.85" cy="162.20" r="0.85" fill="#f09a9a"/><path d="M301.30 158.80L303.30 160.40L305.30 158.80" stroke="#dcd640" stroke-width="1.9" fill="none" stroke-linecap="round" stroke-linejoin="round"/><path d="M302.20 159.50L303.30 160.40L304.40 159.50" stroke="#d47a2c" stroke-width="1.1" fill="none"/><circle cx="303.30" cy="162.20" r="0.85" fill="#f09a9a"/><path d="M309.75 158.80L311.75 160.40L313.75 158.80" stroke="#dcd640" stroke-width="1.9" fill="none" stroke-linecap="round" stroke-linejoin="round"/><path d="M310.65 159.50L311.75 160.40L312.85 159.50" stroke="#d47a2c" stroke-width="1.1" fill="none"/><circle cx="311.75" cy="162.20" r="0.85" fill="#f09a9a"/><path d="M318.20 158.80L320.20 160.40L322.20 158.80" stroke="#dcd640" stroke-width="1.9" fill="none" stroke-linecap="round" stroke-linejoin="round"/><path d="M319.10 159.50L320.20 160.40L321.30 159.50" stroke="#d47a2c" stroke-width="1.1" fill="none"/><circle cx="320.20" cy="162.20" r="0.85" fill="#f09a9a"/><path d="M326.65 158.80L328.65 160.40L330.65 158.80" stroke="#dcd640" stroke-width="1.9" fill="none" stroke-linecap="round" stroke-linejoin="round"/><path d="M327.55 159.50L328.65 160.40L329.75 159.50" stroke="#d47a2c" stroke-width="1.1" fill="none"/><circle cx="328.65" cy="162.20" r="0.85" fill="#f09a9a"/><path d="M335.10 158.80L337.10 160.40L339.10 158.80" stroke="#dcd640" stroke-width="1.9" fill="none" stroke-linecap="round" stroke-linejoin="round"/><path d="M336.00 159.50L337.10 160.40L338.20 159.50" stroke="#d47a2c" stroke-width="1.1" fill="none"/><circle cx="337.10" cy="162.20" r="0.85" fill="#f09a9a"/><path d="M343.55 158.80L345.55 160.40L347.55 158.80" stroke="#dcd640" stroke-width="1.9" fill="none" stroke-linecap="round" stroke-linejoin="round"/><path d="M344.45 159.50L345.55 160.40L346.65 159.50" stroke="#d47a2c" stroke-width="1.1" fill="none"/><circle cx="345.55" cy="162.20" r="0.85" fill="#f09a9a"/><path d="M352.00 158.80L354.00 160.40L356.00 158.80" stroke="#dcd640" stroke-width="1.9" fill="none" stroke-linecap="round" stroke-linejoin="round"/><path d="M352.90 159.50L354.00 160.40L355.10 159.50" stroke="#d47a2c" stroke-width="1.1" fill="none"/><circle cx="354.00" cy="162.20" r="0.85" fill="#f09a9a"/><path d="M360.45 158.80L362.45 160.40L364.45 158.80" stroke="#dcd640" stroke-width="1.9" fill="none" stroke-linecap="round" stroke-linejoin="round"/><path d="M361.35 159.50L362.45 160.40L363.55 159.50" stroke="#d47a2c" stroke-width="1.1" fill="none"/><circle cx="362.45" cy="162.20" r="0.85" fill="#f09a9a"/><path d="M288.55 166.50L290.55 168.10L292.55 166.50" stroke="#dcd640" stroke-width="1.9" fill="none" stroke-linecap="round" stroke-linejoin="round"/><path d="M289.45 167.20L290.55 168.10L291.65 167.20" stroke="#d47a2c" stroke-width="1.1" fill="none"/><circle cx="290.55" cy="169.90" r="0.85" fill="#f09a9a"/><path d="M297.00 166.50L299.00 168.10L301.00 166.50" stroke="#dcd640" stroke-width="1.9" fill="none" stroke-linecap="round" stroke-linejoin="round"/><path d="M297.90 167.20L299.00 168.10L300.10 167.20" stroke="#d47a2c" stroke-width="1.1" fill="none"/><circle cx="299.00" cy="169.90" r="0.85" fill="#f09a9a"/><path d="M305.45 166.50L307.45 168.10L309.45 166.50" stroke="#dcd640" stroke-width="1.9" fill="none" stroke-linecap="round" stroke-linejoin="round"/><path d="M306.35 167.20L307.45 168.10L308.55 167.20" stroke="#d47a2c" stroke-width="1.1" fill="none"/><circle cx="307.45" cy="169.90" r="0.85" fill="#f09a9a"/><path d="M313.90 166.50L315.90 168.10L317.90 166.50" stroke="#dcd640" stroke-width="1.9" fill="none" stroke-linecap="round" stroke-linejoin="round"/><path d="M314.80 167.20L315.90 168.10L317.00 167.20" stroke="#d47a2c" stroke-width="1.1" fill="none"/><circle cx="315.90" cy="169.90" r="0.85" fill="#f09a9a"/><path d="M322.35 166.50L324.35 168.10L326.35 166.50" stroke="#dcd640" stroke-width="1.9" fill="none" stroke-linecap="round" stroke-linejoin="round"/><path d="M323.25 167.20L324.35 168.10L325.45 167.20" stroke="#d47a2c" stroke-width="1.1" fill="none"/><circle cx="324.35" cy="169.90" r="0.85" fill="#f09a9a"/><path d="M330.80 166.50L332.80 168.10L334.80 166.50" stroke="#dcd640" stroke-width="1.9" fill="none" stroke-linecap="round" stroke-linejoin="round"/><path d="M331.70 167.20L332.80 168.10L333.90 167.20" stroke="#d47a2c" stroke-width="1.1" fill="none"/><circle cx="332.80" cy="169.90" r="0.85" fill="#f09a9a"/><path d="M339.25 166.50L341.25 168.10L343.25 166.50" stroke="#dcd640" stroke-width="1.9" fill="none" stroke-linecap="round" stroke-linejoin="round"/><path d="M340.15 167.20L341.25 168.10L342.35 167.20" stroke="#d47a2c" stroke-width="1.1" fill="none"/><circle cx="341.25" cy="169.90" r="0.85" fill="#f09a9a"/><path d="M347.70 166.50L349.70 168.10L351.70 166.50" stroke="#dcd640" stroke-width="1.9" fill="none" stroke-linecap="round" stroke-linejoin="round"/><path d="M348.60 167.20L349.70 168.10L350.80 167.20" stroke="#d47a2c" stroke-width="1.1" fill="none"/><circle cx="349.70" cy="169.90" r="0.85" fill="#f09a9a"/><path d="M356.15 166.50L358.15 168.10L360.15 166.50" stroke="#dcd640" stroke-width="1.9" fill="none" stroke-linecap="round" stroke-linejoin="round"/><path d="M357.05 167.20L358.15 168.10L359.25 167.20" stroke="#d47a2c" stroke-width="1.1" fill="none"/><circle cx="358.15" cy="169.90" r="0.85" fill="#f09a9a"/><path d="M364.60 166.50L366.60 168.10L368.60 166.50" stroke="#dcd640" stroke-width="1.9" fill="none" stroke-linecap="round" stroke-linejoin="round"/><path d="M365.50 167.20L366.60 168.10L367.70 167.20" stroke="#d47a2c" stroke-width="1.1" fill="none"/><circle cx="366.60" cy="169.90" r="0.85" fill="#f09a9a"/><path d="M284.40 174.20L286.40 175.80L288.40 174.20" stroke="#dcd640" stroke-width="1.9" fill="none" stroke-linecap="round" stroke-linejoin="round"/><path d="M285.30 174.90L286.40 175.80L287.50 174.90" stroke="#d47a2c" stroke-width="1.1" fill="none"/><circle cx="286.40" cy="177.60" r="0.85" fill="#f09a9a"/><path d="M292.85 174.20L294.85 175.80L296.85 174.20" stroke="#dcd640" stroke-width="1.9" fill="none" stroke-linecap="round" stroke-linejoin="round"/><path d="M293.75 174.90L294.85 175.80L295.95 174.90" stroke="#d47a2c" stroke-width="1.1" fill="none"/><circle cx="294.85" cy="177.60" r="0.85" fill="#f09a9a"/><path d="M301.30 174.20L303.30 175.80L305.30 174.20" stroke="#dcd640" stroke-width="1.9" fill="none" stroke-linecap="round" stroke-linejoin="round"/><path d="M302.20 174.90L303.30 175.80L304.40 174.90" stroke="#d47a2c" stroke-width="1.1" fill="none"/><circle cx="303.30" cy="177.60" r="0.85" fill="#f09a9a"/><path d="M309.75 174.20L311.75 175.80L313.75 174.20" stroke="#dcd640" stroke-width="1.9" fill="none" stroke-linecap="round" stroke-linejoin="round"/><path d="M310.65 174.90L311.75 175.80L312.85 174.90" stroke="#d47a2c" stroke-width="1.1" fill="none"/><circle cx="311.75" cy="177.60" r="0.85" fill="#f09a9a"/><path d="M318.20 174.20L320.20 175.80L322.20 174.20" stroke="#dcd640" stroke-width="1.9" fill="none" stroke-linecap="round" stroke-linejoin="round"/><path d="M319.10 174.90L320.20 175.80L321.30 174.90" stroke="#d47a2c" stroke-width="1.1" fill="none"/><circle cx="320.20" cy="177.60" r="0.85" fill="#f09a9a"/><path d="M326.65 174.20L328.65 175.80L330.65 174.20" stroke="#dcd640" stroke-width="1.9" fill="none" stroke-linecap="round" stroke-linejoin="round"/><path d="M327.55 174.90L328.65 175.80L329.75 174.90" stroke="#d47a2c" stroke-width="1.1" fill="none"/><circle cx="328.65" cy="177.60" r="0.85" fill="#f09a9a"/><path d="M335.10 174.20L337.10 175.80L339.10 174.20" stroke="#dcd640" stroke-width="1.9" fill="none" stroke-linecap="round" stroke-linejoin="round"/><path d="M336.00 174.90L337.10 175.80L338.20 174.90" stroke="#d47a2c" stroke-width="1.1" fill="none"/><circle cx="337.10" cy="177.60" r="0.85" fill="#f09a9a"/><path d="M343.55 174.20L345.55 175.80L347.55 174.20" stroke="#dcd640" stroke-width="1.9" fill="none" stroke-linecap="round" stroke-linejoin="round"/><path d="M344.45 174.90L345.55 175.80L346.65 174.90" stroke="#d47a2c" stroke-width="1.1" fill="none"/><circle cx="345.55" cy="177.60" r="0.85" fill="#f09a9a"/><path d="M352.00 174.20L354.00 175.80L356.00 174.20" stroke="#dcd640" stroke-width="1.9" fill="none" stroke-linecap="round" stroke-linejoin="round"/><path d="M352.90 174.90L354.00 175.80L355.10 174.90" stroke="#d47a2c" stroke-width="1.1" fill="none"/><circle cx="354.00" cy="177.60" r="0.85" fill="#f09a9a"/><path d="M360.45 174.20L362.45 175.80L364.45 174.20" stroke="#dcd640" stroke-width="1.9" fill="none" stroke-linecap="round" stroke-linejoin="round"/><path d="M361.35 174.90L362.45 175.80L363.55 174.90" stroke="#d47a2c" stroke-width="1.1" fill="none"/><circle cx="362.45" cy="177.60" r="0.85" fill="#f09a9a"/><path d="M288.55 181.90L290.55 183.50L292.55 181.90" stroke="#dcd640" stroke-width="1.9" fill="none" stroke-linecap="round" stroke-linejoin="round"/><path d="M289.45 182.60L290.55 183.50L291.65 182.60" stroke="#d47a2c" stroke-width="1.1" fill="none"/><circle cx="290.55" cy="185.30" r="0.85" fill="#f09a9a"/><path d="M297.00 181.90L299.00 183.50L301.00 181.90" stroke="#dcd640" stroke-width="1.9" fill="none" stroke-linecap="round" stroke-linejoin="round"/><path d="M297.90 182.60L299.00 183.50L300.10 182.60" stroke="#d47a2c" stroke-width="1.1" fill="none"/><circle cx="299.00" cy="185.30" r="0.85" fill="#f09a9a"/><path d="M305.45 181.90L307.45 183.50L309.45 181.90" stroke="#dcd640" stroke-width="1.9" fill="none" stroke-linecap="round" stroke-linejoin="round"/><path d="M306.35 182.60L307.45 183.50L308.55 182.60" stroke="#d47a2c" stroke-width="1.1" fill="none"/><circle cx="307.45" cy="185.30" r="0.85" fill="#f09a9a"/><path d="M313.90 181.90L315.90 183.50L317.90 181.90" stroke="#dcd640" stroke-width="1.9" fill="none" stroke-linecap="round" stroke-linejoin="round"/><path d="M314.80 182.60L315.90 183.50L317.00 182.60" stroke="#d47a2c" stroke-width="1.1" fill="none"/><circle cx="315.90" cy="185.30" r="0.85" fill="#f09a9a"/><path d="M322.35 181.90L324.35 183.50L326.35 181.90" stroke="#dcd640" stroke-width="1.9" fill="none" stroke-linecap="round" stroke-linejoin="round"/><path d="M323.25 182.60L324.35 183.50L325.45 182.60" stroke="#d47a2c" stroke-width="1.1" fill="none"/><circle cx="324.35" cy="185.30" r="0.85" fill="#f09a9a"/><path d="M330.80 181.90L332.80 183.50L334.80 181.90" stroke="#dcd640" stroke-width="1.9" fill="none" stroke-linecap="round" stroke-linejoin="round"/><path d="M331.70 182.60L332.80 183.50L333.90 182.60" stroke="#d47a2c" stroke-width="1.1" fill="none"/><circle cx="332.80" cy="185.30" r="0.85" fill="#f09a9a"/><path d="M339.25 181.90L341.25 183.50L343.25 181.90" stroke="#dcd640" stroke-width="1.9" fill="none" stroke-linecap="round" stroke-linejoin="round"/><path d="M340.15 182.60L341.25 183.50L342.35 182.60" stroke="#d47a2c" stroke-width="1.1" fill="none"/><circle cx="341.25" cy="185.30" r="0.85" fill="#f09a9a"/><path d="M347.70 181.90L349.70 183.50L351.70 181.90" stroke="#dcd640" stroke-width="1.9" fill="none" stroke-linecap="round" stroke-linejoin="round"/><path d="M348.60 182.60L349.70 183.50L350.80 182.60" stroke="#d47a2c" stroke-width="1.1" fill="none"/><circle cx="349.70" cy="185.30" r="0.85" fill="#f09a9a"/><path d="M356.15 181.90L358.15 183.50L360.15 181.90" stroke="#dcd640" stroke-width="1.9" fill="none" stroke-linecap="round" stroke-linejoin="round"/><path d="M357.05 182.60L358.15 183.50L359.25 182.60" stroke="#d47a2c" stroke-width="1.1" fill="none"/><circle cx="358.15" cy="185.30" r="0.85" fill="#f09a9a"/><path d="M364.60 181.90L366.60 183.50L368.60 181.90" stroke="#dcd640" stroke-width="1.9" fill="none" stroke-linecap="round" stroke-linejoin="round"/><path d="M365.50 182.60L366.60 183.50L367.70 182.60" stroke="#d47a2c" stroke-width="1.1" fill="none"/><circle cx="366.60" cy="185.30" r="0.85" fill="#f09a9a"/><path d="M284.80 189.80L286.40 191.10L288.00 189.80" stroke="#d8b448" stroke-width="1.4" fill="none"/><path d="M293.25 189.80L294.85 191.10L296.45 189.80" stroke="#d8b448" stroke-width="1.4" fill="none"/><path d="M301.70 189.80L303.30 191.10L304.90 189.80" stroke="#d8b448" stroke-width="1.4" fill="none"/><path d="M310.15 189.80L311.75 191.10L313.35 189.80" stroke="#d8b448" stroke-width="1.4" fill="none"/><path d="M318.60 189.80L320.20 191.10L321.80 189.80" stroke="#d8b448" stroke-width="1.4" fill="none"/><path d="M327.05 189.80L328.65 191.10L330.25 189.80" stroke="#d8b448" stroke-width="1.4" fill="none"/><path d="M335.50 189.80L337.10 191.10L338.70 189.80" stroke="#d8b448" stroke-width="1.4" fill="none"/><path d="M343.95 189.80L345.55 191.10L347.15 189.80" stroke="#d8b448" stroke-width="1.4" fill="none"/><path d="M352.40 189.80L354.00 191.10L355.60 189.80" stroke="#d8b448" stroke-width="1.4" fill="none"/><path d="M360.85 189.80L362.45 191.10L364.05 189.80" stroke="#d8b448" stroke-width="1.4" fill="none"/><path d="M284.63 97.12L286.40 98.20L288.17 97.12M286.40 98.20L286.40 100.36" stroke="#8484e8" stroke-width="1.1" fill="none"/><path d="M293.08 97.12L294.85 98.20L296.62 97.12M294.85 98.20L294.85 100.36" stroke="#8484e8" stroke-width="1.1" fill="none"/><path d="M301.53 97.12L303.30 98.20L305.07 97.12M303.30 98.20L303.30 100.36" stroke="#8484e8" stroke-width="1.1" fill="none"/><path d="M309.98 97.12L311.75 98.20L313.52 97.12M311.75 98.20L311.75 100.36" stroke="#8484e8" stroke-width="1.1" fill="none"/><path d="M318.43 97.12L320.20 98.20L321.97 97.12M320.20 98.20L320.20 100.36" stroke="#8484e8" stroke-width="1.1" fill="none"/><path d="M326.88 97.12L328.65 98.20L330.42 97.12M328.65 98.20L328.65 100.36" stroke="#8484e8" stroke-width="1.1" fill="none"/><path d="M335.33 97.12L337.10 98.20L338.87 97.12M337.10 98.20L337.10 100.36" stroke="#8484e8" stroke-width="1.1" fill="none"/><path d="M343.78 97.12L345.55 98.20L347.32 97.12M345.55 98.20L345.55 100.36" stroke="#8484e8" stroke-width="1.1" fill="none"/><path d="M352.23 97.12L354.00 98.20L355.77 97.12M354.00 98.20L354.00 100.36" stroke="#8484e8" stroke-width="1.1" fill="none"/><path d="M360.68 97.12L362.45 98.20L364.22 97.12M362.45 98.20L362.45 100.36" stroke="#8484e8" stroke-width="1.1" fill="none"/><path d="M288.78 104.82L290.55 105.90L292.32 104.82M290.55 105.90L290.55 108.06" stroke="#8484e8" stroke-width="1.1" fill="none"/><path d="M297.23 104.82L299.00 105.90L300.77 104.82M299.00 105.90L299.00 108.06" stroke="#8484e8" stroke-width="1.1" fill="none"/><path d="M305.68 104.82L307.45 105.90L309.22 104.82M307.45 105.90L307.45 108.06" stroke="#8484e8" stroke-width="1.1" fill="none"/><path d="M314.13 104.82L315.90 105.90L317.67 104.82M315.90 105.90L315.90 108.06" stroke="#8484e8" stroke-width="1.1" fill="none"/><path d="M322.58 104.82L324.35 105.90L326.12 104.82M324.35 105.90L324.35 108.06" stroke="#8484e8" stroke-width="1.1" fill="none"/><path d="M331.03 104.82L332.80 105.90L334.57 104.82M332.80 105.90L332.80 108.06" stroke="#8484e8" stroke-width="1.1" fill="none"/><path d="M339.48 104.82L341.25 105.90L343.02 104.82M341.25 105.90L341.25 108.06" stroke="#8484e8" stroke-width="1.1" fill="none"/><path d="M347.93 104.82L349.70 105.90L351.47 104.82M349.70 105.90L349.70 108.06" stroke="#8484e8" stroke-width="1.1" fill="none"/><path d="M356.38 104.82L358.15 105.90L359.92 104.82M358.15 105.90L358.15 108.06" stroke="#8484e8" stroke-width="1.1" fill="none"/><path d="M364.83 104.82L366.60 105.90L368.37 104.82M366.60 105.90L366.60 108.06" stroke="#8484e8" stroke-width="1.1" fill="none"/><path d="M284.63 112.52L286.40 113.60L288.17 112.52M286.40 113.60L286.40 115.76" stroke="#8484e8" stroke-width="1.1" fill="none"/><path d="M293.08 112.52L294.85 113.60L296.62 112.52M294.85 113.60L294.85 115.76" stroke="#8484e8" stroke-width="1.1" fill="none"/><path d="M301.53 112.52L303.30 113.60L305.07 112.52M303.30 113.60L303.30 115.76" stroke="#8484e8" stroke-width="1.1" fill="none"/><path d="M309.98 112.52L311.75 113.60L313.52 112.52M311.75 113.60L311.75 115.76" stroke="#8484e8" stroke-width="1.1" fill="none"/><path d="M318.43 112.52L320.20 113.60L321.97 112.52M320.20 113.60L320.20 115.76" stroke="#8484e8" stroke-width="1.1" fill="none"/><path d="M326.88 112.52L328.65 113.60L330.42 112.52M328.65 113.60L328.65 115.76" stroke="#8484e8" stroke-width="1.1" fill="none"/><path d="M335.33 112.52L337.10 113.60L338.87 112.52M337.10 113.60L337.10 115.76" stroke="#8484e8" stroke-width="1.1" fill="none"/><path d="M343.78 112.52L345.55 113.60L347.32 112.52M345.55 113.60L345.55 115.76" stroke="#8484e8" stroke-width="1.1" fill="none"/><path d="M352.23 112.52L354.00 113.60L355.77 112.52M354.00 113.60L354.00 115.76" stroke="#8484e8" stroke-width="1.1" fill="none"/><path d="M360.68 112.52L362.45 113.60L364.22 112.52M362.45 113.60L362.45 115.76" stroke="#8484e8" stroke-width="1.1" fill="none"/><path d="M288.78 120.22L290.55 121.30L292.32 120.22M290.55 121.30L290.55 123.46" stroke="#8484e8" stroke-width="1.1" fill="none"/><path d="M297.23 120.22L299.00 121.30L300.77 120.22M299.00 121.30L299.00 123.46" stroke="#8484e8" stroke-width="1.1" fill="none"/><path d="M305.68 120.22L307.45 121.30L309.22 120.22M307.45 121.30L307.45 123.46" stroke="#8484e8" stroke-width="1.1" fill="none"/><path d="M314.13 120.22L315.90 121.30L317.67 120.22M315.90 121.30L315.90 123.46" stroke="#8484e8" stroke-width="1.1" fill="none"/><path d="M322.58 120.22L324.35 121.30L326.12 120.22M324.35 121.30L324.35 123.46" stroke="#8484e8" stroke-width="1.1" fill="none"/><path d="M331.03 120.22L332.80 121.30L334.57 120.22M332.80 121.30L332.80 123.46" stroke="#8484e8" stroke-width="1.1" fill="none"/><path d="M339.48 120.22L341.25 121.30L343.02 120.22M341.25 121.30L341.25 123.46" stroke="#8484e8" stroke-width="1.1" fill="none"/><path d="M347.93 120.22L349.70 121.30L351.47 120.22M349.70 121.30L349.70 123.46" stroke="#8484e8" stroke-width="1.1" fill="none"/><path d="M356.38 120.22L358.15 121.30L359.92 120.22M358.15 121.30L358.15 123.46" stroke="#8484e8" stroke-width="1.1" fill="none"/><path d="M364.83 120.22L366.60 121.30L368.37 120.22M366.60 121.30L366.60 123.46" stroke="#8484e8" stroke-width="1.1" fill="none"/><path d="M284.63 127.92L286.40 129.00L288.17 127.92M286.40 129.00L286.40 131.16" stroke="#8484e8" stroke-width="1.1" fill="none"/><path d="M293.08 127.92L294.85 129.00L296.62 127.92M294.85 129.00L294.85 131.16" stroke="#8484e8" stroke-width="1.1" fill="none"/><path d="M301.53 127.92L303.30 129.00L305.07 127.92M303.30 129.00L303.30 131.16" stroke="#8484e8" stroke-width="1.1" fill="none"/><path d="M309.98 127.92L311.75 129.00L313.52 127.92M311.75 129.00L311.75 131.16" stroke="#8484e8" stroke-width="1.1" fill="none"/><path d="M318.43 127.92L320.20 129.00L321.97 127.92M320.20 129.00L320.20 131.16" stroke="#8484e8" stroke-width="1.1" fill="none"/><path d="M326.88 127.92L328.65 129.00L330.42 127.92M328.65 129.00L328.65 131.16" stroke="#8484e8" stroke-width="1.1" fill="none"/><path d="M335.33 127.92L337.10 129.00L338.87 127.92M337.10 129.00L337.10 131.16" stroke="#8484e8" stroke-width="1.1" fill="none"/><path d="M343.78 127.92L345.55 129.00L347.32 127.92M345.55 129.00L345.55 131.16" stroke="#8484e8" stroke-width="1.1" fill="none"/><path d="M352.23 127.92L354.00 129.00L355.77 127.92M354.00 129.00L354.00 131.16" stroke="#8484e8" stroke-width="1.1" fill="none"/><path d="M360.68 127.92L362.45 129.00L364.22 127.92M362.45 129.00L362.45 131.16" stroke="#8484e8" stroke-width="1.1" fill="none"/><path d="M288.78 135.62L290.55 136.70L292.32 135.62M290.55 136.70L290.55 138.86" stroke="#8484e8" stroke-width="1.1" fill="none"/><path d="M297.23 135.62L299.00 136.70L300.77 135.62M299.00 136.70L299.00 138.86" stroke="#8484e8" stroke-width="1.1" fill="none"/><path d="M305.68 135.62L307.45 136.70L309.22 135.62M307.45 136.70L307.45 138.86" stroke="#8484e8" stroke-width="1.1" fill="none"/><path d="M314.13 135.62L315.90 136.70L317.67 135.62M315.90 136.70L315.90 138.86" stroke="#8484e8" stroke-width="1.1" fill="none"/><path d="M322.58 135.62L324.35 136.70L326.12 135.62M324.35 136.70L324.35 138.86" stroke="#8484e8" stroke-width="1.1" fill="none"/><path d="M331.03 135.62L332.80 136.70L334.57 135.62M332.80 136.70L332.80 138.86" stroke="#8484e8" stroke-width="1.1" fill="none"/><path d="M339.48 135.62L341.25 136.70L343.02 135.62M341.25 136.70L341.25 138.86" stroke="#8484e8" stroke-width="1.1" fill="none"/><path d="M347.93 135.62L349.70 136.70L351.47 135.62M349.70 136.70L349.70 138.86" stroke="#8484e8" stroke-width="1.1" fill="none"/><path d="M356.38 135.62L358.15 136.70L359.92 135.62M358.15 136.70L358.15 138.86" stroke="#8484e8" stroke-width="1.1" fill="none"/><path d="M364.83 135.62L366.60 136.70L368.37 135.62M366.60 136.70L366.60 138.86" stroke="#8484e8" stroke-width="1.1" fill="none"/><path d="M284.63 143.32L286.40 144.40L288.17 143.32M286.40 144.40L286.40 146.56" stroke="#8484e8" stroke-width="1.1" fill="none"/><path d="M293.08 143.32L294.85 144.40L296.62 143.32M294.85 144.40L294.85 146.56" stroke="#8484e8" stroke-width="1.1" fill="none"/><path d="M301.53 143.32L303.30 144.40L305.07 143.32M303.30 144.40L303.30 146.56" stroke="#8484e8" stroke-width="1.1" fill="none"/><path d="M309.98 143.32L311.75 144.40L313.52 143.32M311.75 144.40L311.75 146.56" stroke="#8484e8" stroke-width="1.1" fill="none"/><path d="M318.43 143.32L320.20 144.40L321.97 143.32M320.20 144.40L320.20 146.56" stroke="#8484e8" stroke-width="1.1" fill="none"/><path d="M326.88 143.32L328.65 144.40L330.42 143.32M328.65 144.40L328.65 146.56" stroke="#8484e8" stroke-width="1.1" fill="none"/><path d="M335.33 143.32L337.10 144.40L338.87 143.32M337.10 144.40L337.10 146.56" stroke="#8484e8" stroke-width="1.1" fill="none"/><path d="M343.78 143.32L345.55 144.40L347.32 143.32M345.55 144.40L345.55 146.56" stroke="#8484e8" stroke-width="1.1" fill="none"/><path d="M352.23 143.32L354.00 144.40L355.77 143.32M354.00 144.40L354.00 146.56" stroke="#8484e8" stroke-width="1.1" fill="none"/><path d="M360.68 143.32L362.45 144.40L364.22 143.32M362.45 144.40L362.45 146.56" stroke="#8484e8" stroke-width="1.1" fill="none"/><path d="M284.63 189.52L286.40 190.60L288.17 189.52M286.40 190.60L286.40 192.76" stroke="#e89070" stroke-width="1.1" fill="none"/><path d="M293.08 189.52L294.85 190.60L296.62 189.52M294.85 190.60L294.85 192.76" stroke="#e89070" stroke-width="1.1" fill="none"/><path d="M301.53 189.52L303.30 190.60L305.07 189.52M303.30 190.60L303.30 192.76" stroke="#e89070" stroke-width="1.1" fill="none"/><path d="M309.98 189.52L311.75 190.60L313.52 189.52M311.75 190.60L311.75 192.76" stroke="#e89070" stroke-width="1.1" fill="none"/><path d="M318.43 189.52L320.20 190.60L321.97 189.52M320.20 190.60L320.20 192.76" stroke="#e89070" stroke-width="1.1" fill="none"/><path d="M326.88 189.52L328.65 190.60L330.42 189.52M328.65 190.60L328.65 192.76" stroke="#e89070" stroke-width="1.1" fill="none"/><path d="M335.33 189.52L337.10 190.60L338.87 189.52M337.10 190.60L337.10 192.76" stroke="#e89070" stroke-width="1.1" fill="none"/><path d="M343.78 189.52L345.55 190.60L347.32 189.52M345.55 190.60L345.55 192.76" stroke="#e89070" stroke-width="1.1" fill="none"/><path d="M352.23 189.52L354.00 190.60L355.77 189.52M354.00 190.60L354.00 192.76" stroke="#e89070" stroke-width="1.1" fill="none"/><path d="M360.68 189.52L362.45 190.60L364.22 189.52M362.45 190.60L362.45 192.76" stroke="#e89070" stroke-width="1.1" fill="none"/><path d="M288.78 197.22L290.55 198.30L292.32 197.22M290.55 198.30L290.55 200.46" stroke="#e88888" stroke-width="1.1" fill="none"/><path d="M297.23 197.22L299.00 198.30L300.77 197.22M299.00 198.30L299.00 200.46" stroke="#e88888" stroke-width="1.1" fill="none"/><path d="M305.68 197.22L307.45 198.30L309.22 197.22M307.45 198.30L307.45 200.46" stroke="#e88888" stroke-width="1.1" fill="none"/><path d="M314.13 197.22L315.90 198.30L317.67 197.22M315.90 198.30L315.90 200.46" stroke="#e88888" stroke-width="1.1" fill="none"/><path d="M322.58 197.22L324.35 198.30L326.12 197.22M324.35 198.30L324.35 200.46" stroke="#e88888" stroke-width="1.1" fill="none"/><path d="M331.03 197.22L332.80 198.30L334.57 197.22M332.80 198.30L332.80 200.46" stroke="#e88888" stroke-width="1.1" fill="none"/><path d="M339.48 197.22L341.25 198.30L343.02 197.22M341.25 198.30L341.25 200.46" stroke="#e88888" stroke-width="1.1" fill="none"/><path d="M347.93 197.22L349.70 198.30L351.47 197.22M349.70 198.30L349.70 200.46" stroke="#e88888" stroke-width="1.1" fill="none"/><path d="M356.38 197.22L358.15 198.30L359.92 197.22M358.15 198.30L358.15 200.46" stroke="#e88888" stroke-width="1.1" fill="none"/><path d="M364.83 197.22L366.60 198.30L368.37 197.22M366.60 198.30L366.60 200.46" stroke="#e88888" stroke-width="1.1" fill="none"/><path d="M284.63 204.92L286.40 206.00L288.17 204.92M286.40 206.00L286.40 208.16" stroke="#8484e8" stroke-width="1.1" fill="none"/><path d="M293.08 204.92L294.85 206.00L296.62 204.92M294.85 206.00L294.85 208.16" stroke="#8484e8" stroke-width="1.1" fill="none"/><path d="M301.53 204.92L303.30 206.00L305.07 204.92M303.30 206.00L303.30 208.16" stroke="#8484e8" stroke-width="1.1" fill="none"/><path d="M309.98 204.92L311.75 206.00L313.52 204.92M311.75 206.00L311.75 208.16" stroke="#8484e8" stroke-width="1.1" fill="none"/><path d="M318.43 204.92L320.20 206.00L321.97 204.92M320.20 206.00L320.20 208.16" stroke="#8484e8" stroke-width="1.1" fill="none"/><path d="M326.88 204.92L328.65 206.00L330.42 204.92M328.65 206.00L328.65 208.16" stroke="#8484e8" stroke-width="1.1" fill="none"/><path d="M335.33 204.92L337.10 206.00L338.87 204.92M337.10 206.00L337.10 208.16" stroke="#8484e8" stroke-width="1.1" fill="none"/><path d="M343.78 204.92L345.55 206.00L347.32 204.92M345.55 206.00L345.55 208.16" stroke="#8484e8" stroke-width="1.1" fill="none"/><path d="M352.23 204.92L354.00 206.00L355.77 204.92M354.00 206.00L354.00 208.16" stroke="#8484e8" stroke-width="1.1" fill="none"/><path d="M360.68 204.92L362.45 206.00L364.22 204.92M362.45 206.00L362.45 208.16" stroke="#8484e8" stroke-width="1.1" fill="none"/><path d="M288.78 212.62L290.55 213.70L292.32 212.62M290.55 213.70L290.55 215.86" stroke="#8484e8" stroke-width="1.1" fill="none"/><path d="M297.23 212.62L299.00 213.70L300.77 212.62M299.00 213.70L299.00 215.86" stroke="#8484e8" stroke-width="1.1" fill="none"/><path d="M305.68 212.62L307.45 213.70L309.22 212.62M307.45 213.70L307.45 215.86" stroke="#8484e8" stroke-width="1.1" fill="none"/><path d="M314.13 212.62L315.90 213.70L317.67 212.62M315.90 213.70L315.90 215.86" stroke="#8484e8" stroke-width="1.1" fill="none"/><path d="M322.58 212.62L324.35 213.70L326.12 212.62M324.35 213.70L324.35 215.86" stroke="#8484e8" stroke-width="1.1" fill="none"/><path d="M331.03 212.62L332.80 213.70L334.57 212.62M332.80 213.70L332.80 215.86" stroke="#8484e8" stroke-width="1.1" fill="none"/><path d="M339.48 212.62L341.25 213.70L343.02 212.62M341.25 213.70L341.25 215.86" stroke="#8484e8" stroke-width="1.1" fill="none"/><path d="M347.93 212.62L349.70 213.70L351.47 212.62M349.70 213.70L349.70 215.86" stroke="#8484e8" stroke-width="1.1" fill="none"/><path d="M356.38 212.62L358.15 213.70L359.92 212.62M358.15 213.70L358.15 215.86" stroke="#8484e8" stroke-width="1.1" fill="none"/><path d="M364.83 212.62L366.60 213.70L368.37 212.62M366.60 213.70L366.60 215.86" stroke="#8484e8" stroke-width="1.1" fill="none"/><path d="M284.63 220.32L286.40 221.40L288.17 220.32M286.40 221.40L286.40 223.56" stroke="#8484e8" stroke-width="1.1" fill="none"/><path d="M293.08 220.32L294.85 221.40L296.62 220.32M294.85 221.40L294.85 223.56" stroke="#8484e8" stroke-width="1.1" fill="none"/><path d="M301.53 220.32L303.30 221.40L305.07 220.32M303.30 221.40L303.30 223.56" stroke="#8484e8" stroke-width="1.1" fill="none"/><path d="M309.98 220.32L311.75 221.40L313.52 220.32M311.75 221.40L311.75 223.56" stroke="#8484e8" stroke-width="1.1" fill="none"/><path d="M318.43 220.32L320.20 221.40L321.97 220.32M320.20 221.40L320.20 223.56" stroke="#8484e8" stroke-width="1.1" fill="none"/><path d="M326.88 220.32L328.65 221.40L330.42 220.32M328.65 221.40L328.65 223.56" stroke="#8484e8" stroke-width="1.1" fill="none"/><path d="M335.33 220.32L337.10 221.40L338.87 220.32M337.10 221.40L337.10 223.56" stroke="#8484e8" stroke-width="1.1" fill="none"/><path d="M343.78 220.32L345.55 221.40L347.32 220.32M345.55 221.40L345.55 223.56" stroke="#8484e8" stroke-width="1.1" fill="none"/><path d="M352.23 220.32L354.00 221.40L355.77 220.32M354.00 221.40L354.00 223.56" stroke="#8484e8" stroke-width="1.1" fill="none"/><path d="M360.68 220.32L362.45 221.40L364.22 220.32M362.45 221.40L362.45 223.56" stroke="#8484e8" stroke-width="1.1" fill="none"/><path d="M288.78 228.02L290.55 229.10L292.32 228.02M290.55 229.10L290.55 231.26" stroke="#8484e8" stroke-width="1.1" fill="none"/><path d="M297.23 228.02L299.00 229.10L300.77 228.02M299.00 229.10L299.00 231.26" stroke="#8484e8" stroke-width="1.1" fill="none"/><path d="M305.68 228.02L307.45 229.10L309.22 228.02M307.45 229.10L307.45 231.26" stroke="#8484e8" stroke-width="1.1" fill="none"/><path d="M314.13 228.02L315.90 229.10L317.67 228.02M315.90 229.10L315.90 231.26" stroke="#8484e8" stroke-width="1.1" fill="none"/><path d="M322.58 228.02L324.35 229.10L326.12 228.02M324.35 229.10L324.35 231.26" stroke="#8484e8" stroke-width="1.1" fill="none"/><path d="M331.03 228.02L332.80 229.10L334.57 228.02M332.80 229.10L332.80 231.26" stroke="#8484e8" stroke-width="1.1" fill="none"/><path d="M339.48 228.02L341.25 229.10L343.02 228.02M341.25 229.10L341.25 231.26" stroke="#8484e8" stroke-width="1.1" fill="none"/><path d="M347.93 228.02L349.70 229.10L351.47 228.02M349.70 229.10L349.70 231.26" stroke="#8484e8" stroke-width="1.1" fill="none"/><path d="M356.38 228.02L358.15 229.10L359.92 228.02M358.15 229.10L358.15 231.26" stroke="#8484e8" stroke-width="1.1" fill="none"/><path d="M364.83 228.02L366.60 229.10L368.37 228.02M366.60 229.10L366.60 231.26" stroke="#8484e8" stroke-width="1.1" fill="none"/><path d="M284.63 235.72L286.40 236.80L288.17 235.72M286.40 236.80L286.40 238.96" stroke="#8484e8" stroke-width="1.1" fill="none"/><path d="M293.08 235.72L294.85 236.80L296.62 235.72M294.85 236.80L294.85 238.96" stroke="#8484e8" stroke-width="1.1" fill="none"/><path d="M301.53 235.72L303.30 236.80L305.07 235.72M303.30 236.80L303.30 238.96" stroke="#8484e8" stroke-width="1.1" fill="none"/><path d="M309.98 235.72L311.75 236.80L313.52 235.72M311.75 236.80L311.75 238.96" stroke="#8484e8" stroke-width="1.1" fill="none"/><path d="M318.43 235.72L320.20 236.80L321.97 235.72M320.20 236.80L320.20 238.96" stroke="#8484e8" stroke-width="1.1" fill="none"/><path d="M326.88 235.72L328.65 236.80L330.42 235.72M328.65 236.80L328.65 238.96" stroke="#8484e8" stroke-width="1.1" fill="none"/><path d="M335.33 235.72L337.10 236.80L338.87 235.72M337.10 236.80L337.10 238.96" stroke="#8484e8" stroke-width="1.1" fill="none"/><path d="M343.78 235.72L345.55 236.80L347.32 235.72M345.55 236.80L345.55 238.96" stroke="#8484e8" stroke-width="1.1" fill="none"/><path d="M352.23 235.72L354.00 236.80L355.77 235.72M354.00 236.80L354.00 238.96" stroke="#8484e8" stroke-width="1.1" fill="none"/><path d="M360.68 235.72L362.45 236.80L364.22 235.72M362.45 236.80L362.45 238.96" stroke="#8484e8" stroke-width="1.1" fill="none"/><path d="M288.78 243.42L290.55 244.50L292.32 243.42M290.55 244.50L290.55 246.66" stroke="#8484e8" stroke-width="1.1" fill="none"/><path d="M297.23 243.42L299.00 244.50L300.77 243.42M299.00 244.50L299.00 246.66" stroke="#8484e8" stroke-width="1.1" fill="none"/><path d="M305.68 243.42L307.45 244.50L309.22 243.42M307.45 244.50L307.45 246.66" stroke="#8484e8" stroke-width="1.1" fill="none"/><path d="M314.13 243.42L315.90 244.50L317.67 243.42M315.90 244.50L315.90 246.66" stroke="#8484e8" stroke-width="1.1" fill="none"/><path d="M322.58 243.42L324.35 244.50L326.12 243.42M324.35 244.50L324.35 246.66" stroke="#8484e8" stroke-width="1.1" fill="none"/><path d="M331.03 243.42L332.80 244.50L334.57 243.42M332.80 244.50L332.80 246.66" stroke="#8484e8" stroke-width="1.1" fill="none"/><path d="M339.48 243.42L341.25 244.50L343.02 243.42M341.25 244.50L341.25 246.66" stroke="#8484e8" stroke-width="1.1" fill="none"/><path d="M347.93 243.42L349.70 244.50L351.47 243.42M349.70 244.50L349.70 246.66" stroke="#8484e8" stroke-width="1.1" fill="none"/><path d="M356.38 243.42L358.15 244.50L359.92 243.42M358.15 244.50L358.15 246.66" stroke="#8484e8" stroke-width="1.1" fill="none"/><path d="M364.83 243.42L366.60 244.50L368.37 243.42M366.60 244.50L366.60 246.66" stroke="#8484e8" stroke-width="1.1" fill="none"/><path d="M284.63 251.12L286.40 252.20L288.17 251.12M286.40 252.20L286.40 254.36" stroke="#8484e8" stroke-width="1.1" fill="none"/><path d="M293.08 251.12L294.85 252.20L296.62 251.12M294.85 252.20L294.85 254.36" stroke="#8484e8" stroke-width="1.1" fill="none"/><path d="M301.53 251.12L303.30 252.20L305.07 251.12M303.30 252.20L303.30 254.36" stroke="#8484e8" stroke-width="1.1" fill="none"/><path d="M309.98 251.12L311.75 252.20L313.52 251.12M311.75 252.20L311.75 254.36" stroke="#8484e8" stroke-width="1.1" fill="none"/><path d="M318.43 251.12L320.20 252.20L321.97 251.12M320.20 252.20L320.20 254.36" stroke="#8484e8" stroke-width="1.1" fill="none"/><path d="M326.88 251.12L328.65 252.20L330.42 251.12M328.65 252.20L328.65 254.36" stroke="#8484e8" stroke-width="1.1" fill="none"/><path d="M335.33 251.12L337.10 252.20L338.87 251.12M337.10 252.20L337.10 254.36" stroke="#8484e8" stroke-width="1.1" fill="none"/><path d="M343.78 251.12L345.55 252.20L347.32 251.12M345.55 252.20L345.55 254.36" stroke="#8484e8" stroke-width="1.1" fill="none"/><path d="M352.23 251.12L354.00 252.20L355.77 251.12M354.00 252.20L354.00 254.36" stroke="#8484e8" stroke-width="1.1" fill="none"/><path d="M360.68 251.12L362.45 252.20L364.22 251.12M362.45 252.20L362.45 254.36" stroke="#8484e8" stroke-width="1.1" fill="none"/><path d="M288.78 258.82L290.55 259.90L292.32 258.82M290.55 259.90L290.55 262.06" stroke="#8484e8" stroke-width="1.1" fill="none"/><path d="M297.23 258.82L299.00 259.90L300.77 258.82M299.00 259.90L299.00 262.06" stroke="#8484e8" stroke-width="1.1" fill="none"/><path d="M305.68 258.82L307.45 259.90L309.22 258.82M307.45 259.90L307.45 262.06" stroke="#8484e8" stroke-width="1.1" fill="none"/><path d="M314.13 258.82L315.90 259.90L317.67 258.82M315.90 259.90L315.90 262.06" stroke="#8484e8" stroke-width="1.1" fill="none"/><path d="M322.58 258.82L324.35 259.90L326.12 258.82M324.35 259.90L324.35 262.06" stroke="#8484e8" stroke-width="1.1" fill="none"/><path d="M331.03 258.82L332.80 259.90L334.57 258.82M332.80 259.90L332.80 262.06" stroke="#8484e8" stroke-width="1.1" fill="none"/><path d="M339.48 258.82L341.25 259.90L343.02 258.82M341.25 259.90L341.25 262.06" stroke="#8484e8" stroke-width="1.1" fill="none"/><path d="M347.93 258.82L349.70 259.90L351.47 258.82M349.70 259.90L349.70 262.06" stroke="#8484e8" stroke-width="1.1" fill="none"/><path d="M356.38 258.82L358.15 259.90L359.92 258.82M358.15 259.90L358.15 262.06" stroke="#8484e8" stroke-width="1.1" fill="none"/><path d="M364.83 258.82L366.60 259.90L368.37 258.82M366.60 259.90L366.60 262.06" stroke="#8484e8" stroke-width="1.1" fill="none"/><path d="M284.63 266.52L286.40 267.60L288.17 266.52M286.40 267.60L286.40 269.76" stroke="#8484e8" stroke-width="1.1" fill="none"/><path d="M293.08 266.52L294.85 267.60L296.62 266.52M294.85 267.60L294.85 269.76" stroke="#8484e8" stroke-width="1.1" fill="none"/><path d="M301.53 266.52L303.30 267.60L305.07 266.52M303.30 267.60L303.30 269.76" stroke="#8484e8" stroke-width="1.1" fill="none"/><path d="M309.98 266.52L311.75 267.60L313.52 266.52M311.75 267.60L311.75 269.76" stroke="#8484e8" stroke-width="1.1" fill="none"/><path d="M318.43 266.52L320.20 267.60L321.97 266.52M320.20 267.60L320.20 269.76" stroke="#8484e8" stroke-width="1.1" fill="none"/><path d="M326.88 266.52L328.65 267.60L330.42 266.52M328.65 267.60L328.65 269.76" stroke="#8484e8" stroke-width="1.1" fill="none"/><path d="M335.33 266.52L337.10 267.60L338.87 266.52M337.10 267.60L337.10 269.76" stroke="#8484e8" stroke-width="1.1" fill="none"/><path d="M343.78 266.52L345.55 267.60L347.32 266.52M345.55 267.60L345.55 269.76" stroke="#8484e8" stroke-width="1.1" fill="none"/><path d="M352.23 266.52L354.00 267.60L355.77 266.52M354.00 267.60L354.00 269.76" stroke="#8484e8" stroke-width="1.1" fill="none"/><path d="M360.68 266.52L362.45 267.60L364.22 266.52M362.45 267.60L362.45 269.76" stroke="#8484e8" stroke-width="1.1" fill="none"/></g><rect x="295.0" y="102.7" width="63.60000000000002" height="149.8" fill="none" stroke="#a0a0a0" stroke-width="1"/>
<g transform="translate(107 129.4) rotate(-90)"><text x="0" y="0" style="font-size:9.6px">MoS<tspan dy="2.2" style="font-size:6.8px">2</tspan></text></g>
<g transform="translate(107.6 187) rotate(-90)"><text x="0" y="0" style="font-size:11px">WS<tspan dy="2.4" style="font-size:7.6px">2</tspan></text></g>
<g transform="translate(107 244.2) rotate(-90)"><text x="0" y="0" style="font-size:9.6px">MoS<tspan dy="2.2" style="font-size:6.8px">2</tspan></text></g>
<rect x="211.7" y="102.06" width="71.19999999999999" height="149.01" fill="none" stroke="#909090" stroke-width="1"/><line x1="208.5" y1="102.06" x2="214.89999999999998" y2="102.06" stroke="#909090" stroke-width="0.9"/><line x1="279.7" y1="102.06" x2="286.09999999999997" y2="102.06" stroke="#909090" stroke-width="0.9"/><line x1="210.1" y1="114.48" x2="213.29999999999998" y2="114.48" stroke="#909090" stroke-width="0.9"/><line x1="281.29999999999995" y1="114.48" x2="284.5" y2="114.48" stroke="#909090" stroke-width="0.9"/><line x1="208.5" y1="126.90" x2="214.89999999999998" y2="126.90" stroke="#909090" stroke-width="0.9"/><line x1="279.7" y1="126.90" x2="286.09999999999997" y2="126.90" stroke="#909090" stroke-width="0.9"/><line x1="210.1" y1="139.31" x2="213.29999999999998" y2="139.31" stroke="#909090" stroke-width="0.9"/><line x1="281.29999999999995" y1="139.31" x2="284.5" y2="139.31" stroke="#909090" stroke-width="0.9"/><line x1="208.5" y1="151.73" x2="214.89999999999998" y2="151.73" stroke="#909090" stroke-width="0.9"/><line x1="279.7" y1="151.73" x2="286.09999999999997" y2="151.73" stroke="#909090" stroke-width="0.9"/><line x1="210.1" y1="164.15" x2="213.29999999999998" y2="164.15" stroke="#909090" stroke-width="0.9"/><line x1="281.29999999999995" y1="164.15" x2="284.5" y2="164.15" stroke="#909090" stroke-width="0.9"/><line x1="208.5" y1="176.56" x2="214.89999999999998" y2="176.56" stroke="#909090" stroke-width="0.9"/><line x1="279.7" y1="176.56" x2="286.09999999999997" y2="176.56" stroke="#909090" stroke-width="0.9"/><line x1="210.1" y1="188.98" x2="213.29999999999998" y2="188.98" stroke="#909090" stroke-width="0.9"/><line x1="281.29999999999995" y1="188.98" x2="284.5" y2="188.98" stroke="#909090" stroke-width="0.9"/><line x1="208.5" y1="201.40" x2="214.89999999999998" y2="201.40" stroke="#909090" stroke-width="0.9"/><line x1="279.7" y1="201.40" x2="286.09999999999997" y2="201.40" stroke="#909090" stroke-width="0.9"/><line x1="210.1" y1="213.82" x2="213.29999999999998" y2="213.82" stroke="#909090" stroke-width="0.9"/><line x1="281.29999999999995" y1="213.82" x2="284.5" y2="213.82" stroke="#909090" stroke-width="0.9"/><line x1="208.5" y1="226.24" x2="214.89999999999998" y2="226.24" stroke="#909090" stroke-width="0.9"/><line x1="279.7" y1="226.24" x2="286.09999999999997" y2="226.24" stroke="#909090" stroke-width="0.9"/><line x1="210.1" y1="238.65" x2="213.29999999999998" y2="238.65" stroke="#909090" stroke-width="0.9"/><line x1="281.29999999999995" y1="238.65" x2="284.5" y2="238.65" stroke="#909090" stroke-width="0.9"/><line x1="208.5" y1="251.07" x2="214.89999999999998" y2="251.07" stroke="#909090" stroke-width="0.9"/><line x1="279.7" y1="251.07" x2="286.09999999999997" y2="251.07" stroke="#909090" stroke-width="0.9"/><text x="206.2" y="104.96" text-anchor="end" class="tk">2.0</text><text x="206.2" y="129.80" text-anchor="end" class="tk">1.5</text><text x="206.2" y="154.63" text-anchor="end" class="tk">1.0</text><text x="206.2" y="179.47" text-anchor="end" class="tk">0.5</text><text x="206.2" y="204.30" text-anchor="end" class="tk">0.0</text><text x="206.2" y="229.14" text-anchor="end" class="tk">-0.5</text><text x="206.2" y="253.97" text-anchor="end" class="tk">-1.0</text>
<g transform="translate(190.8 170.2) rotate(-90)"><text x="0" y="0" text-anchor="middle" style="font-size:10px">Energy (eV)</text></g>
<text x="204" y="264.5" style="font-size:8.6px"><tspan class="serg">Γ</tspan>(0,0,0)</text>
<text x="253.8" y="264.3" style="font-size:8.6px">Y(0,0.5,0)</text>
<text x="229.2" y="152.3" style="font-size:10px">CBM</text>
<text x="230.6" y="220.5" style="font-size:10px">VBM</text>
<ellipse cx="259.7" cy="137.3" rx="9" ry="4.6" fill="none" stroke="#a0a0a0" stroke-width="0.8"/>
<ellipse cx="259.7" cy="223.8" rx="9" ry="4.8" fill="none" stroke="#a0a0a0" stroke-width="0.8"/>
<path d="M250.8 135.2L189 131.5" stroke="#a8a8a8" stroke-width="0.8"/>
<path d="M192 129.8L188 131.5L192 133.3" stroke="#a8a8a8" stroke-width="0.8" fill="none"/>
<path d="M267.5 221.5L294.2 189.1" stroke="#a8a8a8" stroke-width="0.8"/>
<path d="M259.7 140V219" stroke="#303030" stroke-width="0.8"/>
<path d="M258.2 142L259.7 139L261.2 142ZM258.2 217.5L259.7 220.5L261.2 217.5Z" fill="#202020"/>
<clipPath id="cb"><rect x="211.7" y="101.6" width="71.2" height="150"/></clipPath><g clip-path="url(#cb)"><path d="M210.85 117.60L213.75 117.60L212.30 120.15ZM214.35 118.83L217.25 118.83L215.80 121.38ZM217.85 120.06L220.75 120.06L219.30 122.61ZM221.35 121.29L224.25 121.29L222.80 123.84ZM224.85 122.52L227.75 122.52L226.30 125.07ZM228.35 123.75L231.25 123.75L229.80 126.30ZM231.85 124.99L234.75 124.99L233.30 127.54ZM235.35 126.22L238.25 126.22L236.80 128.77ZM238.85 127.45L241.75 127.45L240.30 130.00ZM242.35 128.68L245.25 128.68L243.80 131.23ZM245.85 129.91L248.75 129.91L247.30 132.46ZM249.35 131.14L252.25 131.14L250.80 133.69ZM252.85 132.37L255.75 132.37L254.30 134.92ZM256.35 133.60L259.25 133.60L257.80 136.15ZM259.85 134.03L262.75 134.03L261.30 136.58ZM263.35 132.71L266.25 132.71L264.80 135.26ZM266.85 130.10L269.75 130.10L268.30 132.65ZM270.35 126.18L273.25 126.18L271.80 128.73ZM273.85 120.97L276.75 120.97L275.30 123.52ZM277.35 114.46L280.25 114.46L278.80 117.01ZM280.85 106.65L283.75 106.65L282.30 109.20ZM210.85 114.50L213.75 114.50L212.30 117.05ZM214.35 115.73L217.25 115.73L215.80 118.28ZM217.85 116.96L220.75 116.96L219.30 119.51ZM221.35 118.19L224.25 118.19L222.80 120.74ZM224.85 119.42L227.75 119.42L226.30 121.97ZM228.35 120.65L231.25 120.65L229.80 123.20ZM231.85 121.89L234.75 121.89L233.30 124.44ZM235.35 123.12L238.25 123.12L236.80 125.67ZM238.85 124.35L241.75 124.35L240.30 126.90ZM242.35 125.58L245.25 125.58L243.80 128.13ZM245.85 126.81L248.75 126.81L247.30 129.36ZM249.35 128.04L252.25 128.04L250.80 130.59ZM252.85 129.27L255.75 129.27L254.30 131.82ZM256.35 130.50L259.25 130.50L257.80 133.05ZM259.85 130.93L262.75 130.93L261.30 133.48ZM263.35 129.61L266.25 129.61L264.80 132.16ZM266.85 127.00L269.75 127.00L268.30 129.55ZM270.35 123.08L273.25 123.08L271.80 125.63ZM273.85 117.87L276.75 117.87L275.30 120.42ZM277.35 111.36L280.25 111.36L278.80 113.91ZM280.85 103.55L283.75 103.55L282.30 106.10ZM210.85 108.30L213.75 108.30L212.30 110.85ZM214.35 109.53L217.25 109.53L215.80 112.08ZM217.85 110.76L220.75 110.76L219.30 113.31ZM221.35 111.99L224.25 111.99L222.80 114.54ZM224.85 113.22L227.75 113.22L226.30 115.77ZM228.35 114.45L231.25 114.45L229.80 117.00ZM231.85 115.69L234.75 115.69L233.30 118.24ZM235.35 116.92L238.25 116.92L236.80 119.47ZM238.85 118.15L241.75 118.15L240.30 120.70ZM242.35 119.38L245.25 119.38L243.80 121.93ZM245.85 120.61L248.75 120.61L247.30 123.16ZM249.35 121.84L252.25 121.84L250.80 124.39ZM252.85 123.07L255.75 123.07L254.30 125.62ZM256.35 124.30L259.25 124.30L257.80 126.85ZM259.85 124.73L262.75 124.73L261.30 127.28ZM263.35 123.41L266.25 123.41L264.80 125.96ZM266.85 120.80L269.75 120.80L268.30 123.35ZM270.35 116.88L273.25 116.88L271.80 119.43ZM273.85 111.67L276.75 111.67L275.30 114.22ZM277.35 105.16L280.25 105.16L278.80 107.71ZM210.85 105.20L213.75 105.20L212.30 107.75ZM214.35 106.43L217.25 106.43L215.80 108.98ZM217.85 107.66L220.75 107.66L219.30 110.21ZM221.35 108.89L224.25 108.89L222.80 111.44ZM224.85 110.12L227.75 110.12L226.30 112.67ZM228.35 111.35L231.25 111.35L229.80 113.90ZM231.85 112.59L234.75 112.59L233.30 115.14ZM235.35 113.82L238.25 113.82L236.80 116.37ZM238.85 115.05L241.75 115.05L240.30 117.60ZM242.35 116.28L245.25 116.28L243.80 118.83ZM245.85 117.51L248.75 117.51L247.30 120.06ZM249.35 118.74L252.25 118.74L250.80 121.29ZM252.85 119.97L255.75 119.97L254.30 122.52ZM256.35 121.20L259.25 121.20L257.80 123.75ZM259.85 121.63L262.75 121.63L261.30 124.18ZM263.35 120.31L266.25 120.31L264.80 122.86ZM266.85 117.70L269.75 117.70L268.30 120.25ZM270.35 113.78L273.25 113.78L271.80 116.33ZM273.85 108.57L276.75 108.57L275.30 111.12ZM277.35 102.06L280.25 102.06L278.80 104.61ZM214.35 100.23L217.25 100.23L215.80 102.78ZM217.85 101.46L220.75 101.46L219.30 104.01ZM221.35 102.69L224.25 102.69L222.80 105.24ZM224.85 103.92L227.75 103.92L226.30 106.47ZM228.35 105.15L231.25 105.15L229.80 107.70ZM231.85 106.39L234.75 106.39L233.30 108.94ZM235.35 107.62L238.25 107.62L236.80 110.17ZM238.85 108.85L241.75 108.85L240.30 111.40ZM242.35 110.08L245.25 110.08L243.80 112.63ZM245.85 111.31L248.75 111.31L247.30 113.86ZM249.35 112.54L252.25 112.54L250.80 115.09ZM252.85 113.77L255.75 113.77L254.30 116.32ZM256.35 115.00L259.25 115.00L257.80 117.55ZM259.85 115.43L262.75 115.43L261.30 117.98ZM263.35 114.11L266.25 114.11L264.80 116.66ZM266.85 111.50L269.75 111.50L268.30 114.05ZM270.35 107.58L273.25 107.58L271.80 110.13ZM273.85 102.37L276.75 102.37L275.30 104.92ZM221.35 99.59L224.25 99.59L222.80 102.14ZM224.85 100.82L227.75 100.82L226.30 103.37ZM228.35 102.05L231.25 102.05L229.80 104.60ZM231.85 103.29L234.75 103.29L233.30 105.84ZM235.35 104.52L238.25 104.52L236.80 107.07ZM238.85 105.75L241.75 105.75L240.30 108.30ZM242.35 106.98L245.25 106.98L243.80 109.53ZM245.85 108.21L248.75 108.21L247.30 110.76ZM249.35 109.44L252.25 109.44L250.80 111.99ZM252.85 110.67L255.75 110.67L254.30 113.22ZM256.35 111.90L259.25 111.90L257.80 114.45ZM259.85 112.33L262.75 112.33L261.30 114.88ZM263.35 111.01L266.25 111.01L264.80 113.56ZM266.85 108.40L269.75 108.40L268.30 110.95ZM270.35 104.48L273.25 104.48L271.80 107.03ZM238.85 99.55L241.75 99.55L240.30 102.10ZM242.35 100.78L245.25 100.78L243.80 103.33ZM245.85 102.01L248.75 102.01L247.30 104.56ZM249.35 103.24L252.25 103.24L250.80 105.79ZM252.85 104.47L255.75 104.47L254.30 107.02ZM256.35 105.70L259.25 105.70L257.80 108.25ZM259.85 106.13L262.75 106.13L261.30 108.68ZM263.35 104.81L266.25 104.81L264.80 107.36ZM266.85 102.20L269.75 102.20L268.30 104.75ZM249.35 100.14L252.25 100.14L250.80 102.69ZM252.85 101.37L255.75 101.37L254.30 103.92ZM256.35 102.60L259.25 102.60L257.80 105.15ZM259.85 103.03L262.75 103.03L261.30 105.58ZM263.35 101.71L266.25 101.71L264.80 104.26ZM210.85 106.70L213.75 106.70L212.30 109.25ZM214.35 106.70L217.25 106.70L215.80 109.25ZM217.85 106.70L220.75 106.70L219.30 109.25ZM221.35 106.70L224.25 106.70L222.80 109.25ZM224.85 106.70L227.75 106.70L226.30 109.25ZM228.35 107.60L231.25 107.60L229.80 110.15ZM231.85 109.35L234.75 109.35L233.30 111.90ZM235.35 111.10L238.25 111.10L236.80 113.65ZM238.85 112.85L241.75 112.85L240.30 115.40ZM242.35 114.60L245.25 114.60L243.80 117.15ZM210.85 233.90L213.75 233.90L212.30 236.45ZM214.35 234.11L217.25 234.11L215.80 236.66ZM217.85 234.73L220.75 234.73L219.30 237.28ZM221.35 235.77L224.25 235.77L222.80 238.32ZM224.85 237.23L227.75 237.23L226.30 239.78ZM228.35 239.11L231.25 239.11L229.80 241.66ZM231.85 241.40L234.75 241.40L233.30 243.95ZM235.35 244.10L238.25 244.10L236.80 246.65ZM238.85 247.23L241.75 247.23L240.30 249.78Z" fill="#1a1af0"/><path d="M235.60 105.58a1.2 1.2 0 1 0 2.4 0a1.2 1.2 0 1 0 -2.4 0M239.10 110.70a1.2 1.2 0 1 0 2.4 0a1.2 1.2 0 1 0 -2.4 0M242.60 114.11a1.2 1.2 0 1 0 2.4 0a1.2 1.2 0 1 0 -2.4 0M246.10 115.80a1.2 1.2 0 1 0 2.4 0a1.2 1.2 0 1 0 -2.4 0M249.60 115.77a1.2 1.2 0 1 0 2.4 0a1.2 1.2 0 1 0 -2.4 0M253.10 114.03a1.2 1.2 0 1 0 2.4 0a1.2 1.2 0 1 0 -2.4 0M256.60 110.58a1.2 1.2 0 1 0 2.4 0a1.2 1.2 0 1 0 -2.4 0M260.10 105.41a1.2 1.2 0 1 0 2.4 0a1.2 1.2 0 1 0 -2.4 0M235.60 102.58a1.2 1.2 0 1 0 2.4 0a1.2 1.2 0 1 0 -2.4 0M239.10 107.70a1.2 1.2 0 1 0 2.4 0a1.2 1.2 0 1 0 -2.4 0M242.60 111.11a1.2 1.2 0 1 0 2.4 0a1.2 1.2 0 1 0 -2.4 0M246.10 112.80a1.2 1.2 0 1 0 2.4 0a1.2 1.2 0 1 0 -2.4 0M249.60 112.77a1.2 1.2 0 1 0 2.4 0a1.2 1.2 0 1 0 -2.4 0M253.10 111.03a1.2 1.2 0 1 0 2.4 0a1.2 1.2 0 1 0 -2.4 0M256.60 107.58a1.2 1.2 0 1 0 2.4 0a1.2 1.2 0 1 0 -2.4 0M260.10 102.41a1.2 1.2 0 1 0 2.4 0a1.2 1.2 0 1 0 -2.4 0M239.10 104.70a1.2 1.2 0 1 0 2.4 0a1.2 1.2 0 1 0 -2.4 0M242.60 108.11a1.2 1.2 0 1 0 2.4 0a1.2 1.2 0 1 0 -2.4 0M246.10 109.80a1.2 1.2 0 1 0 2.4 0a1.2 1.2 0 1 0 -2.4 0M249.60 109.77a1.2 1.2 0 1 0 2.4 0a1.2 1.2 0 1 0 -2.4 0M253.10 108.03a1.2 1.2 0 1 0 2.4 0a1.2 1.2 0 1 0 -2.4 0M256.60 104.58a1.2 1.2 0 1 0 2.4 0a1.2 1.2 0 1 0 -2.4 0M239.10 101.70a1.2 1.2 0 1 0 2.4 0a1.2 1.2 0 1 0 -2.4 0M242.60 105.11a1.2 1.2 0 1 0 2.4 0a1.2 1.2 0 1 0 -2.4 0M246.10 106.80a1.2 1.2 0 1 0 2.4 0a1.2 1.2 0 1 0 -2.4 0M249.60 106.77a1.2 1.2 0 1 0 2.4 0a1.2 1.2 0 1 0 -2.4 0M253.10 105.03a1.2 1.2 0 1 0 2.4 0a1.2 1.2 0 1 0 -2.4 0M256.60 101.58a1.2 1.2 0 1 0 2.4 0a1.2 1.2 0 1 0 -2.4 0M242.60 102.11a1.2 1.2 0 1 0 2.4 0a1.2 1.2 0 1 0 -2.4 0M246.10 103.80a1.2 1.2 0 1 0 2.4 0a1.2 1.2 0 1 0 -2.4 0M249.60 103.77a1.2 1.2 0 1 0 2.4 0a1.2 1.2 0 1 0 -2.4 0M253.10 102.03a1.2 1.2 0 1 0 2.4 0a1.2 1.2 0 1 0 -2.4 0" fill="#f01010"/><path d="M221.60 106.46a1.2 1.2 0 1 0 2.4 0a1.2 1.2 0 1 0 -2.4 0M225.10 107.81a1.2 1.2 0 1 0 2.4 0a1.2 1.2 0 1 0 -2.4 0M228.60 109.26a1.2 1.2 0 1 0 2.4 0a1.2 1.2 0 1 0 -2.4 0M232.10 110.80a1.2 1.2 0 1 0 2.4 0a1.2 1.2 0 1 0 -2.4 0M235.60 112.42a1.2 1.2 0 1 0 2.4 0a1.2 1.2 0 1 0 -2.4 0M239.10 114.11a1.2 1.2 0 1 0 2.4 0a1.2 1.2 0 1 0 -2.4 0M242.60 115.87a1.2 1.2 0 1 0 2.4 0a1.2 1.2 0 1 0 -2.4 0M221.60 104.83a1.2 1.2 0 1 0 2.4 0a1.2 1.2 0 1 0 -2.4 0M225.10 106.12a1.2 1.2 0 1 0 2.4 0a1.2 1.2 0 1 0 -2.4 0M228.60 107.50a1.2 1.2 0 1 0 2.4 0a1.2 1.2 0 1 0 -2.4 0M232.10 108.98a1.2 1.2 0 1 0 2.4 0a1.2 1.2 0 1 0 -2.4 0M235.60 110.52a1.2 1.2 0 1 0 2.4 0a1.2 1.2 0 1 0 -2.4 0M256.60 111.19a1.2 1.2 0 1 0 2.4 0a1.2 1.2 0 1 0 -2.4 0M260.10 109.61a1.2 1.2 0 1 0 2.4 0a1.2 1.2 0 1 0 -2.4 0M263.60 108.04a1.2 1.2 0 1 0 2.4 0a1.2 1.2 0 1 0 -2.4 0M267.10 106.46a1.2 1.2 0 1 0 2.4 0a1.2 1.2 0 1 0 -2.4 0M270.60 104.89a1.2 1.2 0 1 0 2.4 0a1.2 1.2 0 1 0 -2.4 0M274.10 103.31a1.2 1.2 0 1 0 2.4 0a1.2 1.2 0 1 0 -2.4 0M277.60 101.74a1.2 1.2 0 1 0 2.4 0a1.2 1.2 0 1 0 -2.4 0" fill="#f01010"/><path d="M211.10 237.40a1.2 1.2 0 1 0 2.4 0a1.2 1.2 0 1 0 -2.4 0M214.60 237.61a1.2 1.2 0 1 0 2.4 0a1.2 1.2 0 1 0 -2.4 0M218.10 238.23a1.2 1.2 0 1 0 2.4 0a1.2 1.2 0 1 0 -2.4 0M221.60 239.27a1.2 1.2 0 1 0 2.4 0a1.2 1.2 0 1 0 -2.4 0M225.10 240.73a1.2 1.2 0 1 0 2.4 0a1.2 1.2 0 1 0 -2.4 0M228.60 242.61a1.2 1.2 0 1 0 2.4 0a1.2 1.2 0 1 0 -2.4 0M232.10 244.90a1.2 1.2 0 1 0 2.4 0a1.2 1.2 0 1 0 -2.4 0M235.60 247.60a1.2 1.2 0 1 0 2.4 0a1.2 1.2 0 1 0 -2.4 0M239.10 250.73a1.2 1.2 0 1 0 2.4 0a1.2 1.2 0 1 0 -2.4 0" fill="#2020e0"/><path d="M211.05 112.50a1.25 1.25 0 1 0 2.5 0a1.25 1.25 0 1 0 -2.5 0M214.55 113.73a1.25 1.25 0 1 0 2.5 0a1.25 1.25 0 1 0 -2.5 0M218.05 114.96a1.25 1.25 0 1 0 2.5 0a1.25 1.25 0 1 0 -2.5 0M221.55 116.19a1.25 1.25 0 1 0 2.5 0a1.25 1.25 0 1 0 -2.5 0M225.05 117.42a1.25 1.25 0 1 0 2.5 0a1.25 1.25 0 1 0 -2.5 0M228.55 118.65a1.25 1.25 0 1 0 2.5 0a1.25 1.25 0 1 0 -2.5 0M232.05 119.89a1.25 1.25 0 1 0 2.5 0a1.25 1.25 0 1 0 -2.5 0M235.55 121.12a1.25 1.25 0 1 0 2.5 0a1.25 1.25 0 1 0 -2.5 0M239.05 122.35a1.25 1.25 0 1 0 2.5 0a1.25 1.25 0 1 0 -2.5 0M242.55 123.58a1.25 1.25 0 1 0 2.5 0a1.25 1.25 0 1 0 -2.5 0M246.05 124.81a1.25 1.25 0 1 0 2.5 0a1.25 1.25 0 1 0 -2.5 0M249.55 126.04a1.25 1.25 0 1 0 2.5 0a1.25 1.25 0 1 0 -2.5 0M253.05 127.27a1.25 1.25 0 1 0 2.5 0a1.25 1.25 0 1 0 -2.5 0M256.55 128.50a1.25 1.25 0 1 0 2.5 0a1.25 1.25 0 1 0 -2.5 0M260.05 128.93a1.25 1.25 0 1 0 2.5 0a1.25 1.25 0 1 0 -2.5 0M263.55 127.61a1.25 1.25 0 1 0 2.5 0a1.25 1.25 0 1 0 -2.5 0M267.05 125.00a1.25 1.25 0 1 0 2.5 0a1.25 1.25 0 1 0 -2.5 0M270.55 121.08a1.25 1.25 0 1 0 2.5 0a1.25 1.25 0 1 0 -2.5 0M274.05 115.87a1.25 1.25 0 1 0 2.5 0a1.25 1.25 0 1 0 -2.5 0M277.55 109.36a1.25 1.25 0 1 0 2.5 0a1.25 1.25 0 1 0 -2.5 0M281.05 101.55a1.25 1.25 0 1 0 2.5 0a1.25 1.25 0 1 0 -2.5 0M211.05 103.20a1.25 1.25 0 1 0 2.5 0a1.25 1.25 0 1 0 -2.5 0M214.55 104.43a1.25 1.25 0 1 0 2.5 0a1.25 1.25 0 1 0 -2.5 0M218.05 105.66a1.25 1.25 0 1 0 2.5 0a1.25 1.25 0 1 0 -2.5 0M221.55 106.89a1.25 1.25 0 1 0 2.5 0a1.25 1.25 0 1 0 -2.5 0M225.05 108.12a1.25 1.25 0 1 0 2.5 0a1.25 1.25 0 1 0 -2.5 0M228.55 109.35a1.25 1.25 0 1 0 2.5 0a1.25 1.25 0 1 0 -2.5 0M232.05 110.59a1.25 1.25 0 1 0 2.5 0a1.25 1.25 0 1 0 -2.5 0M235.55 111.82a1.25 1.25 0 1 0 2.5 0a1.25 1.25 0 1 0 -2.5 0M239.05 113.05a1.25 1.25 0 1 0 2.5 0a1.25 1.25 0 1 0 -2.5 0M242.55 114.28a1.25 1.25 0 1 0 2.5 0a1.25 1.25 0 1 0 -2.5 0M246.05 115.51a1.25 1.25 0 1 0 2.5 0a1.25 1.25 0 1 0 -2.5 0M249.55 116.74a1.25 1.25 0 1 0 2.5 0a1.25 1.25 0 1 0 -2.5 0M253.05 117.97a1.25 1.25 0 1 0 2.5 0a1.25 1.25 0 1 0 -2.5 0M256.55 119.20a1.25 1.25 0 1 0 2.5 0a1.25 1.25 0 1 0 -2.5 0M260.05 119.63a1.25 1.25 0 1 0 2.5 0a1.25 1.25 0 1 0 -2.5 0M263.55 118.31a1.25 1.25 0 1 0 2.5 0a1.25 1.25 0 1 0 -2.5 0M267.05 115.70a1.25 1.25 0 1 0 2.5 0a1.25 1.25 0 1 0 -2.5 0M270.55 111.78a1.25 1.25 0 1 0 2.5 0a1.25 1.25 0 1 0 -2.5 0M274.05 106.57a1.25 1.25 0 1 0 2.5 0a1.25 1.25 0 1 0 -2.5 0M232.05 101.29a1.25 1.25 0 1 0 2.5 0a1.25 1.25 0 1 0 -2.5 0M235.55 102.52a1.25 1.25 0 1 0 2.5 0a1.25 1.25 0 1 0 -2.5 0M239.05 103.75a1.25 1.25 0 1 0 2.5 0a1.25 1.25 0 1 0 -2.5 0M242.55 104.98a1.25 1.25 0 1 0 2.5 0a1.25 1.25 0 1 0 -2.5 0M246.05 106.21a1.25 1.25 0 1 0 2.5 0a1.25 1.25 0 1 0 -2.5 0M249.55 107.44a1.25 1.25 0 1 0 2.5 0a1.25 1.25 0 1 0 -2.5 0M253.05 108.67a1.25 1.25 0 1 0 2.5 0a1.25 1.25 0 1 0 -2.5 0M256.55 109.90a1.25 1.25 0 1 0 2.5 0a1.25 1.25 0 1 0 -2.5 0M260.05 110.33a1.25 1.25 0 1 0 2.5 0a1.25 1.25 0 1 0 -2.5 0M263.55 109.01a1.25 1.25 0 1 0 2.5 0a1.25 1.25 0 1 0 -2.5 0M267.05 106.40a1.25 1.25 0 1 0 2.5 0a1.25 1.25 0 1 0 -2.5 0M270.55 102.48a1.25 1.25 0 1 0 2.5 0a1.25 1.25 0 1 0 -2.5 0M256.55 100.60a1.25 1.25 0 1 0 2.5 0a1.25 1.25 0 1 0 -2.5 0M260.05 101.03a1.25 1.25 0 1 0 2.5 0a1.25 1.25 0 1 0 -2.5 0M211.05 244.00a1.25 1.25 0 1 0 2.5 0a1.25 1.25 0 1 0 -2.5 0M214.55 244.25a1.25 1.25 0 1 0 2.5 0a1.25 1.25 0 1 0 -2.5 0M218.05 244.98a1.25 1.25 0 1 0 2.5 0a1.25 1.25 0 1 0 -2.5 0M221.55 246.21a1.25 1.25 0 1 0 2.5 0a1.25 1.25 0 1 0 -2.5 0M225.05 247.92a1.25 1.25 0 1 0 2.5 0a1.25 1.25 0 1 0 -2.5 0M228.55 250.12a1.25 1.25 0 1 0 2.5 0a1.25 1.25 0 1 0 -2.5 0M235.55 251.38a1.25 1.25 0 1 0 2.5 0a1.25 1.25 0 1 0 -2.5 0M239.05 246.84a1.25 1.25 0 1 0 2.5 0a1.25 1.25 0 1 0 -2.5 0M242.55 242.69a1.25 1.25 0 1 0 2.5 0a1.25 1.25 0 1 0 -2.5 0M246.05 239.00a1.25 1.25 0 1 0 2.5 0a1.25 1.25 0 1 0 -2.5 0M249.55 235.81a1.25 1.25 0 1 0 2.5 0a1.25 1.25 0 1 0 -2.5 0M253.05 233.22a1.25 1.25 0 1 0 2.5 0a1.25 1.25 0 1 0 -2.5 0M256.55 231.45a1.25 1.25 0 1 0 2.5 0a1.25 1.25 0 1 0 -2.5 0M260.05 231.64a1.25 1.25 0 1 0 2.5 0a1.25 1.25 0 1 0 -2.5 0M263.55 233.55a1.25 1.25 0 1 0 2.5 0a1.25 1.25 0 1 0 -2.5 0M267.05 236.23a1.25 1.25 0 1 0 2.5 0a1.25 1.25 0 1 0 -2.5 0M270.55 239.50a1.25 1.25 0 1 0 2.5 0a1.25 1.25 0 1 0 -2.5 0M274.05 243.26a1.25 1.25 0 1 0 2.5 0a1.25 1.25 0 1 0 -2.5 0M277.55 247.46a1.25 1.25 0 1 0 2.5 0a1.25 1.25 0 1 0 -2.5 0M246.05 249.74a1.25 1.25 0 1 0 2.5 0a1.25 1.25 0 1 0 -2.5 0M249.55 246.35a1.25 1.25 0 1 0 2.5 0a1.25 1.25 0 1 0 -2.5 0M253.05 243.45a1.25 1.25 0 1 0 2.5 0a1.25 1.25 0 1 0 -2.5 0M256.55 241.15a1.25 1.25 0 1 0 2.5 0a1.25 1.25 0 1 0 -2.5 0M260.05 239.71a1.25 1.25 0 1 0 2.5 0a1.25 1.25 0 1 0 -2.5 0M263.55 240.44a1.25 1.25 0 1 0 2.5 0a1.25 1.25 0 1 0 -2.5 0M267.05 242.45a1.25 1.25 0 1 0 2.5 0a1.25 1.25 0 1 0 -2.5 0M270.55 245.12a1.25 1.25 0 1 0 2.5 0a1.25 1.25 0 1 0 -2.5 0M274.05 248.33a1.25 1.25 0 1 0 2.5 0a1.25 1.25 0 1 0 -2.5 0M253.05 250.90a1.25 1.25 0 1 0 2.5 0a1.25 1.25 0 1 0 -2.5 0M256.55 248.92a1.25 1.25 0 1 0 2.5 0a1.25 1.25 0 1 0 -2.5 0M260.05 247.32a1.25 1.25 0 1 0 2.5 0a1.25 1.25 0 1 0 -2.5 0M263.55 246.26a1.25 1.25 0 1 0 2.5 0a1.25 1.25 0 1 0 -2.5 0M267.05 246.52a1.25 1.25 0 1 0 2.5 0a1.25 1.25 0 1 0 -2.5 0M270.55 247.78a1.25 1.25 0 1 0 2.5 0a1.25 1.25 0 1 0 -2.5 0M274.05 249.50a1.25 1.25 0 1 0 2.5 0a1.25 1.25 0 1 0 -2.5 0M277.55 251.60a1.25 1.25 0 1 0 2.5 0a1.25 1.25 0 1 0 -2.5 0" fill="#7a2a9a"/><path d="M210.60 233.90L214.00 233.90L212.30 230.90ZM214.10 234.11L217.50 234.11L215.80 231.11ZM217.60 234.73L221.00 234.73L219.30 231.73ZM221.10 235.77L224.50 235.77L222.80 232.77ZM224.60 237.23L228.00 237.23L226.30 234.23ZM228.10 239.11L231.50 239.11L229.80 236.11ZM231.60 241.40L235.00 241.40L233.30 238.40ZM235.10 244.10L238.50 244.10L236.80 241.10ZM238.60 247.23L242.00 247.23L240.30 244.23ZM242.10 250.77L245.50 250.77L243.80 247.77ZM238.60 248.17L242.00 248.17L240.30 245.17ZM242.10 242.54L245.50 242.54L243.80 239.54ZM245.60 237.52L249.00 237.52L247.30 234.52ZM249.10 233.19L252.50 233.19L250.80 230.19ZM252.60 229.68L256.00 229.68L254.30 226.68ZM256.10 227.27L259.50 227.27L257.80 224.27ZM259.60 227.53L263.00 227.53L261.30 224.53ZM263.10 230.13L266.50 230.13L264.80 227.13ZM266.60 233.77L270.00 233.77L268.30 230.77ZM270.10 238.20L273.50 238.20L271.80 235.20ZM273.60 243.31L277.00 243.31L275.30 240.31ZM277.10 249.02L280.50 249.02L278.80 246.02Z" fill="#f01010"/></g>
</svg></body></html>
